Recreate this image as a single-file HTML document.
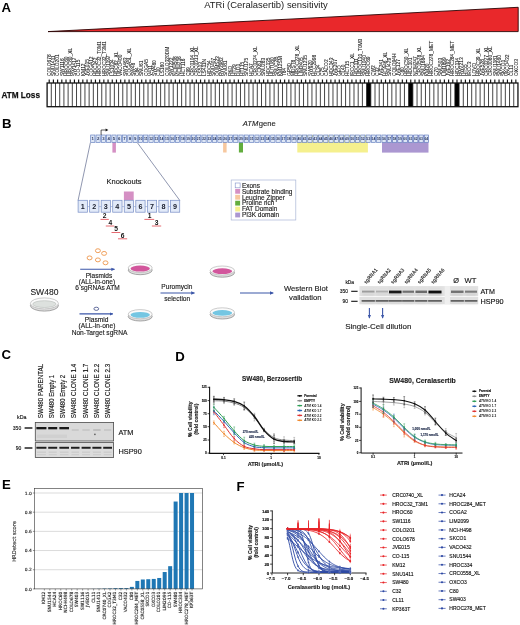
<!DOCTYPE html>
<html lang="en"><head><meta charset="utf-8"><title>ATM loss and ATRi sensitivity</title>
<style>html,body{margin:0;padding:0;background:#fff;}svg{display:block;}</style>
</head><body>
<svg width="520" height="625" viewBox="0 0 520 625" font-family="'Liberation Sans', sans-serif">
<defs>
<filter id="b1" x="-20%" y="-200%" width="140%" height="500%"><feGaussianBlur stdDeviation="0.7 0.55"/></filter>
<filter id="b2" x="-20%" y="-200%" width="140%" height="500%"><feGaussianBlur stdDeviation="1.0 0.9"/></filter>
<marker id="ahb" viewBox="0 0 6 6" refX="5" refY="3" markerWidth="3.5" markerHeight="3.5" orient="auto"><path d="M0,0.4 L6,3 L0,5.6 Z" fill="#3b56a8"/></marker>
<marker id="ahk" viewBox="0 0 6 6" refX="3" refY="3" markerWidth="3.6" markerHeight="3.6" orient="auto"><path d="M0,0.2 L6,3 L0,5.8 Z" fill="#111"/></marker>
</defs>
<rect x="0" y="0" width="520" height="625" fill="#ffffff"/>
<g id="panelA">
<text x="1.60" y="12.40" font-size="13.2" text-anchor="start" font-weight="bold" fill="#000">A</text>
<text x="266.00" y="7.90" font-size="9.45" text-anchor="middle" font-weight="normal" fill="#1a1a1a">ATRi (Ceralasertib) sensitivity</text>
<polygon points="48,31.6 518.2,7.3 518.2,31.6" fill="#e9282b" stroke="#2a0606" stroke-width="0.9" stroke-linejoin="miter"/>
<text x="1.40" y="98.30" font-size="9.5" text-anchor="start" font-weight="bold" fill="#111" stroke="#111" stroke-width="0.25" textLength="38.6" lengthAdjust="spacingAndGlyphs">ATM Loss</text>
<rect x="454.89" y="83.00" width="4.20" height="23.70" fill="#000" stroke="none" stroke-width="0.7"/>
<rect x="366.60" y="83.00" width="4.20" height="23.70" fill="#000" stroke="none" stroke-width="0.7"/>
<rect x="408.64" y="83.00" width="4.20" height="23.70" fill="#000" stroke="none" stroke-width="0.7"/>
<path d="M51.30,83.0 V106.7 M55.51,83.0 V106.7 M59.71,83.0 V106.7 M63.92,83.0 V106.7 M68.12,83.0 V106.7 M72.32,83.0 V106.7 M76.53,83.0 V106.7 M80.73,83.0 V106.7 M84.94,83.0 V106.7 M89.14,83.0 V106.7 M93.34,83.0 V106.7 M97.55,83.0 V106.7 M101.75,83.0 V106.7 M105.96,83.0 V106.7 M110.16,83.0 V106.7 M114.36,83.0 V106.7 M118.57,83.0 V106.7 M122.77,83.0 V106.7 M126.98,83.0 V106.7 M131.18,83.0 V106.7 M135.38,83.0 V106.7 M139.59,83.0 V106.7 M143.79,83.0 V106.7 M148.00,83.0 V106.7 M152.20,83.0 V106.7 M156.40,83.0 V106.7 M160.61,83.0 V106.7 M164.81,83.0 V106.7 M169.02,83.0 V106.7 M173.22,83.0 V106.7 M177.42,83.0 V106.7 M181.63,83.0 V106.7 M185.83,83.0 V106.7 M190.04,83.0 V106.7 M194.24,83.0 V106.7 M198.44,83.0 V106.7 M202.65,83.0 V106.7 M206.85,83.0 V106.7 M211.06,83.0 V106.7 M215.26,83.0 V106.7 M219.46,83.0 V106.7 M223.67,83.0 V106.7 M227.87,83.0 V106.7 M232.08,83.0 V106.7 M236.28,83.0 V106.7 M240.48,83.0 V106.7 M244.69,83.0 V106.7 M248.89,83.0 V106.7 M253.10,83.0 V106.7 M257.30,83.0 V106.7 M261.50,83.0 V106.7 M265.71,83.0 V106.7 M269.91,83.0 V106.7 M274.12,83.0 V106.7 M278.32,83.0 V106.7 M282.52,83.0 V106.7 M286.73,83.0 V106.7 M290.93,83.0 V106.7 M295.14,83.0 V106.7 M299.34,83.0 V106.7 M303.54,83.0 V106.7 M307.75,83.0 V106.7 M311.95,83.0 V106.7 M316.16,83.0 V106.7 M320.36,83.0 V106.7 M324.56,83.0 V106.7 M328.77,83.0 V106.7 M332.97,83.0 V106.7 M337.18,83.0 V106.7 M341.38,83.0 V106.7 M345.58,83.0 V106.7 M349.79,83.0 V106.7 M353.99,83.0 V106.7 M358.20,83.0 V106.7 M362.40,83.0 V106.7 M366.60,83.0 V106.7 M370.81,83.0 V106.7 M375.01,83.0 V106.7 M379.22,83.0 V106.7 M383.42,83.0 V106.7 M387.62,83.0 V106.7 M391.83,83.0 V106.7 M396.03,83.0 V106.7 M400.24,83.0 V106.7 M404.44,83.0 V106.7 M408.64,83.0 V106.7 M412.85,83.0 V106.7 M417.05,83.0 V106.7 M421.26,83.0 V106.7 M425.46,83.0 V106.7 M429.66,83.0 V106.7 M433.87,83.0 V106.7 M438.07,83.0 V106.7 M442.28,83.0 V106.7 M446.48,83.0 V106.7 M450.68,83.0 V106.7 M454.89,83.0 V106.7 M459.09,83.0 V106.7 M463.30,83.0 V106.7 M467.50,83.0 V106.7 M471.70,83.0 V106.7 M475.91,83.0 V106.7 M480.11,83.0 V106.7 M484.32,83.0 V106.7 M488.52,83.0 V106.7 M492.72,83.0 V106.7 M496.93,83.0 V106.7 M501.13,83.0 V106.7 M505.34,83.0 V106.7 M509.54,83.0 V106.7 M513.74,83.0 V106.7 " stroke="#161616" stroke-width="0.8" fill="none"/>
<path d="M49.20,79.6 V83.0 M53.41,79.6 V83.0 M57.61,79.6 V83.0 M61.81,79.6 V83.0 M66.02,79.6 V83.0 M70.22,79.6 V83.0 M74.43,79.6 V83.0 M78.63,79.6 V83.0 M82.83,79.6 V83.0 M87.04,79.6 V83.0 M91.24,79.6 V83.0 M95.45,79.6 V83.0 M99.65,79.6 V83.0 M103.85,79.6 V83.0 M108.06,79.6 V83.0 M112.26,79.6 V83.0 M116.47,79.6 V83.0 M120.67,79.6 V83.0 M124.87,79.6 V83.0 M129.08,79.6 V83.0 M133.28,79.6 V83.0 M137.49,79.6 V83.0 M141.69,79.6 V83.0 M145.89,79.6 V83.0 M150.10,79.6 V83.0 M154.30,79.6 V83.0 M158.51,79.6 V83.0 M162.71,79.6 V83.0 M166.91,79.6 V83.0 M171.12,79.6 V83.0 M175.32,79.6 V83.0 M179.53,79.6 V83.0 M183.73,79.6 V83.0 M187.93,79.6 V83.0 M192.14,79.6 V83.0 M196.34,79.6 V83.0 M200.55,79.6 V83.0 M204.75,79.6 V83.0 M208.95,79.6 V83.0 M213.16,79.6 V83.0 M217.36,79.6 V83.0 M221.57,79.6 V83.0 M225.77,79.6 V83.0 M229.97,79.6 V83.0 M234.18,79.6 V83.0 M238.38,79.6 V83.0 M242.59,79.6 V83.0 M246.79,79.6 V83.0 M250.99,79.6 V83.0 M255.20,79.6 V83.0 M259.40,79.6 V83.0 M263.61,79.6 V83.0 M267.81,79.6 V83.0 M272.01,79.6 V83.0 M276.22,79.6 V83.0 M280.42,79.6 V83.0 M284.63,79.6 V83.0 M288.83,79.6 V83.0 M293.03,79.6 V83.0 M297.24,79.6 V83.0 M301.44,79.6 V83.0 M305.65,79.6 V83.0 M309.85,79.6 V83.0 M314.05,79.6 V83.0 M318.26,79.6 V83.0 M322.46,79.6 V83.0 M326.67,79.6 V83.0 M330.87,79.6 V83.0 M335.07,79.6 V83.0 M339.28,79.6 V83.0 M343.48,79.6 V83.0 M347.69,79.6 V83.0 M351.89,79.6 V83.0 M356.09,79.6 V83.0 M360.30,79.6 V83.0 M364.50,79.6 V83.0 M368.71,79.6 V83.0 M372.91,79.6 V83.0 M377.11,79.6 V83.0 M381.32,79.6 V83.0 M385.52,79.6 V83.0 M389.73,79.6 V83.0 M393.93,79.6 V83.0 M398.13,79.6 V83.0 M402.34,79.6 V83.0 M406.54,79.6 V83.0 M410.75,79.6 V83.0 M414.95,79.6 V83.0 M419.15,79.6 V83.0 M423.36,79.6 V83.0 M427.56,79.6 V83.0 M431.77,79.6 V83.0 M435.97,79.6 V83.0 M440.17,79.6 V83.0 M444.38,79.6 V83.0 M448.58,79.6 V83.0 M452.79,79.6 V83.0 M456.99,79.6 V83.0 M461.19,79.6 V83.0 M465.40,79.6 V83.0 M469.60,79.6 V83.0 M473.81,79.6 V83.0 M478.01,79.6 V83.0 M482.21,79.6 V83.0 M486.42,79.6 V83.0 M490.62,79.6 V83.0 M494.83,79.6 V83.0 M499.03,79.6 V83.0 M503.23,79.6 V83.0 M507.44,79.6 V83.0 M511.64,79.6 V83.0 M515.85,79.6 V83.0 " stroke="#111" stroke-width="1.15" fill="none"/>
<rect x="47.10" y="83.00" width="470.85" height="23.70" fill="none" stroke="#111" stroke-width="1.3"/>
<g font-size="4.85" fill="#1a1a1a" stroke="#1a1a1a" stroke-width="0.07">
<text x="50.90" y="76.1" transform="rotate(-90 50.90 76.1)">COLO678</text>
<text x="55.11" y="76.1" transform="rotate(-90 55.11 76.1)">SNU1411</text>
<text x="59.31" y="76.1" transform="rotate(-90 59.31 76.1)">COLO201</text>
<text x="63.51" y="76.1" transform="rotate(-90 63.51 76.1)">SW1116</text>
<text x="67.72" y="76.1" transform="rotate(-90 67.72 76.1)">HROC60</text>
<text x="71.92" y="76.1" transform="rotate(-90 71.92 76.1)">HROC80_XL</text>
<text x="76.13" y="76.1" transform="rotate(-90 76.13 76.1)">SW1417</text>
<text x="80.33" y="76.1" transform="rotate(-90 80.33 76.1)">CO-115</text>
<text x="84.53" y="76.1" transform="rotate(-90 84.53 76.1)">KM12</text>
<text x="88.74" y="76.1" transform="rotate(-90 88.74 76.1)">JVE015</text>
<text x="92.94" y="76.1" transform="rotate(-90 92.94 76.1)">COGA12</text>
<text x="97.15" y="76.1" transform="rotate(-90 97.15 76.1)">HDC142</text>
<text x="101.35" y="76.1" transform="rotate(-90 101.35 76.1)">HROC32_T0M1</text>
<text x="105.55" y="76.1" transform="rotate(-90 105.55 76.1)">HROC32_T3M1</text>
<text x="109.76" y="76.1" transform="rotate(-90 109.76 76.1)">SNU1197</text>
<text x="113.96" y="76.1" transform="rotate(-90 113.96 76.1)">LS1034</text>
<text x="118.17" y="76.1" transform="rotate(-90 118.17 76.1)">HDC82_XL</text>
<text x="122.37" y="76.1" transform="rotate(-90 122.37 76.1)">VACO400</text>
<text x="126.57" y="76.1" transform="rotate(-90 126.57 76.1)">SW1463</text>
<text x="130.78" y="76.1" transform="rotate(-90 130.78 76.1)">COGA5L_XL</text>
<text x="134.98" y="76.1" transform="rotate(-90 134.98 76.1)">SW48</text>
<text x="139.19" y="76.1" transform="rotate(-90 139.19 76.1)">C84</text>
<text x="143.39" y="76.1" transform="rotate(-90 143.39 76.1)">SNU61</text>
<text x="147.59" y="76.1" transform="rotate(-90 147.59 76.1)">COGA5</text>
<text x="151.80" y="76.1" transform="rotate(-90 151.80 76.1)">V411</text>
<text x="156.00" y="76.1" transform="rotate(-90 156.00 76.1)">SW480</text>
<text x="160.21" y="76.1" transform="rotate(-90 160.21 76.1)">C10</text>
<text x="164.41" y="76.1" transform="rotate(-90 164.41 76.1)">LS180</text>
<text x="168.61" y="76.1" transform="rotate(-90 168.61 76.1)">COLO320DM</text>
<text x="172.82" y="76.1" transform="rotate(-90 172.82 76.1)">SW1222</text>
<text x="177.02" y="76.1" transform="rotate(-90 177.02 76.1)">NCIH508</text>
<text x="181.23" y="76.1" transform="rotate(-90 181.23 76.1)">NCIH716</text>
<text x="185.43" y="76.1" transform="rotate(-90 185.43 76.1)">HCT116</text>
<text x="189.63" y="76.1" transform="rotate(-90 189.63 76.1)">C99</text>
<text x="193.84" y="76.1" transform="rotate(-90 193.84 76.1)">CRC0104_XL</text>
<text x="198.04" y="76.1" transform="rotate(-90 198.04 76.1)">CRC0313_XL</text>
<text x="202.25" y="76.1" transform="rotate(-90 202.25 76.1)">LS513</text>
<text x="206.45" y="76.1" transform="rotate(-90 206.45 76.1)">LS411N</text>
<text x="210.65" y="76.1" transform="rotate(-90 210.65 76.1)">HDC54</text>
<text x="214.86" y="76.1" transform="rotate(-90 214.86 76.1)">SNU407</text>
<text x="219.06" y="76.1" transform="rotate(-90 219.06 76.1)">OUMS23</text>
<text x="223.27" y="76.1" transform="rotate(-90 223.27 76.1)">RW2982</text>
<text x="227.47" y="76.1" transform="rotate(-90 227.47 76.1)">SNU81</text>
<text x="231.67" y="76.1" transform="rotate(-90 231.67 76.1)">RKO</text>
<text x="235.88" y="76.1" transform="rotate(-90 235.88 76.1)">HT29</text>
<text x="240.08" y="76.1" transform="rotate(-90 240.08 76.1)">DLD1</text>
<text x="244.29" y="76.1" transform="rotate(-90 244.29 76.1)">HT115</text>
<text x="248.49" y="76.1" transform="rotate(-90 248.49 76.1)">SNU175</text>
<text x="252.69" y="76.1" transform="rotate(-90 252.69 76.1)">HCA7</text>
<text x="256.90" y="76.1" transform="rotate(-90 256.90 76.1)">CRC0274_XL</text>
<text x="261.10" y="76.1" transform="rotate(-90 261.10 76.1)">CCK81</text>
<text x="265.31" y="76.1" transform="rotate(-90 265.31 76.1)">SNU283</text>
<text x="269.51" y="76.1" transform="rotate(-90 269.51 76.1)">HDC135</text>
<text x="273.71" y="76.1" transform="rotate(-90 273.71 76.1)">HUTU80</text>
<text x="277.92" y="76.1" transform="rotate(-90 277.92 76.1)">SNUC2B</text>
<text x="282.12" y="76.1" transform="rotate(-90 282.12 76.1)">KM12SM</text>
<text x="286.33" y="76.1" transform="rotate(-90 286.33 76.1)">T84</text>
<text x="290.53" y="76.1" transform="rotate(-90 290.53 76.1)">GP5D</text>
<text x="294.73" y="76.1" transform="rotate(-90 294.73 76.1)">MDST8</text>
<text x="298.94" y="76.1" transform="rotate(-90 298.94 76.1)">HROC278_XL</text>
<text x="303.14" y="76.1" transform="rotate(-90 303.14 76.1)">LIM2405</text>
<text x="307.35" y="76.1" transform="rotate(-90 307.35 76.1)">SNU1235</text>
<text x="311.55" y="76.1" transform="rotate(-90 311.55 76.1)">SW620</text>
<text x="315.75" y="76.1" transform="rotate(-90 315.75 76.1)">HCC2998</text>
<text x="319.96" y="76.1" transform="rotate(-90 319.96 76.1)">CL34</text>
<text x="324.16" y="76.1" transform="rotate(-90 324.16 76.1)">C75</text>
<text x="328.37" y="76.1" transform="rotate(-90 328.37 76.1)">CACO2</text>
<text x="332.57" y="76.1" transform="rotate(-90 332.57 76.1)">HDC143</text>
<text x="336.77" y="76.1" transform="rotate(-90 336.77 76.1)">JVE207</text>
<text x="340.98" y="76.1" transform="rotate(-90 340.98 76.1)">GEO</text>
<text x="345.18" y="76.1" transform="rotate(-90 345.18 76.1)">CL40</text>
<text x="349.39" y="76.1" transform="rotate(-90 349.39 76.1)">HCT15</text>
<text x="353.59" y="76.1" transform="rotate(-90 353.59 76.1)">IRCC1_XL</text>
<text x="357.79" y="76.1" transform="rotate(-90 357.79 76.1)">HDC111</text>
<text x="362.00" y="76.1" transform="rotate(-90 362.00 76.1)">HROC131_T0M3</text>
<text x="366.20" y="76.1" transform="rotate(-90 366.20 76.1)">SNU1040</text>
<text x="370.41" y="76.1" transform="rotate(-90 370.41 76.1)">HROC69</text>
<text x="374.61" y="76.1" transform="rotate(-90 374.61 76.1)">CW2</text>
<text x="378.81" y="76.1" transform="rotate(-90 378.81 76.1)">C32</text>
<text x="383.02" y="76.1" transform="rotate(-90 383.02 76.1)">JVE241</text>
<text x="387.22" y="76.1" transform="rotate(-90 387.22 76.1)">HCA46_XL</text>
<text x="391.43" y="76.1" transform="rotate(-90 391.43 76.1)">SNU479</text>
<text x="395.63" y="76.1" transform="rotate(-90 395.63 76.1)">COLO94H</text>
<text x="399.83" y="76.1" transform="rotate(-90 399.83 76.1)">JVE127</text>
<text x="404.04" y="76.1" transform="rotate(-90 404.04 76.1)">C80</text>
<text x="408.24" y="76.1" transform="rotate(-90 408.24 76.1)">HROC50_XL</text>
<text x="412.45" y="76.1" transform="rotate(-90 412.45 76.1)">HDC101</text>
<text x="416.65" y="76.1" transform="rotate(-90 416.65 76.1)">NCIH747</text>
<text x="420.85" y="76.1" transform="rotate(-90 420.85 76.1)">CRC0578_XL</text>
<text x="425.06" y="76.1" transform="rotate(-90 425.06 76.1)">SNU1684</text>
<text x="429.26" y="76.1" transform="rotate(-90 429.26 76.1)">KM20</text>
<text x="433.47" y="76.1" transform="rotate(-90 433.47 76.1)">HROC278_MET</text>
<text x="437.67" y="76.1" transform="rotate(-90 437.67 76.1)">C70</text>
<text x="441.87" y="76.1" transform="rotate(-90 441.87 76.1)">SNU503</text>
<text x="446.08" y="76.1" transform="rotate(-90 446.08 76.1)">LIM1899</text>
<text x="450.28" y="76.1" transform="rotate(-90 450.28 76.1)">JVE192</text>
<text x="454.49" y="76.1" transform="rotate(-90 454.49 76.1)">HROC284_MET</text>
<text x="458.69" y="76.1" transform="rotate(-90 458.69 76.1)">HDC114</text>
<text x="462.89" y="76.1" transform="rotate(-90 462.89 76.1)">RW7213</text>
<text x="467.10" y="76.1" transform="rotate(-90 467.10 76.1)">HT55</text>
<text x="471.30" y="76.1" transform="rotate(-90 471.30 76.1)">IRCC3</text>
<text x="475.51" y="76.1" transform="rotate(-90 475.51 76.1)">LOVO</text>
<text x="479.71" y="76.1" transform="rotate(-90 479.71 76.1)">HROC39_XL</text>
<text x="483.91" y="76.1" transform="rotate(-90 483.91 76.1)">JVE528</text>
<text x="488.12" y="76.1" transform="rotate(-90 488.12 76.1)">CRC0277_XL</text>
<text x="492.32" y="76.1" transform="rotate(-90 492.32 76.1)">CRC0080_XL</text>
<text x="496.53" y="76.1" transform="rotate(-90 496.53 76.1)">SNU1181</text>
<text x="500.73" y="76.1" transform="rotate(-90 500.73 76.1)">SNU1460</text>
<text x="504.93" y="76.1" transform="rotate(-90 504.93 76.1)">SKCO1</text>
<text x="509.14" y="76.1" transform="rotate(-90 509.14 76.1)">VACO432</text>
<text x="513.34" y="76.1" transform="rotate(-90 513.34 76.1)">CL11</text>
<text x="517.55" y="76.1" transform="rotate(-90 517.55 76.1)">OXCO3</text>
</g>
</g>
<g id="panelB">
<text x="2.00" y="127.60" font-size="13.2" text-anchor="start" font-weight="bold" fill="#000">B</text>
<text x="242.8" y="126.2" font-size="7.65" fill="#1a1a1a" stroke="#1a1a1a" stroke-width="0.1"><tspan font-style="italic">ATM</tspan><tspan dx="0.3">gene</tspan></text>
<rect x="297.30" y="135.00" width="70.60" height="17.50" fill="#f5f08e" stroke="none" stroke-width="0.7"/>
<rect x="382.00" y="135.00" width="46.50" height="17.60" fill="#ab97d1" stroke="none" stroke-width="0.7"/>
<rect x="112.40" y="142.00" width="3.50" height="10.60" fill="#d590c4" stroke="none" stroke-width="0.7"/>
<rect x="223.10" y="142.00" width="3.50" height="10.50" fill="#f7c89f" stroke="none" stroke-width="0.7"/>
<rect x="238.90" y="142.00" width="4.10" height="10.50" fill="#62ad3e" stroke="none" stroke-width="0.7"/>
<rect x="90.70" y="137.30" width="337.78" height="2.80" fill="#cfdcf0" stroke="none" stroke-width="0.7"/>
<g font-size="4.3" text-anchor="middle" fill="#28355f" font-weight="bold">
<rect x="90.70" y="135.00" width="4.20" height="7.50" fill="#dde6f5" stroke="#627dbf" stroke-width="0.65"/>
<text x="92.80" y="140.45">1</text>
<rect x="96.00" y="135.00" width="4.20" height="7.50" fill="#dde6f5" stroke="#627dbf" stroke-width="0.65"/>
<text x="98.09" y="140.45">2</text>
<rect x="101.29" y="135.00" width="4.20" height="7.50" fill="#dde6f5" stroke="#627dbf" stroke-width="0.65"/>
<text x="103.39" y="140.45">3</text>
<rect x="106.59" y="135.00" width="4.20" height="7.50" fill="#dde6f5" stroke="#627dbf" stroke-width="0.65"/>
<text x="108.69" y="140.45">4</text>
<rect x="111.88" y="135.00" width="4.20" height="7.50" fill="#dde6f5" stroke="#627dbf" stroke-width="0.65"/>
<text x="113.98" y="140.45">5</text>
<rect x="117.18" y="135.00" width="4.20" height="7.50" fill="#dde6f5" stroke="#627dbf" stroke-width="0.65"/>
<text x="119.28" y="140.45">6</text>
<rect x="122.47" y="135.00" width="4.20" height="7.50" fill="#dde6f5" stroke="#627dbf" stroke-width="0.65"/>
<text x="124.57" y="140.45">7</text>
<rect x="127.77" y="135.00" width="4.20" height="7.50" fill="#dde6f5" stroke="#627dbf" stroke-width="0.65"/>
<text x="129.87" y="140.45">8</text>
<rect x="133.06" y="135.00" width="4.20" height="7.50" fill="#dde6f5" stroke="#627dbf" stroke-width="0.65"/>
<text x="135.16" y="140.45">9</text>
<rect x="138.36" y="135.00" width="4.20" height="7.50" fill="#dde6f5" stroke="#627dbf" stroke-width="0.65"/>
<text x="140.46" y="140.45" textLength="3.7" lengthAdjust="spacingAndGlyphs">10</text>
<rect x="143.65" y="135.00" width="4.20" height="7.50" fill="#dde6f5" stroke="#627dbf" stroke-width="0.65"/>
<text x="145.75" y="140.45" textLength="3.7" lengthAdjust="spacingAndGlyphs">11</text>
<rect x="148.94" y="135.00" width="4.20" height="7.50" fill="#dde6f5" stroke="#627dbf" stroke-width="0.65"/>
<text x="151.04" y="140.45" textLength="3.7" lengthAdjust="spacingAndGlyphs">12</text>
<rect x="154.24" y="135.00" width="4.20" height="7.50" fill="#dde6f5" stroke="#627dbf" stroke-width="0.65"/>
<text x="156.34" y="140.45" textLength="3.7" lengthAdjust="spacingAndGlyphs">13</text>
<rect x="159.53" y="135.00" width="4.20" height="7.50" fill="#dde6f5" stroke="#627dbf" stroke-width="0.65"/>
<text x="161.63" y="140.45" textLength="3.7" lengthAdjust="spacingAndGlyphs">14</text>
<rect x="164.83" y="135.00" width="4.20" height="7.50" fill="#dde6f5" stroke="#627dbf" stroke-width="0.65"/>
<text x="166.93" y="140.45" textLength="3.7" lengthAdjust="spacingAndGlyphs">15</text>
<rect x="170.12" y="135.00" width="4.20" height="7.50" fill="#dde6f5" stroke="#627dbf" stroke-width="0.65"/>
<text x="172.22" y="140.45" textLength="3.7" lengthAdjust="spacingAndGlyphs">16</text>
<rect x="175.42" y="135.00" width="4.20" height="7.50" fill="#dde6f5" stroke="#627dbf" stroke-width="0.65"/>
<text x="177.52" y="140.45" textLength="3.7" lengthAdjust="spacingAndGlyphs">17</text>
<rect x="180.72" y="135.00" width="4.20" height="7.50" fill="#dde6f5" stroke="#627dbf" stroke-width="0.65"/>
<text x="182.81" y="140.45" textLength="3.7" lengthAdjust="spacingAndGlyphs">18</text>
<rect x="186.01" y="135.00" width="4.20" height="7.50" fill="#dde6f5" stroke="#627dbf" stroke-width="0.65"/>
<text x="188.11" y="140.45" textLength="3.7" lengthAdjust="spacingAndGlyphs">19</text>
<rect x="191.31" y="135.00" width="4.20" height="7.50" fill="#dde6f5" stroke="#627dbf" stroke-width="0.65"/>
<text x="193.41" y="140.45" textLength="3.7" lengthAdjust="spacingAndGlyphs">20</text>
<rect x="196.60" y="135.00" width="4.20" height="7.50" fill="#dde6f5" stroke="#627dbf" stroke-width="0.65"/>
<text x="198.70" y="140.45" textLength="3.7" lengthAdjust="spacingAndGlyphs">21</text>
<rect x="201.89" y="135.00" width="4.20" height="7.50" fill="#dde6f5" stroke="#627dbf" stroke-width="0.65"/>
<text x="203.99" y="140.45" textLength="3.7" lengthAdjust="spacingAndGlyphs">22</text>
<rect x="207.19" y="135.00" width="4.20" height="7.50" fill="#dde6f5" stroke="#627dbf" stroke-width="0.65"/>
<text x="209.29" y="140.45" textLength="3.7" lengthAdjust="spacingAndGlyphs">23</text>
<rect x="212.49" y="135.00" width="4.20" height="7.50" fill="#dde6f5" stroke="#627dbf" stroke-width="0.65"/>
<text x="214.59" y="140.45" textLength="3.7" lengthAdjust="spacingAndGlyphs">24</text>
<rect x="217.78" y="135.00" width="4.20" height="7.50" fill="#dde6f5" stroke="#627dbf" stroke-width="0.65"/>
<text x="219.88" y="140.45" textLength="3.7" lengthAdjust="spacingAndGlyphs">25</text>
<rect x="223.07" y="135.00" width="4.20" height="7.50" fill="#dde6f5" stroke="#627dbf" stroke-width="0.65"/>
<text x="225.17" y="140.45" textLength="3.7" lengthAdjust="spacingAndGlyphs">26</text>
<rect x="228.37" y="135.00" width="4.20" height="7.50" fill="#dde6f5" stroke="#627dbf" stroke-width="0.65"/>
<text x="230.47" y="140.45" textLength="3.7" lengthAdjust="spacingAndGlyphs">27</text>
<rect x="233.67" y="135.00" width="4.20" height="7.50" fill="#dde6f5" stroke="#627dbf" stroke-width="0.65"/>
<text x="235.77" y="140.45" textLength="3.7" lengthAdjust="spacingAndGlyphs">28</text>
<rect x="238.96" y="135.00" width="4.20" height="7.50" fill="#dde6f5" stroke="#627dbf" stroke-width="0.65"/>
<text x="241.06" y="140.45" textLength="3.7" lengthAdjust="spacingAndGlyphs">29</text>
<rect x="244.25" y="135.00" width="4.20" height="7.50" fill="#dde6f5" stroke="#627dbf" stroke-width="0.65"/>
<text x="246.35" y="140.45" textLength="3.7" lengthAdjust="spacingAndGlyphs">30</text>
<rect x="249.55" y="135.00" width="4.20" height="7.50" fill="#dde6f5" stroke="#627dbf" stroke-width="0.65"/>
<text x="251.65" y="140.45" textLength="3.7" lengthAdjust="spacingAndGlyphs">31</text>
<rect x="254.85" y="135.00" width="4.20" height="7.50" fill="#dde6f5" stroke="#627dbf" stroke-width="0.65"/>
<text x="256.95" y="140.45" textLength="3.7" lengthAdjust="spacingAndGlyphs">32</text>
<rect x="260.14" y="135.00" width="4.20" height="7.50" fill="#dde6f5" stroke="#627dbf" stroke-width="0.65"/>
<text x="262.24" y="140.45" textLength="3.7" lengthAdjust="spacingAndGlyphs">33</text>
<rect x="265.44" y="135.00" width="4.20" height="7.50" fill="#dde6f5" stroke="#627dbf" stroke-width="0.65"/>
<text x="267.54" y="140.45" textLength="3.7" lengthAdjust="spacingAndGlyphs">34</text>
<rect x="270.73" y="135.00" width="4.20" height="7.50" fill="#dde6f5" stroke="#627dbf" stroke-width="0.65"/>
<text x="272.83" y="140.45" textLength="3.7" lengthAdjust="spacingAndGlyphs">35</text>
<rect x="276.02" y="135.00" width="4.20" height="7.50" fill="#dde6f5" stroke="#627dbf" stroke-width="0.65"/>
<text x="278.12" y="140.45" textLength="3.7" lengthAdjust="spacingAndGlyphs">36</text>
<rect x="281.32" y="135.00" width="4.20" height="7.50" fill="#dde6f5" stroke="#627dbf" stroke-width="0.65"/>
<text x="283.42" y="140.45" textLength="3.7" lengthAdjust="spacingAndGlyphs">37</text>
<rect x="286.62" y="135.00" width="4.20" height="7.50" fill="#dde6f5" stroke="#627dbf" stroke-width="0.65"/>
<text x="288.72" y="140.45" textLength="3.7" lengthAdjust="spacingAndGlyphs">38</text>
<rect x="291.91" y="135.00" width="4.20" height="7.50" fill="#dde6f5" stroke="#627dbf" stroke-width="0.65"/>
<text x="294.01" y="140.45" textLength="3.7" lengthAdjust="spacingAndGlyphs">39</text>
<rect x="297.20" y="135.00" width="4.20" height="7.50" fill="#dde6f5" stroke="#627dbf" stroke-width="0.65"/>
<text x="299.31" y="140.45" textLength="3.7" lengthAdjust="spacingAndGlyphs">40</text>
<rect x="302.50" y="135.00" width="4.20" height="7.50" fill="#dde6f5" stroke="#627dbf" stroke-width="0.65"/>
<text x="304.60" y="140.45" textLength="3.7" lengthAdjust="spacingAndGlyphs">41</text>
<rect x="307.80" y="135.00" width="4.20" height="7.50" fill="#dde6f5" stroke="#627dbf" stroke-width="0.65"/>
<text x="309.90" y="140.45" textLength="3.7" lengthAdjust="spacingAndGlyphs">42</text>
<rect x="313.09" y="135.00" width="4.20" height="7.50" fill="#dde6f5" stroke="#627dbf" stroke-width="0.65"/>
<text x="315.19" y="140.45" textLength="3.7" lengthAdjust="spacingAndGlyphs">43</text>
<rect x="318.38" y="135.00" width="4.20" height="7.50" fill="#dde6f5" stroke="#627dbf" stroke-width="0.65"/>
<text x="320.49" y="140.45" textLength="3.7" lengthAdjust="spacingAndGlyphs">44</text>
<rect x="323.68" y="135.00" width="4.20" height="7.50" fill="#dde6f5" stroke="#627dbf" stroke-width="0.65"/>
<text x="325.78" y="140.45" textLength="3.7" lengthAdjust="spacingAndGlyphs">45</text>
<rect x="328.98" y="135.00" width="4.20" height="7.50" fill="#dde6f5" stroke="#627dbf" stroke-width="0.65"/>
<text x="331.08" y="140.45" textLength="3.7" lengthAdjust="spacingAndGlyphs">46</text>
<rect x="334.27" y="135.00" width="4.20" height="7.50" fill="#dde6f5" stroke="#627dbf" stroke-width="0.65"/>
<text x="336.37" y="140.45" textLength="3.7" lengthAdjust="spacingAndGlyphs">47</text>
<rect x="339.56" y="135.00" width="4.20" height="7.50" fill="#dde6f5" stroke="#627dbf" stroke-width="0.65"/>
<text x="341.67" y="140.45" textLength="3.7" lengthAdjust="spacingAndGlyphs">48</text>
<rect x="344.86" y="135.00" width="4.20" height="7.50" fill="#dde6f5" stroke="#627dbf" stroke-width="0.65"/>
<text x="346.96" y="140.45" textLength="3.7" lengthAdjust="spacingAndGlyphs">49</text>
<rect x="350.15" y="135.00" width="4.20" height="7.50" fill="#dde6f5" stroke="#627dbf" stroke-width="0.65"/>
<text x="352.25" y="140.45" textLength="3.7" lengthAdjust="spacingAndGlyphs">50</text>
<rect x="355.45" y="135.00" width="4.20" height="7.50" fill="#dde6f5" stroke="#627dbf" stroke-width="0.65"/>
<text x="357.55" y="140.45" textLength="3.7" lengthAdjust="spacingAndGlyphs">51</text>
<rect x="360.75" y="135.00" width="4.20" height="7.50" fill="#dde6f5" stroke="#627dbf" stroke-width="0.65"/>
<text x="362.85" y="140.45" textLength="3.7" lengthAdjust="spacingAndGlyphs">52</text>
<rect x="366.04" y="135.00" width="4.20" height="7.50" fill="#dde6f5" stroke="#627dbf" stroke-width="0.65"/>
<text x="368.14" y="140.45" textLength="3.7" lengthAdjust="spacingAndGlyphs">53</text>
<rect x="371.33" y="135.00" width="4.20" height="7.50" fill="#dde6f5" stroke="#627dbf" stroke-width="0.65"/>
<text x="373.44" y="140.45" textLength="3.7" lengthAdjust="spacingAndGlyphs">54</text>
<rect x="376.63" y="135.00" width="4.20" height="7.50" fill="#dde6f5" stroke="#627dbf" stroke-width="0.65"/>
<text x="378.73" y="140.45" textLength="3.7" lengthAdjust="spacingAndGlyphs">55</text>
<rect x="381.93" y="135.00" width="4.20" height="7.50" fill="#dde6f5" stroke="#627dbf" stroke-width="0.65"/>
<text x="384.03" y="140.45" textLength="3.7" lengthAdjust="spacingAndGlyphs">56</text>
<rect x="387.22" y="135.00" width="4.20" height="7.50" fill="#dde6f5" stroke="#627dbf" stroke-width="0.65"/>
<text x="389.32" y="140.45" textLength="3.7" lengthAdjust="spacingAndGlyphs">57</text>
<rect x="392.51" y="135.00" width="4.20" height="7.50" fill="#dde6f5" stroke="#627dbf" stroke-width="0.65"/>
<text x="394.62" y="140.45" textLength="3.7" lengthAdjust="spacingAndGlyphs">58</text>
<rect x="397.81" y="135.00" width="4.20" height="7.50" fill="#dde6f5" stroke="#627dbf" stroke-width="0.65"/>
<text x="399.91" y="140.45" textLength="3.7" lengthAdjust="spacingAndGlyphs">59</text>
<rect x="403.10" y="135.00" width="4.20" height="7.50" fill="#dde6f5" stroke="#627dbf" stroke-width="0.65"/>
<text x="405.20" y="140.45" textLength="3.7" lengthAdjust="spacingAndGlyphs">60</text>
<rect x="408.40" y="135.00" width="4.20" height="7.50" fill="#dde6f5" stroke="#627dbf" stroke-width="0.65"/>
<text x="410.50" y="140.45" textLength="3.7" lengthAdjust="spacingAndGlyphs">61</text>
<rect x="413.69" y="135.00" width="4.20" height="7.50" fill="#dde6f5" stroke="#627dbf" stroke-width="0.65"/>
<text x="415.80" y="140.45" textLength="3.7" lengthAdjust="spacingAndGlyphs">62</text>
<rect x="418.99" y="135.00" width="4.20" height="7.50" fill="#dde6f5" stroke="#627dbf" stroke-width="0.65"/>
<text x="421.09" y="140.45" textLength="3.7" lengthAdjust="spacingAndGlyphs">63</text>
<rect x="424.28" y="135.00" width="4.20" height="7.50" fill="#dde6f5" stroke="#627dbf" stroke-width="0.65"/>
<text x="426.38" y="140.45" textLength="3.7" lengthAdjust="spacingAndGlyphs">64</text>
</g>
<path d="M101.1,135 V130 H106" fill="none" stroke="#111" stroke-width="0.7"/>
<polygon points="105.6,128.5 108.4,130 105.6,131.5" fill="#111"/>
<line x1="90.40" y1="142.60" x2="78.10" y2="200.30" stroke="#44507a" stroke-width="0.6"/>
<line x1="137.30" y1="142.60" x2="179.70" y2="200.30" stroke="#44507a" stroke-width="0.6"/>
<text x="124.00" y="184.00" font-size="7.5" text-anchor="middle" font-weight="normal" fill="#1a1a1a" stroke="#1a1a1a" stroke-width="0.13">Knockouts</text>
<rect x="123.90" y="191.50" width="9.80" height="8.80" fill="#d590c4" stroke="none" stroke-width="0.7"/>
<line x1="80.00" y1="206.60" x2="178.00" y2="206.60" stroke="#8096c8" stroke-width="0.55"/>
<g font-size="7.2" text-anchor="middle" font-weight="bold" fill="#151a28">
<rect x="78.10" y="200.30" width="9.30" height="11.90" fill="#e2eaf8" stroke="#7d93c8" stroke-width="0.75"/>
<text x="82.75" y="209.1">1</text>
<rect x="89.64" y="200.30" width="9.30" height="11.90" fill="#e2eaf8" stroke="#7d93c8" stroke-width="0.75"/>
<text x="94.29" y="209.1">2</text>
<rect x="101.18" y="200.30" width="9.30" height="11.90" fill="#e2eaf8" stroke="#7d93c8" stroke-width="0.75"/>
<text x="105.83" y="209.1">3</text>
<rect x="112.72" y="200.30" width="9.30" height="11.90" fill="#e2eaf8" stroke="#7d93c8" stroke-width="0.75"/>
<text x="117.37" y="209.1">4</text>
<rect x="124.26" y="200.30" width="9.30" height="11.90" fill="#e2eaf8" stroke="#7d93c8" stroke-width="0.75"/>
<text x="128.91" y="209.1">5</text>
<rect x="135.80" y="200.30" width="9.30" height="11.90" fill="#e2eaf8" stroke="#7d93c8" stroke-width="0.75"/>
<text x="140.45" y="209.1">6</text>
<rect x="147.34" y="200.30" width="9.30" height="11.90" fill="#e2eaf8" stroke="#7d93c8" stroke-width="0.75"/>
<text x="151.99" y="209.1">7</text>
<rect x="158.88" y="200.30" width="9.30" height="11.90" fill="#e2eaf8" stroke="#7d93c8" stroke-width="0.75"/>
<text x="163.53" y="209.1">8</text>
<rect x="170.42" y="200.30" width="9.30" height="11.90" fill="#e2eaf8" stroke="#7d93c8" stroke-width="0.75"/>
<text x="175.07" y="209.1">9</text>
</g>
<line x1="100.50" y1="219.40" x2="108.80" y2="219.40" stroke="#e0444c" stroke-width="0.8"/>
<text x="104.60" y="218.10" font-size="6.7" text-anchor="middle" font-weight="bold" fill="#111">2</text>
<line x1="105.80" y1="226.00" x2="114.30" y2="226.00" stroke="#e0444c" stroke-width="0.8"/>
<text x="110.40" y="224.80" font-size="6.7" text-anchor="middle" font-weight="bold" fill="#111">4</text>
<line x1="111.50" y1="232.50" x2="120.30" y2="232.50" stroke="#e0444c" stroke-width="0.8"/>
<text x="116.20" y="231.30" font-size="6.7" text-anchor="middle" font-weight="bold" fill="#111">5</text>
<line x1="118.00" y1="238.80" x2="127.20" y2="238.80" stroke="#e0444c" stroke-width="0.8"/>
<text x="122.60" y="237.70" font-size="6.7" text-anchor="middle" font-weight="bold" fill="#111">6</text>
<line x1="144.40" y1="219.40" x2="154.20" y2="219.40" stroke="#e0444c" stroke-width="0.8"/>
<text x="149.60" y="218.10" font-size="6.7" text-anchor="middle" font-weight="bold" fill="#111">1</text>
<line x1="151.90" y1="226.00" x2="161.20" y2="226.00" stroke="#e0444c" stroke-width="0.8"/>
<text x="156.60" y="224.80" font-size="6.7" text-anchor="middle" font-weight="bold" fill="#111">3</text>
<rect x="231.20" y="180.00" width="64.60" height="40.00" fill="#fff" stroke="#a9b6d6" stroke-width="0.7"/>
<rect x="235.20" y="183.00" width="4.90" height="4.80" fill="#ffffff" stroke="#7f8fc9" stroke-width="0.6"/>
<text x="241.90" y="187.70" font-size="6.5" text-anchor="start" font-weight="normal" fill="#1a1a1a" stroke="#1a1a1a" stroke-width="0.13">Exons</text>
<rect x="235.20" y="188.92" width="4.90" height="4.80" fill="#d590c4" stroke="none" stroke-width="0.6"/>
<text x="241.90" y="193.62" font-size="6.5" text-anchor="start" font-weight="normal" fill="#1a1a1a" stroke="#1a1a1a" stroke-width="0.13">Substrate binding</text>
<rect x="235.20" y="194.84" width="4.90" height="4.80" fill="#f7c89f" stroke="none" stroke-width="0.6"/>
<text x="241.90" y="199.54" font-size="6.5" text-anchor="start" font-weight="normal" fill="#1a1a1a" stroke="#1a1a1a" stroke-width="0.13">Leucine Zipper</text>
<rect x="235.20" y="200.76" width="4.90" height="4.80" fill="#62ad3e" stroke="none" stroke-width="0.6"/>
<text x="241.90" y="205.46" font-size="6.5" text-anchor="start" font-weight="normal" fill="#1a1a1a" stroke="#1a1a1a" stroke-width="0.13">Proline rich</text>
<rect x="235.20" y="206.68" width="4.90" height="4.80" fill="#f5f08e" stroke="none" stroke-width="0.6"/>
<text x="241.90" y="211.38" font-size="6.5" text-anchor="start" font-weight="normal" fill="#1a1a1a" stroke="#1a1a1a" stroke-width="0.13">FAT Domain</text>
<rect x="235.20" y="212.60" width="4.90" height="4.80" fill="#ab97d1" stroke="none" stroke-width="0.6"/>
<text x="241.90" y="217.30" font-size="6.5" text-anchor="start" font-weight="normal" fill="#1a1a1a" stroke="#1a1a1a" stroke-width="0.13">PI3K domain</text>
</g>
<g id="workflow">
<text x="44.40" y="294.90" font-size="8.55" text-anchor="middle" font-weight="normal" fill="#1a1a1a" stroke="#1a1a1a" stroke-width="0.1">SW480</text>
<ellipse cx="44.4" cy="305.60" rx="14.0" ry="5.50" fill="#dedede" stroke="#8c8c8c" stroke-width="0.75"/>
<ellipse cx="44.4" cy="303.40" rx="14.0" ry="5.50" fill="#fbfbfb" stroke="#a4a4a4" stroke-width="0.55"/>
<ellipse cx="44.4" cy="304.10" rx="11.70" ry="3.40" fill="#dde1de" stroke="#a9aeaa" stroke-width="0.5"/>
<ellipse cx="97.9" cy="250.7" rx="2.5" ry="1.95" fill="#fff" stroke="#f0a05c" stroke-width="1.0"/>
<ellipse cx="104.1" cy="253.4" rx="2.5" ry="1.95" fill="#fff" stroke="#f0a05c" stroke-width="1.0"/>
<ellipse cx="89.6" cy="257.9" rx="2.5" ry="1.95" fill="#fff" stroke="#f0a05c" stroke-width="1.0"/>
<ellipse cx="97.9" cy="259.9" rx="2.5" ry="1.95" fill="#fff" stroke="#f0a05c" stroke-width="1.0"/>
<ellipse cx="105.5" cy="262.8" rx="2.5" ry="1.95" fill="#fff" stroke="#f0a05c" stroke-width="1.0"/>
<path d="M80.2,269.3 H114.5" stroke="#3b56a8" stroke-width="1.1" fill="none" marker-end="url(#ahb)"/>
<text x="99.00" y="277.70" font-size="6.55" text-anchor="middle" font-weight="normal" fill="#1a1a1a" stroke="#1a1a1a" stroke-width="0.13">Plasmids</text>
<text x="96.90" y="283.90" font-size="6.55" text-anchor="middle" font-weight="normal" fill="#1a1a1a" stroke="#1a1a1a" stroke-width="0.13">(ALL-in-one)</text>
<text x="97.50" y="290.10" font-size="6.55" text-anchor="middle" font-weight="normal" fill="#1a1a1a" stroke="#1a1a1a" stroke-width="0.13">6 sgRNAs ATM</text>
<ellipse cx="96.3" cy="308.8" rx="2.4" ry="1.6" fill="#fff" stroke="#3d4a85" stroke-width="0.8"/>
<path d="M79.5,313.9 H112.8" stroke="#3b56a8" stroke-width="1.1" fill="none" marker-end="url(#ahb)"/>
<text x="96.60" y="321.70" font-size="6.65" text-anchor="middle" font-weight="normal" fill="#1a1a1a" stroke="#1a1a1a" stroke-width="0.13">Plasmid</text>
<text x="97.00" y="328.30" font-size="6.65" text-anchor="middle" font-weight="normal" fill="#1a1a1a" stroke="#1a1a1a" stroke-width="0.13">(ALL-in-one)</text>
<text x="99.50" y="334.90" font-size="6.65" text-anchor="middle" font-weight="normal" fill="#1a1a1a" stroke="#1a1a1a" stroke-width="0.13">Non-Target sgRNA</text>
<ellipse cx="140.2" cy="270.10" rx="12.0" ry="4.60" fill="#dedede" stroke="#8c8c8c" stroke-width="0.75"/>
<ellipse cx="140.2" cy="267.90" rx="12.0" ry="4.60" fill="#fbfbfb" stroke="#a4a4a4" stroke-width="0.55"/>
<ellipse cx="140.2" cy="268.55" rx="9.70" ry="2.95" fill="#d2569c"/>
<ellipse cx="140.2" cy="316.40" rx="12.0" ry="4.60" fill="#dedede" stroke="#8c8c8c" stroke-width="0.75"/>
<ellipse cx="140.2" cy="314.20" rx="12.0" ry="4.60" fill="#fbfbfb" stroke="#a4a4a4" stroke-width="0.55"/>
<ellipse cx="140.2" cy="314.85" rx="9.70" ry="2.95" fill="#74c6e2"/>
<text x="176.90" y="288.80" font-size="6.6" text-anchor="middle" font-weight="normal" fill="#1a1a1a" stroke="#1a1a1a" stroke-width="0.13">Puromycin</text>
<path d="M160.5,293 H194.4" stroke="#3b56a8" stroke-width="1.1" fill="none" marker-end="url(#ahb)"/>
<text x="177.20" y="300.80" font-size="6.6" text-anchor="middle" font-weight="normal" fill="#1a1a1a" stroke="#1a1a1a" stroke-width="0.13">selection</text>
<ellipse cx="222.3" cy="272.70" rx="12.2" ry="4.50" fill="#dedede" stroke="#8c8c8c" stroke-width="0.75"/>
<ellipse cx="222.3" cy="270.50" rx="12.2" ry="4.50" fill="#fbfbfb" stroke="#a4a4a4" stroke-width="0.55"/>
<ellipse cx="222.3" cy="271.15" rx="9.90" ry="2.85" fill="#d2569c"/>
<ellipse cx="222.3" cy="314.50" rx="12.2" ry="4.50" fill="#dedede" stroke="#8c8c8c" stroke-width="0.75"/>
<ellipse cx="222.3" cy="312.30" rx="12.2" ry="4.50" fill="#fbfbfb" stroke="#a4a4a4" stroke-width="0.55"/>
<ellipse cx="222.3" cy="312.95" rx="9.90" ry="2.85" fill="#74c6e2"/>
<path d="M240,293 H273.2" stroke="#3b56a8" stroke-width="1.1" fill="none" marker-end="url(#ahb)"/>
<text x="305.90" y="291.30" font-size="7.7" text-anchor="middle" font-weight="normal" fill="#1a1a1a" stroke="#1a1a1a" stroke-width="0.13">Western Blot</text>
<text x="305.30" y="300.10" font-size="7.7" text-anchor="middle" font-weight="normal" fill="#1a1a1a" stroke="#1a1a1a" stroke-width="0.13">validation</text>
<text x="345.40" y="284.30" font-size="4.9" text-anchor="start" font-weight="normal" fill="#111" stroke="#111" stroke-width="0.13">kDa</text>
<text x="348.00" y="293.00" font-size="4.9" text-anchor="end" font-weight="normal" fill="#111" stroke="#111" stroke-width="0.13">350</text>
<text x="348.00" y="303.00" font-size="4.9" text-anchor="end" font-weight="normal" fill="#111" stroke="#111" stroke-width="0.13">90</text>
<line x1="351.20" y1="291.30" x2="357.60" y2="291.30" stroke="#111" stroke-width="1.1"/>
<line x1="351.20" y1="301.30" x2="357.60" y2="301.30" stroke="#111" stroke-width="1.1"/>
<rect x="359.40" y="286.10" width="118.80" height="10.10" fill="#e3e3e3" stroke="none" stroke-width="0.7"/>
<rect x="359.40" y="297.00" width="118.80" height="7.30" fill="#e0e0e0" stroke="none" stroke-width="0.7"/>
<rect x="444.70" y="286.10" width="5.30" height="18.20" fill="#efefef" stroke="none" stroke-width="0.7"/>
<g filter="url(#b1)">
<rect x="362" y="290.6" width="12.5" height="1.96" fill="#0c0c0c" opacity="0.3"/>
<rect x="361.6" y="300.2" width="13.3" height="1.4" fill="#1c1c1c" opacity="0.8"/>
<rect x="376" y="290.6" width="12.0" height="1.86" fill="#0c0c0c" opacity="0.22"/>
<rect x="375.6" y="300.2" width="12.8" height="1.4" fill="#1c1c1c" opacity="0.8"/>
<rect x="389" y="290.6" width="12.5" height="2.74" fill="#0c0c0c" opacity="0.95"/>
<rect x="388.6" y="300.2" width="13.3" height="1.4" fill="#1c1c1c" opacity="0.8"/>
<rect x="402.5" y="290.6" width="11.5" height="2.20" fill="#0c0c0c" opacity="0.5"/>
<rect x="402.1" y="300.2" width="12.3" height="1.4" fill="#1c1c1c" opacity="0.8"/>
<rect x="415.5" y="290.6" width="11.5" height="2.30" fill="#0c0c0c" opacity="0.58"/>
<rect x="415.1" y="300.2" width="12.3" height="1.4" fill="#1c1c1c" opacity="0.8"/>
<rect x="428.5" y="290.6" width="13.0" height="2.80" fill="#0c0c0c" opacity="1.0"/>
<rect x="428.1" y="300.2" width="13.8" height="1.4" fill="#1c1c1c" opacity="0.8"/>
<rect x="451" y="290.6" width="12.5" height="2.26" fill="#0c0c0c" opacity="0.55"/>
<rect x="450.6" y="300.2" width="13.3" height="1.4" fill="#1c1c1c" opacity="0.8"/>
<rect x="465" y="290.6" width="12.0" height="2.14" fill="#0c0c0c" opacity="0.45"/>
<rect x="464.6" y="300.2" width="12.8" height="1.4" fill="#1c1c1c" opacity="0.8"/>
</g>
<g filter="url(#b2)">
<rect x="362" y="293.6" width="12.5" height="1.4" fill="#555" opacity="0.19"/>
<rect x="362" y="288.0" width="12.5" height="1.0" fill="#777" opacity="0.08"/>
<rect x="362" y="302.6" width="12.5" height="0.9" fill="#888" opacity="0.25"/>
<rect x="376" y="293.6" width="12.0" height="1.4" fill="#555" opacity="0.17"/>
<rect x="376" y="288.0" width="12.0" height="1.0" fill="#777" opacity="0.07"/>
<rect x="376" y="302.6" width="12.0" height="0.9" fill="#888" opacity="0.25"/>
<rect x="389" y="293.6" width="12.5" height="1.4" fill="#555" opacity="0.33"/>
<rect x="389" y="288.0" width="12.5" height="1.0" fill="#777" opacity="0.15"/>
<rect x="389" y="302.6" width="12.5" height="0.9" fill="#888" opacity="0.25"/>
<rect x="402.5" y="293.6" width="11.5" height="1.4" fill="#555" opacity="0.23"/>
<rect x="402.5" y="288.0" width="11.5" height="1.0" fill="#777" opacity="0.10"/>
<rect x="402.5" y="302.6" width="11.5" height="0.9" fill="#888" opacity="0.25"/>
<rect x="415.5" y="293.6" width="11.5" height="1.4" fill="#555" opacity="0.25"/>
<rect x="415.5" y="288.0" width="11.5" height="1.0" fill="#777" opacity="0.11"/>
<rect x="415.5" y="302.6" width="11.5" height="0.9" fill="#888" opacity="0.25"/>
<rect x="428.5" y="293.6" width="13.0" height="1.4" fill="#555" opacity="0.34"/>
<rect x="428.5" y="288.0" width="13.0" height="1.0" fill="#777" opacity="0.15"/>
<rect x="428.5" y="302.6" width="13.0" height="0.9" fill="#888" opacity="0.25"/>
<rect x="451" y="293.6" width="12.5" height="1.4" fill="#555" opacity="0.24"/>
<rect x="451" y="288.0" width="12.5" height="1.0" fill="#777" opacity="0.11"/>
<rect x="451" y="302.6" width="12.5" height="0.9" fill="#888" opacity="0.25"/>
<rect x="465" y="293.6" width="12.0" height="1.4" fill="#555" opacity="0.22"/>
<rect x="465" y="288.0" width="12.0" height="1.0" fill="#777" opacity="0.10"/>
<rect x="465" y="302.6" width="12.0" height="0.9" fill="#888" opacity="0.25"/>
</g>
<text x="366.20" y="284.20" font-size="5.5" text-anchor="start" font-weight="bold" fill="#222" transform="rotate(-50 366.20 284.20)" textLength="18.2" lengthAdjust="spacingAndGlyphs">sgRNA1</text>
<text x="379.60" y="284.20" font-size="5.5" text-anchor="start" font-weight="bold" fill="#222" transform="rotate(-50 379.60 284.20)" textLength="18.2" lengthAdjust="spacingAndGlyphs">sgRNA2</text>
<text x="393.00" y="284.20" font-size="5.5" text-anchor="start" font-weight="bold" fill="#222" transform="rotate(-50 393.00 284.20)" textLength="18.2" lengthAdjust="spacingAndGlyphs">sgRNA3</text>
<text x="406.40" y="284.20" font-size="5.5" text-anchor="start" font-weight="bold" fill="#222" transform="rotate(-50 406.40 284.20)" textLength="18.2" lengthAdjust="spacingAndGlyphs">sgRNA4</text>
<text x="419.80" y="284.20" font-size="5.5" text-anchor="start" font-weight="bold" fill="#222" transform="rotate(-50 419.80 284.20)" textLength="18.2" lengthAdjust="spacingAndGlyphs">sgRNA5</text>
<text x="433.20" y="284.20" font-size="5.5" text-anchor="start" font-weight="bold" fill="#222" transform="rotate(-50 433.20 284.20)" textLength="18.2" lengthAdjust="spacingAndGlyphs">sgRNA6</text>
<text x="453.20" y="282.70" font-size="7.4" text-anchor="start" font-weight="normal" fill="#111" stroke="#111" stroke-width="0.13">Ø</text>
<text x="464.50" y="282.70" font-size="7.6" text-anchor="start" font-weight="normal" fill="#111" stroke="#111" stroke-width="0.13">WT</text>
<text x="480.40" y="293.50" font-size="7.1" text-anchor="start" font-weight="normal" fill="#111" stroke="#111" stroke-width="0.13">ATM</text>
<text x="480.40" y="303.50" font-size="7.3" text-anchor="start" font-weight="normal" fill="#111" stroke="#111" stroke-width="0.13">HSP90</text>
<path d="M369.4,308 V318" stroke="#3b56a8" stroke-width="1.1" fill="none" marker-end="url(#ahb)"/>
<path d="M382.6,308 V318" stroke="#3b56a8" stroke-width="1.1" fill="none" marker-end="url(#ahb)"/>
<text x="345.20" y="328.80" font-size="8.0" text-anchor="start" font-weight="normal" fill="#1a1a1a" stroke="#1a1a1a" stroke-width="0.13">Single-Cell dilution</text>
</g>
<g id="panelC">
<text x="1.60" y="359.40" font-size="13.2" text-anchor="start" font-weight="bold" fill="#000">C</text>
<text x="42.55" y="418.20" font-size="6.7" text-anchor="start" font-weight="normal" fill="#111" stroke="#111" stroke-width="0.13" transform="rotate(-90 42.55 418.20)" textLength="54.4" lengthAdjust="spacingAndGlyphs">SW480 PARENTAL</text>
<text x="53.83" y="418.20" font-size="6.7" text-anchor="start" font-weight="normal" fill="#111" stroke="#111" stroke-width="0.13" transform="rotate(-90 53.83 418.20)" textLength="43.4" lengthAdjust="spacingAndGlyphs">SW480 Empty 1</text>
<text x="65.11" y="418.20" font-size="6.7" text-anchor="start" font-weight="normal" fill="#111" stroke="#111" stroke-width="0.13" transform="rotate(-90 65.11 418.20)" textLength="43.4" lengthAdjust="spacingAndGlyphs">SW480 Empty 2</text>
<text x="76.39" y="418.20" font-size="6.7" text-anchor="start" font-weight="normal" fill="#111" stroke="#111" stroke-width="0.13" transform="rotate(-90 76.39 418.20)" textLength="54.4" lengthAdjust="spacingAndGlyphs">SW480 CLONE 1.4</text>
<text x="87.67" y="418.20" font-size="6.7" text-anchor="start" font-weight="normal" fill="#111" stroke="#111" stroke-width="0.13" transform="rotate(-90 87.67 418.20)" textLength="54.4" lengthAdjust="spacingAndGlyphs">SW480 CLONE 1.7</text>
<text x="98.95" y="418.20" font-size="6.7" text-anchor="start" font-weight="normal" fill="#111" stroke="#111" stroke-width="0.13" transform="rotate(-90 98.95 418.20)" textLength="54.4" lengthAdjust="spacingAndGlyphs">SW480 CLONE 2.2</text>
<text x="110.23" y="418.20" font-size="6.7" text-anchor="start" font-weight="normal" fill="#111" stroke="#111" stroke-width="0.13" transform="rotate(-90 110.23 418.20)" textLength="54.4" lengthAdjust="spacingAndGlyphs">SW480 CLONE 2.3</text>
<text x="17.00" y="419.10" font-size="5.3" text-anchor="start" font-weight="normal" fill="#111" stroke="#111" stroke-width="0.13">kDa</text>
<text x="21.20" y="429.90" font-size="5.0" text-anchor="end" font-weight="normal" fill="#111" stroke="#111" stroke-width="0.13">350</text>
<text x="21.20" y="449.80" font-size="5.0" text-anchor="end" font-weight="normal" fill="#111" stroke="#111" stroke-width="0.13">90</text>
<line x1="24.60" y1="428.00" x2="32.40" y2="428.00" stroke="#111" stroke-width="1.4"/>
<line x1="24.60" y1="448.00" x2="32.40" y2="448.00" stroke="#111" stroke-width="1.4"/>
<rect x="35.30" y="422.40" width="78.30" height="18.60" fill="#d9d9d9" stroke="#4a4a4a" stroke-width="0.8"/>
<rect x="35.30" y="442.60" width="78.30" height="14.90" fill="#dcdcdc" stroke="#4a4a4a" stroke-width="0.8"/>
<g filter="url(#b1)">
<rect x="36.4" y="427.0" width="10.0" height="2.3" fill="#0a0a0a" opacity="0.95"/>
<rect x="36.4" y="446.8" width="10.0" height="1.9" fill="#0a0a0a" opacity="0.92"/>
<rect x="36.9" y="451.6" width="9.0" height="1.1" fill="#999" opacity="0.3"/>
<rect x="36.9" y="454.2" width="9.0" height="1.0" fill="#999" opacity="0.25"/>
<rect x="48.2" y="427.0" width="9.0" height="2.3" fill="#0a0a0a" opacity="0.95"/>
<rect x="48.2" y="446.8" width="9.0" height="1.9" fill="#0a0a0a" opacity="0.92"/>
<rect x="48.7" y="451.6" width="8.0" height="1.1" fill="#999" opacity="0.3"/>
<rect x="48.7" y="454.2" width="8.0" height="1.0" fill="#999" opacity="0.25"/>
<rect x="59.4" y="427.0" width="9.6" height="2.3" fill="#0a0a0a" opacity="0.95"/>
<rect x="59.4" y="446.8" width="9.6" height="1.9" fill="#0a0a0a" opacity="0.92"/>
<rect x="59.9" y="451.6" width="8.6" height="1.1" fill="#999" opacity="0.3"/>
<rect x="59.9" y="454.2" width="8.6" height="1.0" fill="#999" opacity="0.25"/>
<rect x="71.8" y="429.2" width="6.9" height="1.6" fill="#555" opacity="0.14"/>
<rect x="71.0" y="446.8" width="8.5" height="1.9" fill="#0a0a0a" opacity="0.92"/>
<rect x="71.5" y="451.6" width="7.5" height="1.1" fill="#999" opacity="0.3"/>
<rect x="71.5" y="454.2" width="7.5" height="1.0" fill="#999" opacity="0.25"/>
<rect x="82.4" y="429.2" width="7.4" height="1.6" fill="#555" opacity="0.14"/>
<rect x="81.6" y="446.8" width="9.0" height="1.9" fill="#0a0a0a" opacity="0.92"/>
<rect x="82.1" y="451.6" width="8.0" height="1.1" fill="#999" opacity="0.3"/>
<rect x="82.1" y="454.2" width="8.0" height="1.0" fill="#999" opacity="0.25"/>
<rect x="93.2" y="429.2" width="7.4" height="1.6" fill="#555" opacity="0.24"/>
<rect x="92.4" y="446.8" width="9.0" height="1.9" fill="#0a0a0a" opacity="0.92"/>
<rect x="92.9" y="451.6" width="8.0" height="1.1" fill="#999" opacity="0.3"/>
<rect x="92.9" y="454.2" width="8.0" height="1.0" fill="#999" opacity="0.25"/>
<rect x="104.0" y="429.2" width="7.2" height="1.6" fill="#555" opacity="0.14"/>
<rect x="103.2" y="446.8" width="8.8" height="1.9" fill="#0a0a0a" opacity="0.92"/>
<rect x="103.7" y="451.6" width="7.8" height="1.1" fill="#999" opacity="0.3"/>
<rect x="103.7" y="454.2" width="7.8" height="1.0" fill="#999" opacity="0.25"/>
<circle cx="94.9" cy="434.4" r="0.8" fill="#333" opacity="0.8"/>
<rect x="37" y="434.5" width="30" height="3.5" fill="#c4c4c4" opacity="0.4"/>
</g>
<text x="118.50" y="434.80" font-size="7.35" text-anchor="start" font-weight="normal" fill="#111" stroke="#111" stroke-width="0.13">ATM</text>
<text x="118.50" y="453.70" font-size="7.35" text-anchor="start" font-weight="normal" fill="#111" stroke="#111" stroke-width="0.13">HSP90</text>
</g>
<g id="panelD">
<text x="175.20" y="360.60" font-size="13.2" text-anchor="start" font-weight="bold" fill="#000">D</text>
<path d="M209.60,386.70 V453.35 H319.50" stroke="#111" stroke-width="1.1" fill="none"/>
<line x1="207.60" y1="453.10" x2="209.60" y2="453.10" stroke="#111" stroke-width="0.8"/>
<text x="206.80" y="454.20" font-size="3.1" text-anchor="end" font-weight="bold" fill="#111" stroke="#111" stroke-width="0.13">0</text>
<line x1="207.60" y1="440.00" x2="209.60" y2="440.00" stroke="#111" stroke-width="0.8"/>
<text x="206.80" y="441.10" font-size="3.1" text-anchor="end" font-weight="bold" fill="#111" stroke="#111" stroke-width="0.13">25</text>
<line x1="207.60" y1="426.70" x2="209.60" y2="426.70" stroke="#111" stroke-width="0.8"/>
<text x="206.80" y="427.80" font-size="3.1" text-anchor="end" font-weight="bold" fill="#111" stroke="#111" stroke-width="0.13">50</text>
<line x1="207.60" y1="413.70" x2="209.60" y2="413.70" stroke="#111" stroke-width="0.8"/>
<text x="206.80" y="414.80" font-size="3.1" text-anchor="end" font-weight="bold" fill="#111" stroke="#111" stroke-width="0.13">75</text>
<line x1="207.60" y1="400.60" x2="209.60" y2="400.60" stroke="#111" stroke-width="0.8"/>
<text x="206.80" y="401.70" font-size="3.1" text-anchor="end" font-weight="bold" fill="#111" stroke="#111" stroke-width="0.13">100</text>
<line x1="207.60" y1="387.30" x2="209.60" y2="387.30" stroke="#111" stroke-width="0.8"/>
<text x="206.80" y="388.40" font-size="3.1" text-anchor="end" font-weight="bold" fill="#111" stroke="#111" stroke-width="0.13">125</text>
<line x1="223.50" y1="453.10" x2="223.50" y2="455.10" stroke="#111" stroke-width="0.8"/>
<text x="223.50" y="458.70" font-size="3.1" text-anchor="middle" font-weight="bold" fill="#111" stroke="#111" stroke-width="0.13">0.1</text>
<line x1="271.20" y1="453.10" x2="271.20" y2="455.10" stroke="#111" stroke-width="0.8"/>
<text x="271.20" y="458.70" font-size="3.1" text-anchor="middle" font-weight="bold" fill="#111" stroke="#111" stroke-width="0.13">1</text>
<line x1="318.90" y1="453.10" x2="318.90" y2="455.10" stroke="#111" stroke-width="0.8"/>
<text x="318.90" y="458.70" font-size="3.1" text-anchor="middle" font-weight="bold" fill="#111" stroke="#111" stroke-width="0.13">10</text>
<text x="272.10" y="380.80" font-size="6.45" text-anchor="middle" font-weight="bold" fill="#1a1a1a" stroke="#1a1a1a" stroke-width="0.12">SW480, Berzosertib</text>
<text x="192.40" y="419.20" font-size="5.05" text-anchor="middle" font-weight="bold" fill="#1a1a1a" stroke="#1a1a1a" stroke-width="0.13" transform="rotate(-90 192.40 419.20)">% Cell viability</text>
<text x="198.35" y="419.20" font-size="5.05" text-anchor="middle" font-weight="bold" fill="#1a1a1a" stroke="#1a1a1a" stroke-width="0.13" transform="rotate(-90 198.35 419.20)">(fold control)</text>
<text x="265.40" y="465.50" font-size="5.5" text-anchor="middle" font-weight="bold" fill="#1a1a1a" stroke="#1a1a1a" stroke-width="0.13">ATRi (µmol/L)</text>
<path d="M213.85,420.93 V424.45 M212.95,420.93 h1.8 M212.95,424.45 h1.8" stroke="#f08a2e" stroke-width="0.45" fill="none"/>
<circle cx="213.85" cy="422.69" r="0.8" fill="#f08a2e"/>
<path d="M224.04,431.26 V436.43 M223.14,431.26 h1.8 M223.14,436.43 h1.8" stroke="#f08a2e" stroke-width="0.45" fill="none"/>
<circle cx="224.04" cy="433.85" r="0.8" fill="#f08a2e"/>
<path d="M234.23,441.03 V443.97 M233.33,441.03 h1.8 M233.33,443.97 h1.8" stroke="#f08a2e" stroke-width="0.45" fill="none"/>
<circle cx="234.23" cy="442.50" r="0.8" fill="#f08a2e"/>
<path d="M244.23,445.88 V449.51 M243.33,445.88 h1.8 M243.33,449.51 h1.8" stroke="#f08a2e" stroke-width="0.45" fill="none"/>
<circle cx="244.23" cy="447.69" r="0.8" fill="#f08a2e"/>
<path d="M254.42,448.40 V451.60 M253.52,448.40 h1.8 M253.52,451.60 h1.8" stroke="#f08a2e" stroke-width="0.45" fill="none"/>
<circle cx="254.42" cy="450.00" r="0.8" fill="#f08a2e"/>
<path d="M264.04,449.35 V451.42 M263.14,449.35 h1.8 M263.14,451.42 h1.8" stroke="#f08a2e" stroke-width="0.45" fill="none"/>
<circle cx="264.04" cy="450.38" r="0.8" fill="#f08a2e"/>
<path d="M274.04,449.22 V451.93 M273.14,449.22 h1.8 M273.14,451.93 h1.8" stroke="#f08a2e" stroke-width="0.45" fill="none"/>
<circle cx="274.04" cy="450.58" r="0.8" fill="#f08a2e"/>
<path d="M284.04,449.14 V452.01 M283.14,449.14 h1.8 M283.14,452.01 h1.8" stroke="#f08a2e" stroke-width="0.45" fill="none"/>
<circle cx="284.04" cy="450.58" r="0.8" fill="#f08a2e"/>
<path d="M294.23,448.95 V452.20 M293.33,448.95 h1.8 M293.33,452.20 h1.8" stroke="#f08a2e" stroke-width="0.45" fill="none"/>
<circle cx="294.23" cy="450.58" r="0.8" fill="#f08a2e"/>
<path d="M213.85,422.69 C215.54,424.55 220.64,430.54 224.04,433.85 C227.44,437.15 230.87,440.19 234.23,442.50 C237.60,444.81 240.87,446.44 244.23,447.69 C247.60,448.94 251.12,449.55 254.42,450.00 C257.72,450.45 260.77,450.29 264.04,450.38 C267.31,450.48 270.71,450.54 274.04,450.58 C277.37,450.61 280.67,450.58 284.04,450.58 C287.40,450.58 292.53,450.58 294.23,450.58" fill="none" stroke="#f08a2e" stroke-width="1.0" stroke-linecap="round"/>
<path d="M213.85,410.32 V413.14 M212.95,410.32 h1.8 M212.95,413.14 h1.8" stroke="#e03232" stroke-width="0.45" fill="none"/>
<circle cx="213.85" cy="411.73" r="0.8" fill="#e03232"/>
<path d="M224.04,422.72 V427.66 M223.14,422.72 h1.8 M223.14,427.66 h1.8" stroke="#e03232" stroke-width="0.45" fill="none"/>
<circle cx="224.04" cy="425.19" r="0.8" fill="#e03232"/>
<path d="M234.23,436.51 V440.80 M233.33,436.51 h1.8 M233.33,440.80 h1.8" stroke="#e03232" stroke-width="0.45" fill="none"/>
<circle cx="234.23" cy="438.65" r="0.8" fill="#e03232"/>
<path d="M244.23,444.79 V447.90 M243.33,444.79 h1.8 M243.33,447.90 h1.8" stroke="#e03232" stroke-width="0.45" fill="none"/>
<circle cx="244.23" cy="446.35" r="0.8" fill="#e03232"/>
<path d="M254.42,447.54 V450.15 M253.52,447.54 h1.8 M253.52,450.15 h1.8" stroke="#e03232" stroke-width="0.45" fill="none"/>
<circle cx="254.42" cy="448.85" r="0.8" fill="#e03232"/>
<path d="M264.04,448.29 V450.94 M263.14,448.29 h1.8 M263.14,450.94 h1.8" stroke="#e03232" stroke-width="0.45" fill="none"/>
<circle cx="264.04" cy="449.62" r="0.8" fill="#e03232"/>
<path d="M274.04,448.43 V450.80 M273.14,448.43 h1.8 M273.14,450.80 h1.8" stroke="#e03232" stroke-width="0.45" fill="none"/>
<circle cx="274.04" cy="449.62" r="0.8" fill="#e03232"/>
<path d="M284.04,447.67 V451.56 M283.14,447.67 h1.8 M283.14,451.56 h1.8" stroke="#e03232" stroke-width="0.45" fill="none"/>
<circle cx="284.04" cy="449.62" r="0.8" fill="#e03232"/>
<path d="M294.23,448.65 V450.58 M293.33,448.65 h1.8 M293.33,450.58 h1.8" stroke="#e03232" stroke-width="0.45" fill="none"/>
<circle cx="294.23" cy="449.62" r="0.8" fill="#e03232"/>
<path d="M213.85,411.73 C215.54,413.97 220.64,420.71 224.04,425.19 C227.44,429.68 230.87,435.13 234.23,438.65 C237.60,442.18 240.87,444.65 244.23,446.35 C247.60,448.04 251.12,448.30 254.42,448.85 C257.72,449.39 260.77,449.49 264.04,449.62 C267.31,449.74 270.71,449.62 274.04,449.62 C277.37,449.62 280.67,449.62 284.04,449.62 C287.40,449.62 292.53,449.62 294.23,449.62" fill="none" stroke="#e03232" stroke-width="1.0" stroke-linecap="round"/>
<path d="M213.85,406.76 V414.78 M212.95,406.76 h1.8 M212.95,414.78 h1.8" stroke="#2c66b8" stroke-width="0.45" fill="none"/>
<circle cx="213.85" cy="410.77" r="0.8" fill="#2c66b8"/>
<path d="M224.04,420.08 V422.61 M223.14,420.08 h1.8 M223.14,422.61 h1.8" stroke="#2c66b8" stroke-width="0.45" fill="none"/>
<circle cx="224.04" cy="421.35" r="0.8" fill="#2c66b8"/>
<path d="M234.23,431.39 V434.38 M233.33,431.39 h1.8 M233.33,434.38 h1.8" stroke="#2c66b8" stroke-width="0.45" fill="none"/>
<circle cx="234.23" cy="432.88" r="0.8" fill="#2c66b8"/>
<path d="M244.23,441.24 V443.76 M243.33,441.24 h1.8 M243.33,443.76 h1.8" stroke="#2c66b8" stroke-width="0.45" fill="none"/>
<circle cx="244.23" cy="442.50" r="0.8" fill="#2c66b8"/>
<path d="M254.42,445.66 V447.80 M253.52,445.66 h1.8 M253.52,447.80 h1.8" stroke="#2c66b8" stroke-width="0.45" fill="none"/>
<circle cx="254.42" cy="446.73" r="0.8" fill="#2c66b8"/>
<path d="M264.04,445.87 V449.52 M263.14,445.87 h1.8 M263.14,449.52 h1.8" stroke="#2c66b8" stroke-width="0.45" fill="none"/>
<circle cx="264.04" cy="447.69" r="0.8" fill="#2c66b8"/>
<path d="M274.04,446.63 V449.14 M273.14,446.63 h1.8 M273.14,449.14 h1.8" stroke="#2c66b8" stroke-width="0.45" fill="none"/>
<circle cx="274.04" cy="447.88" r="0.8" fill="#2c66b8"/>
<path d="M284.04,445.95 V449.82 M283.14,445.95 h1.8 M283.14,449.82 h1.8" stroke="#2c66b8" stroke-width="0.45" fill="none"/>
<circle cx="284.04" cy="447.88" r="0.8" fill="#2c66b8"/>
<path d="M294.23,446.91 V448.86 M293.33,446.91 h1.8 M293.33,448.86 h1.8" stroke="#2c66b8" stroke-width="0.45" fill="none"/>
<circle cx="294.23" cy="447.88" r="0.8" fill="#2c66b8"/>
<path d="M213.85,410.77 C215.54,412.53 220.64,417.66 224.04,421.35 C227.44,425.03 230.87,429.36 234.23,432.88 C237.60,436.41 240.87,440.19 244.23,442.50 C247.60,444.81 251.12,445.87 254.42,446.73 C257.72,447.60 260.77,447.50 264.04,447.69 C267.31,447.88 270.71,447.85 274.04,447.88 C277.37,447.92 280.67,447.88 284.04,447.88 C287.40,447.88 292.53,447.88 294.23,447.88" fill="none" stroke="#2c66b8" stroke-width="1.0" stroke-linecap="round"/>
<path d="M213.85,403.83 V410.79 M212.95,403.83 h1.8 M212.95,410.79 h1.8" stroke="#2f9e56" stroke-width="0.45" fill="none"/>
<circle cx="213.85" cy="407.31" r="0.8" fill="#2f9e56"/>
<path d="M224.04,416.38 V420.54 M223.14,416.38 h1.8 M223.14,420.54 h1.8" stroke="#2f9e56" stroke-width="0.45" fill="none"/>
<circle cx="224.04" cy="418.46" r="0.8" fill="#2f9e56"/>
<path d="M234.23,426.91 V435.02 M233.33,426.91 h1.8 M233.33,435.02 h1.8" stroke="#2f9e56" stroke-width="0.45" fill="none"/>
<circle cx="234.23" cy="430.96" r="0.8" fill="#2f9e56"/>
<path d="M244.23,437.19 V443.96 M243.33,437.19 h1.8 M243.33,443.96 h1.8" stroke="#2f9e56" stroke-width="0.45" fill="none"/>
<circle cx="244.23" cy="440.58" r="0.8" fill="#2f9e56"/>
<path d="M254.42,443.17 V446.83 M253.52,443.17 h1.8 M253.52,446.83 h1.8" stroke="#2f9e56" stroke-width="0.45" fill="none"/>
<circle cx="254.42" cy="445.00" r="0.8" fill="#2f9e56"/>
<path d="M264.04,444.63 V448.07 M263.14,444.63 h1.8 M263.14,448.07 h1.8" stroke="#2f9e56" stroke-width="0.45" fill="none"/>
<circle cx="264.04" cy="446.35" r="0.8" fill="#2f9e56"/>
<path d="M274.04,445.26 V447.81 M273.14,445.26 h1.8 M273.14,447.81 h1.8" stroke="#2f9e56" stroke-width="0.45" fill="none"/>
<circle cx="274.04" cy="446.54" r="0.8" fill="#2f9e56"/>
<path d="M284.04,444.71 V448.36 M283.14,444.71 h1.8 M283.14,448.36 h1.8" stroke="#2f9e56" stroke-width="0.45" fill="none"/>
<circle cx="284.04" cy="446.54" r="0.8" fill="#2f9e56"/>
<path d="M294.23,444.86 V448.22 M293.33,444.86 h1.8 M293.33,448.22 h1.8" stroke="#2f9e56" stroke-width="0.45" fill="none"/>
<circle cx="294.23" cy="446.54" r="0.8" fill="#2f9e56"/>
<path d="M213.85,407.31 C215.54,409.17 220.64,414.52 224.04,418.46 C227.44,422.40 230.87,427.28 234.23,430.96 C237.60,434.65 240.87,438.24 244.23,440.58 C247.60,442.92 251.12,444.04 254.42,445.00 C257.72,445.96 260.77,446.09 264.04,446.35 C267.31,446.60 270.71,446.51 274.04,446.54 C277.37,446.57 280.67,446.54 284.04,446.54 C287.40,446.54 292.53,446.54 294.23,446.54" fill="none" stroke="#2f9e56" stroke-width="1.0" stroke-linecap="round"/>
<path d="M213.85,397.10 V404.44 M212.95,397.10 h1.8 M212.95,404.44 h1.8" stroke="#8a8a8a" stroke-width="0.45" fill="none"/>
<circle cx="213.85" cy="400.77" r="0.8" fill="#8a8a8a"/>
<path d="M224.04,398.76 V403.55 M223.14,398.76 h1.8 M223.14,403.55 h1.8" stroke="#8a8a8a" stroke-width="0.45" fill="none"/>
<circle cx="224.04" cy="401.15" r="0.8" fill="#8a8a8a"/>
<path d="M234.23,400.73 V405.43 M233.33,400.73 h1.8 M233.33,405.43 h1.8" stroke="#8a8a8a" stroke-width="0.45" fill="none"/>
<circle cx="234.23" cy="403.08" r="0.8" fill="#8a8a8a"/>
<path d="M244.23,405.10 V409.90 M243.33,405.10 h1.8 M243.33,409.90 h1.8" stroke="#8a8a8a" stroke-width="0.45" fill="none"/>
<circle cx="244.23" cy="407.50" r="0.8" fill="#8a8a8a"/>
<path d="M254.42,413.25 V420.98 M253.52,413.25 h1.8 M253.52,420.98 h1.8" stroke="#8a8a8a" stroke-width="0.45" fill="none"/>
<circle cx="254.42" cy="417.12" r="0.8" fill="#8a8a8a"/>
<path d="M264.04,428.11 V431.13 M263.14,428.11 h1.8 M263.14,431.13 h1.8" stroke="#8a8a8a" stroke-width="0.45" fill="none"/>
<circle cx="264.04" cy="429.62" r="0.8" fill="#8a8a8a"/>
<path d="M274.04,433.58 V441.80 M273.14,433.58 h1.8 M273.14,441.80 h1.8" stroke="#8a8a8a" stroke-width="0.45" fill="none"/>
<circle cx="274.04" cy="437.69" r="0.8" fill="#8a8a8a"/>
<path d="M284.04,436.80 V443.20 M283.14,436.80 h1.8 M283.14,443.20 h1.8" stroke="#8a8a8a" stroke-width="0.45" fill="none"/>
<circle cx="284.04" cy="440.00" r="0.8" fill="#8a8a8a"/>
<path d="M294.23,437.42 V443.73 M293.33,437.42 h1.8 M293.33,443.73 h1.8" stroke="#8a8a8a" stroke-width="0.45" fill="none"/>
<circle cx="294.23" cy="440.58" r="0.8" fill="#8a8a8a"/>
<path d="M213.85,400.77 C215.54,400.83 220.64,400.77 224.04,401.15 C227.44,401.54 230.87,402.02 234.23,403.08 C237.60,404.13 240.87,405.16 244.23,407.50 C247.60,409.84 251.12,413.43 254.42,417.12 C257.72,420.80 260.77,426.19 264.04,429.62 C267.31,433.04 270.71,435.96 274.04,437.69 C277.37,439.42 280.67,439.52 284.04,440.00 C287.40,440.48 292.53,440.48 294.23,440.58" fill="none" stroke="#8a8a8a" stroke-width="1.0" stroke-linecap="round"/>
<path d="M213.85,396.30 V402.16 M212.95,396.30 h1.8 M212.95,402.16 h1.8" stroke="#111111" stroke-width="0.45" fill="none"/>
<circle cx="213.85" cy="399.23" r="0.8" fill="#111111"/>
<path d="M224.04,397.43 V402.18 M223.14,397.43 h1.8 M223.14,402.18 h1.8" stroke="#111111" stroke-width="0.45" fill="none"/>
<circle cx="224.04" cy="399.81" r="0.8" fill="#111111"/>
<path d="M234.23,398.82 V404.26 M233.33,398.82 h1.8 M233.33,404.26 h1.8" stroke="#111111" stroke-width="0.45" fill="none"/>
<circle cx="234.23" cy="401.54" r="0.8" fill="#111111"/>
<path d="M244.23,402.04 V409.88 M243.33,402.04 h1.8 M243.33,409.88 h1.8" stroke="#111111" stroke-width="0.45" fill="none"/>
<circle cx="244.23" cy="405.96" r="0.8" fill="#111111"/>
<path d="M254.42,414.89 V418.19 M253.52,414.89 h1.8 M253.52,418.19 h1.8" stroke="#111111" stroke-width="0.45" fill="none"/>
<circle cx="254.42" cy="416.54" r="0.8" fill="#111111"/>
<path d="M264.04,429.08 V431.69 M263.14,429.08 h1.8 M263.14,431.69 h1.8" stroke="#111111" stroke-width="0.45" fill="none"/>
<circle cx="264.04" cy="430.38" r="0.8" fill="#111111"/>
<path d="M274.04,434.97 V443.49 M273.14,434.97 h1.8 M273.14,443.49 h1.8" stroke="#111111" stroke-width="0.45" fill="none"/>
<circle cx="274.04" cy="439.23" r="0.8" fill="#111111"/>
<path d="M284.04,439.96 V443.12 M283.14,439.96 h1.8 M283.14,443.12 h1.8" stroke="#111111" stroke-width="0.45" fill="none"/>
<circle cx="284.04" cy="441.54" r="0.8" fill="#111111"/>
<path d="M294.23,440.22 V443.62 M293.33,440.22 h1.8 M293.33,443.62 h1.8" stroke="#111111" stroke-width="0.45" fill="none"/>
<circle cx="294.23" cy="441.92" r="0.8" fill="#111111"/>
<path d="M213.85,399.23 C215.54,399.33 220.64,399.42 224.04,399.81 C227.44,400.19 230.87,400.51 234.23,401.54 C237.60,402.56 240.87,403.46 244.23,405.96 C247.60,408.46 251.12,412.47 254.42,416.54 C257.72,420.61 260.77,426.60 264.04,430.38 C267.31,434.17 270.71,437.37 274.04,439.23 C277.37,441.09 280.67,441.09 284.04,441.54 C287.40,441.99 292.53,441.86 294.23,441.92" fill="none" stroke="#111111" stroke-width="1.4" stroke-linecap="round"/>
<line x1="297.40" y1="395.80" x2="302.10" y2="395.80" stroke="#111111" stroke-width="1.3"/>
<circle cx="299.75" cy="395.80" r="0.9" fill="#111111"/>
<text x="304.30" y="396.90" font-size="3.1" text-anchor="start" font-weight="bold" fill="#111" stroke="#111" stroke-width="0.13">Parental</text>
<line x1="297.40" y1="400.70" x2="302.10" y2="400.70" stroke="#8a8a8a" stroke-width="1.3"/>
<circle cx="299.75" cy="400.70" r="0.9" fill="#8a8a8a"/>
<text x="304.30" y="401.80" font-size="3.1" text-anchor="start" font-weight="bold" fill="#111" stroke="#111" stroke-width="0.13">EMPTY</text>
<line x1="297.40" y1="405.60" x2="302.10" y2="405.60" stroke="#2f9e56" stroke-width="1.3"/>
<circle cx="299.75" cy="405.60" r="0.9" fill="#2f9e56"/>
<text x="304.30" y="406.70" font-size="3.1" font-weight="bold" fill="#111"><tspan font-style="italic">ATM</tspan> KO 1.4</text>
<line x1="297.40" y1="410.50" x2="302.10" y2="410.50" stroke="#2c66b8" stroke-width="1.3"/>
<circle cx="299.75" cy="410.50" r="0.9" fill="#2c66b8"/>
<text x="304.30" y="411.60" font-size="3.1" font-weight="bold" fill="#111"><tspan font-style="italic">ATM</tspan> KO 1.7</text>
<line x1="297.40" y1="415.40" x2="302.10" y2="415.40" stroke="#e03232" stroke-width="1.3"/>
<circle cx="299.75" cy="415.40" r="0.9" fill="#e03232"/>
<text x="304.30" y="416.50" font-size="3.1" font-weight="bold" fill="#111"><tspan font-style="italic">ATM</tspan> KO 2.2</text>
<line x1="297.40" y1="420.30" x2="302.10" y2="420.30" stroke="#f08a2e" stroke-width="1.3"/>
<circle cx="299.75" cy="420.30" r="0.9" fill="#f08a2e"/>
<text x="304.30" y="421.40" font-size="3.1" font-weight="bold" fill="#111"><tspan font-style="italic">ATM</tspan> KO 2.3</text>
<text x="242.70" y="433.00" font-size="3.0" text-anchor="start" font-weight="bold" fill="#1d2a4a" stroke="#1d2a4a" stroke-width="0.13">270 nmol/L</text>
<text x="249.00" y="438.40" font-size="3.0" text-anchor="start" font-weight="bold" fill="#1d2a4a" stroke="#1d2a4a" stroke-width="0.13">420 nmol/L</text>
<path d="M361.10,387.40 V453.05 H462.50" stroke="#111" stroke-width="1.0" fill="none"/>
<line x1="359.10" y1="452.80" x2="361.10" y2="452.80" stroke="#111" stroke-width="0.8"/>
<text x="358.30" y="453.90" font-size="2.9" text-anchor="end" font-weight="bold" fill="#111" stroke="#111" stroke-width="0.13">0</text>
<line x1="359.10" y1="440.40" x2="361.10" y2="440.40" stroke="#111" stroke-width="0.8"/>
<text x="358.30" y="441.50" font-size="2.9" text-anchor="end" font-weight="bold" fill="#111" stroke="#111" stroke-width="0.13">25</text>
<line x1="359.10" y1="427.30" x2="361.10" y2="427.30" stroke="#111" stroke-width="0.8"/>
<text x="358.30" y="428.40" font-size="2.9" text-anchor="end" font-weight="bold" fill="#111" stroke="#111" stroke-width="0.13">50</text>
<line x1="359.10" y1="414.20" x2="361.10" y2="414.20" stroke="#111" stroke-width="0.8"/>
<text x="358.30" y="415.30" font-size="2.9" text-anchor="end" font-weight="bold" fill="#111" stroke="#111" stroke-width="0.13">75</text>
<line x1="359.10" y1="401.40" x2="361.10" y2="401.40" stroke="#111" stroke-width="0.8"/>
<text x="358.30" y="402.50" font-size="2.9" text-anchor="end" font-weight="bold" fill="#111" stroke="#111" stroke-width="0.13">100</text>
<line x1="359.10" y1="388.00" x2="361.10" y2="388.00" stroke="#111" stroke-width="0.8"/>
<text x="358.30" y="389.10" font-size="2.9" text-anchor="end" font-weight="bold" fill="#111" stroke="#111" stroke-width="0.13">125</text>
<line x1="373.10" y1="452.80" x2="373.10" y2="454.80" stroke="#111" stroke-width="0.8"/>
<text x="373.10" y="458.40" font-size="2.9" text-anchor="middle" font-weight="bold" fill="#111" stroke="#111" stroke-width="0.13">0.1</text>
<line x1="414.60" y1="452.80" x2="414.60" y2="454.80" stroke="#111" stroke-width="0.8"/>
<text x="414.60" y="458.40" font-size="2.9" text-anchor="middle" font-weight="bold" fill="#111" stroke="#111" stroke-width="0.13">1</text>
<line x1="456.20" y1="452.80" x2="456.20" y2="454.80" stroke="#111" stroke-width="0.8"/>
<text x="456.20" y="458.40" font-size="2.9" text-anchor="middle" font-weight="bold" fill="#111" stroke="#111" stroke-width="0.13">10</text>
<text x="422.50" y="383.00" font-size="6.95" text-anchor="middle" font-weight="bold" fill="#1a1a1a" stroke="#1a1a1a" stroke-width="0.12">SW480, Ceralasertib</text>
<text x="344.10" y="422.20" font-size="5.4" text-anchor="middle" font-weight="bold" fill="#1a1a1a" stroke="#1a1a1a" stroke-width="0.13" transform="rotate(-90 344.10 422.20)">% Cell viability</text>
<text x="350.46" y="422.20" font-size="5.4" text-anchor="middle" font-weight="bold" fill="#1a1a1a" stroke="#1a1a1a" stroke-width="0.13" transform="rotate(-90 350.46 422.20)">(fold control)</text>
<text x="414.70" y="465.00" font-size="5.5" text-anchor="middle" font-weight="bold" fill="#1a1a1a" stroke="#1a1a1a" stroke-width="0.13">ATRi (µmol/L)</text>
<path d="M373.08,405.33 V410.06 M372.18,405.33 h1.8 M372.18,410.06 h1.8" stroke="#f08a2e" stroke-width="0.45" fill="none"/>
<circle cx="373.08" cy="407.69" r="0.8" fill="#f08a2e"/>
<path d="M383.46,410.80 V417.51 M382.56,410.80 h1.8 M382.56,417.51 h1.8" stroke="#f08a2e" stroke-width="0.45" fill="none"/>
<circle cx="383.46" cy="414.16" r="0.8" fill="#f08a2e"/>
<path d="M393.85,418.73 V426.66 M392.95,418.73 h1.8 M392.95,426.66 h1.8" stroke="#f08a2e" stroke-width="0.45" fill="none"/>
<circle cx="393.85" cy="422.70" r="0.8" fill="#f08a2e"/>
<path d="M404.23,429.19 V436.97 M403.33,429.19 h1.8 M403.33,436.97 h1.8" stroke="#f08a2e" stroke-width="0.45" fill="none"/>
<circle cx="404.23" cy="433.08" r="0.8" fill="#f08a2e"/>
<path d="M414.62,440.30 V442.02 M413.72,440.30 h1.8 M413.72,442.02 h1.8" stroke="#f08a2e" stroke-width="0.45" fill="none"/>
<circle cx="414.62" cy="441.16" r="0.8" fill="#f08a2e"/>
<path d="M425.01,443.94 V446.68 M424.11,443.94 h1.8 M424.11,446.68 h1.8" stroke="#f08a2e" stroke-width="0.45" fill="none"/>
<circle cx="425.01" cy="445.31" r="0.8" fill="#f08a2e"/>
<path d="M435.39,445.25 V447.68 M434.49,445.25 h1.8 M434.49,447.68 h1.8" stroke="#f08a2e" stroke-width="0.45" fill="none"/>
<circle cx="435.39" cy="446.47" r="0.8" fill="#f08a2e"/>
<path d="M445.78,445.46 V448.39 M444.88,445.46 h1.8 M444.88,448.39 h1.8" stroke="#f08a2e" stroke-width="0.45" fill="none"/>
<circle cx="445.78" cy="446.93" r="0.8" fill="#f08a2e"/>
<path d="M456.16,445.44 V448.42 M455.26,445.44 h1.8 M455.26,448.42 h1.8" stroke="#f08a2e" stroke-width="0.45" fill="none"/>
<circle cx="456.16" cy="446.93" r="0.8" fill="#f08a2e"/>
<path d="M373.08,407.69 C374.81,408.77 380.00,411.66 383.46,414.16 C386.93,416.66 390.39,419.54 393.85,422.70 C397.31,425.85 400.77,430.00 404.23,433.08 C407.70,436.16 411.16,439.12 414.62,441.16 C418.08,443.20 421.54,444.43 425.01,445.31 C428.47,446.20 431.93,446.20 435.39,446.47 C438.85,446.74 442.31,446.85 445.78,446.93 C449.24,447.01 454.43,446.93 456.16,446.93" fill="none" stroke="#f08a2e" stroke-width="0.8" stroke-linecap="round"/>
<path d="M373.08,404.35 V407.35 M372.18,404.35 h1.8 M372.18,407.35 h1.8" stroke="#e03232" stroke-width="0.45" fill="none"/>
<circle cx="373.08" cy="405.85" r="0.8" fill="#e03232"/>
<path d="M383.46,408.31 V416.31 M382.56,408.31 h1.8 M382.56,416.31 h1.8" stroke="#e03232" stroke-width="0.45" fill="none"/>
<circle cx="383.46" cy="412.31" r="0.8" fill="#e03232"/>
<path d="M393.85,418.86 V424.22 M392.95,418.86 h1.8 M392.95,424.22 h1.8" stroke="#e03232" stroke-width="0.45" fill="none"/>
<circle cx="393.85" cy="421.54" r="0.8" fill="#e03232"/>
<path d="M404.23,429.09 V434.76 M403.33,429.09 h1.8 M403.33,434.76 h1.8" stroke="#e03232" stroke-width="0.45" fill="none"/>
<circle cx="404.23" cy="431.93" r="0.8" fill="#e03232"/>
<path d="M414.62,438.78 V442.15 M413.72,438.78 h1.8 M413.72,442.15 h1.8" stroke="#e03232" stroke-width="0.45" fill="none"/>
<circle cx="414.62" cy="440.47" r="0.8" fill="#e03232"/>
<path d="M425.01,443.94 V446.68 M424.11,443.94 h1.8 M424.11,446.68 h1.8" stroke="#e03232" stroke-width="0.45" fill="none"/>
<circle cx="425.01" cy="445.31" r="0.8" fill="#e03232"/>
<path d="M435.39,445.99 V447.87 M434.49,445.99 h1.8 M434.49,447.87 h1.8" stroke="#e03232" stroke-width="0.45" fill="none"/>
<circle cx="435.39" cy="446.93" r="0.8" fill="#e03232"/>
<path d="M445.78,446.37 V448.41 M444.88,446.37 h1.8 M444.88,448.41 h1.8" stroke="#e03232" stroke-width="0.45" fill="none"/>
<circle cx="445.78" cy="447.39" r="0.8" fill="#e03232"/>
<path d="M456.16,445.58 V449.20 M455.26,445.58 h1.8 M455.26,449.20 h1.8" stroke="#e03232" stroke-width="0.45" fill="none"/>
<circle cx="456.16" cy="447.39" r="0.8" fill="#e03232"/>
<path d="M373.08,405.85 C374.81,406.93 380.00,409.69 383.46,412.31 C386.93,414.93 390.39,418.27 393.85,421.54 C397.31,424.81 400.77,428.77 404.23,431.93 C407.70,435.08 411.16,438.24 414.62,440.47 C418.08,442.70 421.54,444.24 425.01,445.31 C428.47,446.39 431.93,446.58 435.39,446.93 C438.85,447.27 442.31,447.31 445.78,447.39 C449.24,447.47 454.43,447.39 456.16,447.39" fill="none" stroke="#e03232" stroke-width="0.8" stroke-linecap="round"/>
<path d="M373.08,401.03 V407.44 M372.18,401.03 h1.8 M372.18,407.44 h1.8" stroke="#2c66b8" stroke-width="0.45" fill="none"/>
<circle cx="373.08" cy="404.23" r="0.8" fill="#2c66b8"/>
<path d="M383.46,407.03 V412.98 M382.56,407.03 h1.8 M382.56,412.98 h1.8" stroke="#2c66b8" stroke-width="0.45" fill="none"/>
<circle cx="383.46" cy="410.00" r="0.8" fill="#2c66b8"/>
<path d="M393.85,414.12 V422.04 M392.95,414.12 h1.8 M392.95,422.04 h1.8" stroke="#2c66b8" stroke-width="0.45" fill="none"/>
<circle cx="393.85" cy="418.08" r="0.8" fill="#2c66b8"/>
<path d="M404.23,426.86 V430.07 M403.33,426.86 h1.8 M403.33,430.07 h1.8" stroke="#2c66b8" stroke-width="0.45" fill="none"/>
<circle cx="404.23" cy="428.47" r="0.8" fill="#2c66b8"/>
<path d="M414.62,434.58 V439.89 M413.72,434.58 h1.8 M413.72,439.89 h1.8" stroke="#2c66b8" stroke-width="0.45" fill="none"/>
<circle cx="414.62" cy="437.24" r="0.8" fill="#2c66b8"/>
<path d="M425.01,441.08 V443.55 M424.11,441.08 h1.8 M424.11,443.55 h1.8" stroke="#2c66b8" stroke-width="0.45" fill="none"/>
<circle cx="425.01" cy="442.31" r="0.8" fill="#2c66b8"/>
<path d="M435.39,443.59 V445.65 M434.49,443.59 h1.8 M434.49,445.65 h1.8" stroke="#2c66b8" stroke-width="0.45" fill="none"/>
<circle cx="435.39" cy="444.62" r="0.8" fill="#2c66b8"/>
<path d="M445.78,444.07 V446.10 M444.88,444.07 h1.8 M444.88,446.10 h1.8" stroke="#2c66b8" stroke-width="0.45" fill="none"/>
<circle cx="445.78" cy="445.08" r="0.8" fill="#2c66b8"/>
<path d="M456.16,443.80 V446.83 M455.26,443.80 h1.8 M455.26,446.83 h1.8" stroke="#2c66b8" stroke-width="0.45" fill="none"/>
<circle cx="456.16" cy="445.31" r="0.8" fill="#2c66b8"/>
<path d="M373.08,404.23 C374.81,405.19 380.00,407.69 383.46,410.00 C386.93,412.31 390.39,415.00 393.85,418.08 C397.31,421.16 400.77,425.27 404.23,428.47 C407.70,431.66 411.16,434.93 414.62,437.24 C418.08,439.54 421.54,441.08 425.01,442.31 C428.47,443.54 431.93,444.16 435.39,444.62 C438.85,445.08 442.31,444.97 445.78,445.08 C449.24,445.20 454.43,445.27 456.16,445.31" fill="none" stroke="#2c66b8" stroke-width="0.8" stroke-linecap="round"/>
<path d="M373.08,399.37 V406.79 M372.18,399.37 h1.8 M372.18,406.79 h1.8" stroke="#2f9e56" stroke-width="0.45" fill="none"/>
<circle cx="373.08" cy="403.08" r="0.8" fill="#2f9e56"/>
<path d="M383.46,404.45 V413.25 M382.56,404.45 h1.8 M382.56,413.25 h1.8" stroke="#2f9e56" stroke-width="0.45" fill="none"/>
<circle cx="383.46" cy="408.85" r="0.8" fill="#2f9e56"/>
<path d="M393.85,415.53 V418.32 M392.95,415.53 h1.8 M392.95,418.32 h1.8" stroke="#2f9e56" stroke-width="0.45" fill="none"/>
<circle cx="393.85" cy="416.93" r="0.8" fill="#2f9e56"/>
<path d="M404.23,423.81 V430.81 M403.33,423.81 h1.8 M403.33,430.81 h1.8" stroke="#2f9e56" stroke-width="0.45" fill="none"/>
<circle cx="404.23" cy="427.31" r="0.8" fill="#2f9e56"/>
<path d="M414.62,433.95 V439.13 M413.72,433.95 h1.8 M413.72,439.13 h1.8" stroke="#2f9e56" stroke-width="0.45" fill="none"/>
<circle cx="414.62" cy="436.54" r="0.8" fill="#2f9e56"/>
<path d="M425.01,440.07 V443.63 M424.11,440.07 h1.8 M424.11,443.63 h1.8" stroke="#2f9e56" stroke-width="0.45" fill="none"/>
<circle cx="425.01" cy="441.85" r="0.8" fill="#2f9e56"/>
<path d="M435.39,442.33 V445.53 M434.49,442.33 h1.8 M434.49,445.53 h1.8" stroke="#2f9e56" stroke-width="0.45" fill="none"/>
<circle cx="435.39" cy="443.93" r="0.8" fill="#2f9e56"/>
<path d="M445.78,443.82 V445.42 M444.88,443.82 h1.8 M444.88,445.42 h1.8" stroke="#2f9e56" stroke-width="0.45" fill="none"/>
<circle cx="445.78" cy="444.62" r="0.8" fill="#2f9e56"/>
<path d="M456.16,443.22 V446.48 M455.26,443.22 h1.8 M455.26,446.48 h1.8" stroke="#2f9e56" stroke-width="0.45" fill="none"/>
<circle cx="456.16" cy="444.85" r="0.8" fill="#2f9e56"/>
<path d="M373.08,403.08 C374.81,404.04 380.00,406.54 383.46,408.85 C386.93,411.16 390.39,413.85 393.85,416.93 C397.31,420.00 400.77,424.04 404.23,427.31 C407.70,430.58 411.16,434.12 414.62,436.54 C418.08,438.97 421.54,440.62 425.01,441.85 C428.47,443.08 431.93,443.47 435.39,443.93 C438.85,444.39 442.31,444.47 445.78,444.62 C449.24,444.77 454.43,444.81 456.16,444.85" fill="none" stroke="#2f9e56" stroke-width="0.8" stroke-linecap="round"/>
<path d="M373.08,398.08 V404.84 M372.18,398.08 h1.8 M372.18,404.84 h1.8" stroke="#8a8a8a" stroke-width="0.45" fill="none"/>
<circle cx="373.08" cy="401.46" r="0.8" fill="#8a8a8a"/>
<path d="M383.46,398.88 V404.97 M382.56,398.88 h1.8 M382.56,404.97 h1.8" stroke="#8a8a8a" stroke-width="0.45" fill="none"/>
<circle cx="383.46" cy="401.92" r="0.8" fill="#8a8a8a"/>
<path d="M393.85,400.18 V405.06 M392.95,400.18 h1.8 M392.95,405.06 h1.8" stroke="#8a8a8a" stroke-width="0.45" fill="none"/>
<circle cx="393.85" cy="402.62" r="0.8" fill="#8a8a8a"/>
<path d="M404.23,400.32 V407.68 M403.33,400.32 h1.8 M403.33,407.68 h1.8" stroke="#8a8a8a" stroke-width="0.45" fill="none"/>
<circle cx="404.23" cy="404.00" r="0.8" fill="#8a8a8a"/>
<path d="M414.62,404.62 V408.46 M413.72,404.62 h1.8 M413.72,408.46 h1.8" stroke="#8a8a8a" stroke-width="0.45" fill="none"/>
<circle cx="414.62" cy="406.54" r="0.8" fill="#8a8a8a"/>
<path d="M425.01,409.69 V414.93 M424.11,409.69 h1.8 M424.11,414.93 h1.8" stroke="#8a8a8a" stroke-width="0.45" fill="none"/>
<circle cx="425.01" cy="412.31" r="0.8" fill="#8a8a8a"/>
<path d="M435.39,420.84 V424.56 M434.49,420.84 h1.8 M434.49,424.56 h1.8" stroke="#8a8a8a" stroke-width="0.45" fill="none"/>
<circle cx="435.39" cy="422.70" r="0.8" fill="#8a8a8a"/>
<path d="M445.78,428.65 V435.20 M444.88,428.65 h1.8 M444.88,435.20 h1.8" stroke="#8a8a8a" stroke-width="0.45" fill="none"/>
<circle cx="445.78" cy="431.93" r="0.8" fill="#8a8a8a"/>
<path d="M456.16,433.47 V441.92 M455.26,433.47 h1.8 M455.26,441.92 h1.8" stroke="#8a8a8a" stroke-width="0.45" fill="none"/>
<circle cx="456.16" cy="437.70" r="0.8" fill="#8a8a8a"/>
<path d="M373.08,401.46 C374.81,401.54 380.00,401.73 383.46,401.92 C386.93,402.12 390.39,402.27 393.85,402.62 C397.31,402.96 400.77,403.35 404.23,404.00 C407.70,404.66 411.16,405.16 414.62,406.54 C418.08,407.93 421.54,409.62 425.01,412.31 C428.47,415.00 431.93,419.43 435.39,422.70 C438.85,425.97 442.31,429.43 445.78,431.93 C449.24,434.43 454.43,436.74 456.16,437.70" fill="none" stroke="#8a8a8a" stroke-width="0.8" stroke-linecap="round"/>
<path d="M373.08,394.94 V402.91 M372.18,394.94 h1.8 M372.18,402.91 h1.8" stroke="#111111" stroke-width="0.45" fill="none"/>
<circle cx="373.08" cy="398.92" r="0.8" fill="#111111"/>
<path d="M383.46,397.26 V401.05 M382.56,397.26 h1.8 M382.56,401.05 h1.8" stroke="#111111" stroke-width="0.45" fill="none"/>
<circle cx="383.46" cy="399.16" r="0.8" fill="#111111"/>
<path d="M393.85,397.56 V401.67 M392.95,397.56 h1.8 M392.95,401.67 h1.8" stroke="#111111" stroke-width="0.45" fill="none"/>
<circle cx="393.85" cy="399.62" r="0.8" fill="#111111"/>
<path d="M404.23,396.63 V404.91 M403.33,396.63 h1.8 M403.33,404.91 h1.8" stroke="#111111" stroke-width="0.45" fill="none"/>
<circle cx="404.23" cy="400.77" r="0.8" fill="#111111"/>
<path d="M414.62,401.79 V405.75 M413.72,401.79 h1.8 M413.72,405.75 h1.8" stroke="#111111" stroke-width="0.45" fill="none"/>
<circle cx="414.62" cy="403.77" r="0.8" fill="#111111"/>
<path d="M425.01,406.67 V413.34 M424.11,406.67 h1.8 M424.11,413.34 h1.8" stroke="#111111" stroke-width="0.45" fill="none"/>
<circle cx="425.01" cy="410.00" r="0.8" fill="#111111"/>
<path d="M435.39,418.12 V424.96 M434.49,418.12 h1.8 M434.49,424.96 h1.8" stroke="#111111" stroke-width="0.45" fill="none"/>
<circle cx="435.39" cy="421.54" r="0.8" fill="#111111"/>
<path d="M445.78,430.84 V435.32 M444.88,430.84 h1.8 M444.88,435.32 h1.8" stroke="#111111" stroke-width="0.45" fill="none"/>
<circle cx="445.78" cy="433.08" r="0.8" fill="#111111"/>
<path d="M456.16,438.71 V442.22 M455.26,438.71 h1.8 M455.26,442.22 h1.8" stroke="#111111" stroke-width="0.45" fill="none"/>
<circle cx="456.16" cy="440.47" r="0.8" fill="#111111"/>
<path d="M373.08,398.92 C374.81,398.96 380.00,399.04 383.46,399.16 C386.93,399.27 390.39,399.35 393.85,399.62 C397.31,399.89 400.77,400.08 404.23,400.77 C407.70,401.46 411.16,402.23 414.62,403.77 C418.08,405.31 421.54,407.04 425.01,410.00 C428.47,412.96 431.93,417.70 435.39,421.54 C438.85,425.39 442.31,429.93 445.78,433.08 C449.24,436.24 454.43,439.24 456.16,440.47" fill="none" stroke="#111111" stroke-width="1.15" stroke-linecap="round"/>
<line x1="472.40" y1="391.30" x2="476.30" y2="391.30" stroke="#111111" stroke-width="1.3"/>
<circle cx="474.35" cy="391.30" r="0.9" fill="#111111"/>
<text x="479.00" y="392.40" font-size="3.1" text-anchor="start" font-weight="bold" fill="#111" stroke="#111" stroke-width="0.13">Parental</text>
<line x1="472.40" y1="396.30" x2="476.30" y2="396.30" stroke="#8a8a8a" stroke-width="1.3"/>
<circle cx="474.35" cy="396.30" r="0.9" fill="#8a8a8a"/>
<text x="479.00" y="397.40" font-size="3.1" text-anchor="start" font-weight="bold" fill="#111" stroke="#111" stroke-width="0.13">EMPTY</text>
<line x1="472.40" y1="401.30" x2="476.30" y2="401.30" stroke="#2f9e56" stroke-width="1.3"/>
<circle cx="474.35" cy="401.30" r="0.9" fill="#2f9e56"/>
<text x="479.00" y="402.40" font-size="3.1" font-weight="bold" fill="#111"><tspan font-style="italic">ATM</tspan> KO 1.4</text>
<line x1="472.40" y1="406.30" x2="476.30" y2="406.30" stroke="#2c66b8" stroke-width="1.3"/>
<circle cx="474.35" cy="406.30" r="0.9" fill="#2c66b8"/>
<text x="479.00" y="407.40" font-size="3.1" font-weight="bold" fill="#111"><tspan font-style="italic">ATM</tspan> KO 1.7</text>
<line x1="472.40" y1="411.30" x2="476.30" y2="411.30" stroke="#e03232" stroke-width="1.3"/>
<circle cx="474.35" cy="411.30" r="0.9" fill="#e03232"/>
<text x="479.00" y="412.40" font-size="3.1" font-weight="bold" fill="#111"><tspan font-style="italic">ATM</tspan> KO 2.2</text>
<line x1="472.40" y1="416.30" x2="476.30" y2="416.30" stroke="#f08a2e" stroke-width="1.3"/>
<circle cx="474.35" cy="416.30" r="0.9" fill="#f08a2e"/>
<text x="479.00" y="417.40" font-size="3.1" font-weight="bold" fill="#111"><tspan font-style="italic">ATM</tspan> KO 2.3</text>
<text x="412.30" y="430.20" font-size="3.0" text-anchor="start" font-weight="bold" fill="#1d2a4a" stroke="#1d2a4a" stroke-width="0.13">1,000 nmol/L</text>
<text x="420.40" y="436.40" font-size="3.0" text-anchor="start" font-weight="bold" fill="#1d2a4a" stroke="#1d2a4a" stroke-width="0.13">1,170 nmol/L</text>
</g>
<g id="panelE">
<text x="2.00" y="489.40" font-size="13.2" text-anchor="start" font-weight="bold" fill="#000">E</text>
<line x1="34.50" y1="569.72" x2="202.40" y2="569.72" stroke="#c2c2c2" stroke-width="0.6"/>
<line x1="34.50" y1="550.54" x2="202.40" y2="550.54" stroke="#c2c2c2" stroke-width="0.6"/>
<line x1="34.50" y1="531.36" x2="202.40" y2="531.36" stroke="#c2c2c2" stroke-width="0.6"/>
<line x1="34.50" y1="512.18" x2="202.40" y2="512.18" stroke="#c2c2c2" stroke-width="0.6"/>
<line x1="34.50" y1="493.00" x2="202.40" y2="493.00" stroke="#c2c2c2" stroke-width="0.6"/>
<line x1="32.90" y1="588.90" x2="34.50" y2="588.90" stroke="#222" stroke-width="0.5"/>
<text x="31.70" y="590.50" font-size="4.4" text-anchor="end" font-weight="normal" fill="#222" stroke="#222" stroke-width="0.13" font-family="'DejaVu Sans', 'Liberation Sans', sans-serif">0.0</text>
<line x1="32.90" y1="569.72" x2="34.50" y2="569.72" stroke="#222" stroke-width="0.5"/>
<text x="31.70" y="571.32" font-size="4.4" text-anchor="end" font-weight="normal" fill="#222" stroke="#222" stroke-width="0.13" font-family="'DejaVu Sans', 'Liberation Sans', sans-serif">0.2</text>
<line x1="32.90" y1="550.54" x2="34.50" y2="550.54" stroke="#222" stroke-width="0.5"/>
<text x="31.70" y="552.14" font-size="4.4" text-anchor="end" font-weight="normal" fill="#222" stroke="#222" stroke-width="0.13" font-family="'DejaVu Sans', 'Liberation Sans', sans-serif">0.4</text>
<line x1="32.90" y1="531.36" x2="34.50" y2="531.36" stroke="#222" stroke-width="0.5"/>
<text x="31.70" y="532.96" font-size="4.4" text-anchor="end" font-weight="normal" fill="#222" stroke="#222" stroke-width="0.13" font-family="'DejaVu Sans', 'Liberation Sans', sans-serif">0.6</text>
<line x1="32.90" y1="512.18" x2="34.50" y2="512.18" stroke="#222" stroke-width="0.5"/>
<text x="31.70" y="513.78" font-size="4.4" text-anchor="end" font-weight="normal" fill="#222" stroke="#222" stroke-width="0.13" font-family="'DejaVu Sans', 'Liberation Sans', sans-serif">0.8</text>
<line x1="32.90" y1="493.00" x2="34.50" y2="493.00" stroke="#222" stroke-width="0.5"/>
<text x="31.70" y="494.60" font-size="4.4" text-anchor="end" font-weight="normal" fill="#222" stroke="#222" stroke-width="0.13" font-family="'DejaVu Sans', 'Liberation Sans', sans-serif">1.0</text>
<text x="16.10" y="541.40" font-size="5.25" text-anchor="middle" font-weight="normal" fill="#222" stroke="#222" stroke-width="0.13" font-family="'DejaVu Sans', 'Liberation Sans', sans-serif" transform="rotate(-90 16.10 541.40)">HRDetect score</text>
<line x1="44.35" y1="588.90" x2="44.35" y2="590.50" stroke="#222" stroke-width="0.45"/>
<text x="45.35" y="591.70" font-size="4.4" text-anchor="end" font-weight="normal" fill="#222" stroke="#222" stroke-width="0.13" font-family="'DejaVu Sans', 'Liberation Sans', sans-serif" transform="rotate(-90 45.35 591.70)">KM12</text>
<line x1="49.82" y1="588.90" x2="49.82" y2="590.50" stroke="#222" stroke-width="0.45"/>
<text x="50.82" y="591.70" font-size="4.4" text-anchor="end" font-weight="normal" fill="#222" stroke="#222" stroke-width="0.13" font-family="'DejaVu Sans', 'Liberation Sans', sans-serif" transform="rotate(-90 50.82 591.70)">SNU1544</text>
<line x1="55.29" y1="588.90" x2="55.29" y2="590.50" stroke="#222" stroke-width="0.45"/>
<text x="56.29" y="591.70" font-size="4.4" text-anchor="end" font-weight="normal" fill="#222" stroke="#222" stroke-width="0.13" font-family="'DejaVu Sans', 'Liberation Sans', sans-serif" transform="rotate(-90 56.29 591.70)">HCA24</text>
<line x1="60.76" y1="588.90" x2="60.76" y2="590.50" stroke="#222" stroke-width="0.45"/>
<text x="61.76" y="591.70" font-size="4.4" text-anchor="end" font-weight="normal" fill="#222" stroke="#222" stroke-width="0.13" font-family="'DejaVu Sans', 'Liberation Sans', sans-serif" transform="rotate(-90 61.76 591.70)">HROC60</text>
<line x1="66.23" y1="588.90" x2="66.23" y2="590.50" stroke="#222" stroke-width="0.45"/>
<text x="67.23" y="591.70" font-size="4.4" text-anchor="end" font-weight="normal" fill="#222" stroke="#222" stroke-width="0.13" font-family="'DejaVu Sans', 'Liberation Sans', sans-serif" transform="rotate(-90 67.23 591.70)">NCI-H498</text>
<line x1="71.70" y1="588.90" x2="71.70" y2="590.50" stroke="#222" stroke-width="0.45"/>
<text x="72.70" y="591.70" font-size="4.4" text-anchor="end" font-weight="normal" fill="#222" stroke="#222" stroke-width="0.13" font-family="'DejaVu Sans', 'Liberation Sans', sans-serif" transform="rotate(-90 72.70 591.70)">COLO678</text>
<line x1="77.17" y1="588.90" x2="77.17" y2="590.50" stroke="#222" stroke-width="0.45"/>
<text x="78.17" y="591.70" font-size="4.4" text-anchor="end" font-weight="normal" fill="#222" stroke="#222" stroke-width="0.13" font-family="'DejaVu Sans', 'Liberation Sans', sans-serif" transform="rotate(-90 78.17 591.70)">SW403</text>
<line x1="82.64" y1="588.90" x2="82.64" y2="590.50" stroke="#222" stroke-width="0.45"/>
<text x="83.64" y="591.70" font-size="4.4" text-anchor="end" font-weight="normal" fill="#222" stroke="#222" stroke-width="0.13" font-family="'DejaVu Sans', 'Liberation Sans', sans-serif" transform="rotate(-90 83.64 591.70)">SW1116</text>
<line x1="88.11" y1="588.90" x2="88.11" y2="590.50" stroke="#222" stroke-width="0.45"/>
<text x="89.11" y="591.70" font-size="4.4" text-anchor="end" font-weight="normal" fill="#222" stroke="#222" stroke-width="0.13" font-family="'DejaVu Sans', 'Liberation Sans', sans-serif" transform="rotate(-90 89.11 591.70)">JVE015</text>
<rect x="91.58" y="588.80" width="4.00" height="0.10" fill="#1f77b4" stroke="none" stroke-width="0.7"/>
<line x1="93.58" y1="588.90" x2="93.58" y2="590.50" stroke="#222" stroke-width="0.45"/>
<text x="94.58" y="591.70" font-size="4.4" text-anchor="end" font-weight="normal" fill="#222" stroke="#222" stroke-width="0.13" font-family="'DejaVu Sans', 'Liberation Sans', sans-serif" transform="rotate(-90 94.58 591.70)">CL11</text>
<rect x="97.05" y="588.71" width="4.00" height="0.19" fill="#1f77b4" stroke="none" stroke-width="0.7"/>
<line x1="99.05" y1="588.90" x2="99.05" y2="590.50" stroke="#222" stroke-width="0.45"/>
<text x="100.05" y="591.70" font-size="4.4" text-anchor="end" font-weight="normal" fill="#222" stroke="#222" stroke-width="0.13" font-family="'DejaVu Sans', 'Liberation Sans', sans-serif" transform="rotate(-90 100.05 591.70)">SNU1411</text>
<rect x="102.52" y="588.52" width="4.00" height="0.38" fill="#1f77b4" stroke="none" stroke-width="0.7"/>
<line x1="104.52" y1="588.90" x2="104.52" y2="590.50" stroke="#222" stroke-width="0.45"/>
<text x="105.52" y="591.70" font-size="4.4" text-anchor="end" font-weight="normal" fill="#222" stroke="#222" stroke-width="0.13" font-family="'DejaVu Sans', 'Liberation Sans', sans-serif" transform="rotate(-90 105.52 591.70)">CRC0740_XL</text>
<rect x="107.99" y="588.42" width="4.00" height="0.48" fill="#1f77b4" stroke="none" stroke-width="0.7"/>
<line x1="109.99" y1="588.90" x2="109.99" y2="590.50" stroke="#222" stroke-width="0.45"/>
<text x="110.99" y="591.70" font-size="4.4" text-anchor="end" font-weight="normal" fill="#222" stroke="#222" stroke-width="0.13" font-family="'DejaVu Sans', 'Liberation Sans', sans-serif" transform="rotate(-90 110.99 591.70)">COGA2</text>
<rect x="113.46" y="588.13" width="4.00" height="0.77" fill="#1f77b4" stroke="none" stroke-width="0.7"/>
<line x1="115.46" y1="588.90" x2="115.46" y2="590.50" stroke="#222" stroke-width="0.45"/>
<text x="116.46" y="591.70" font-size="4.4" text-anchor="end" font-weight="normal" fill="#222" stroke="#222" stroke-width="0.13" font-family="'DejaVu Sans', 'Liberation Sans', sans-serif" transform="rotate(-90 116.46 591.70)">HROC32_T3M1</text>
<rect x="118.93" y="588.04" width="4.00" height="0.86" fill="#1f77b4" stroke="none" stroke-width="0.7"/>
<line x1="120.93" y1="588.90" x2="120.93" y2="590.50" stroke="#222" stroke-width="0.45"/>
<text x="121.93" y="591.70" font-size="4.4" text-anchor="end" font-weight="normal" fill="#222" stroke="#222" stroke-width="0.13" font-family="'DejaVu Sans', 'Liberation Sans', sans-serif" transform="rotate(-90 121.93 591.70)">C32</text>
<rect x="124.40" y="588.04" width="4.00" height="0.86" fill="#1f77b4" stroke="none" stroke-width="0.7"/>
<line x1="126.40" y1="588.90" x2="126.40" y2="590.50" stroke="#222" stroke-width="0.45"/>
<text x="127.40" y="591.70" font-size="4.4" text-anchor="end" font-weight="normal" fill="#222" stroke="#222" stroke-width="0.13" font-family="'DejaVu Sans', 'Liberation Sans', sans-serif" transform="rotate(-90 127.40 591.70)">VACO432</text>
<rect x="129.87" y="586.89" width="4.00" height="2.01" fill="#1f77b4" stroke="none" stroke-width="0.7"/>
<line x1="131.87" y1="588.90" x2="131.87" y2="590.50" stroke="#222" stroke-width="0.45"/>
<text x="132.87" y="591.70" font-size="4.4" text-anchor="end" font-weight="normal" fill="#222" stroke="#222" stroke-width="0.13" font-family="'DejaVu Sans', 'Liberation Sans', sans-serif" transform="rotate(-90 132.87 591.70)">C80</text>
<rect x="135.34" y="580.94" width="4.00" height="7.96" fill="#1f77b4" stroke="none" stroke-width="0.7"/>
<line x1="137.34" y1="588.90" x2="137.34" y2="590.50" stroke="#222" stroke-width="0.45"/>
<text x="138.34" y="591.70" font-size="4.4" text-anchor="end" font-weight="normal" fill="#222" stroke="#222" stroke-width="0.13" font-family="'DejaVu Sans', 'Liberation Sans', sans-serif" transform="rotate(-90 138.34 591.70)">HROC284_MET</text>
<rect x="140.81" y="579.50" width="4.00" height="9.40" fill="#1f77b4" stroke="none" stroke-width="0.7"/>
<line x1="142.81" y1="588.90" x2="142.81" y2="590.50" stroke="#222" stroke-width="0.45"/>
<text x="143.81" y="591.70" font-size="4.4" text-anchor="end" font-weight="normal" fill="#222" stroke="#222" stroke-width="0.13" font-family="'DejaVu Sans', 'Liberation Sans', sans-serif" transform="rotate(-90 143.81 591.70)">CRC0558_XL</text>
<rect x="146.28" y="579.21" width="4.00" height="9.69" fill="#1f77b4" stroke="none" stroke-width="0.7"/>
<line x1="148.28" y1="588.90" x2="148.28" y2="590.50" stroke="#222" stroke-width="0.45"/>
<text x="149.28" y="591.70" font-size="4.4" text-anchor="end" font-weight="normal" fill="#222" stroke="#222" stroke-width="0.13" font-family="'DejaVu Sans', 'Liberation Sans', sans-serif" transform="rotate(-90 149.28 591.70)">SKCO1</text>
<rect x="151.75" y="578.93" width="4.00" height="9.97" fill="#1f77b4" stroke="none" stroke-width="0.7"/>
<line x1="153.75" y1="588.90" x2="153.75" y2="590.50" stroke="#222" stroke-width="0.45"/>
<text x="154.75" y="591.70" font-size="4.4" text-anchor="end" font-weight="normal" fill="#222" stroke="#222" stroke-width="0.13" font-family="'DejaVu Sans', 'Liberation Sans', sans-serif" transform="rotate(-90 154.75 591.70)">OXCO3</text>
<rect x="157.22" y="577.97" width="4.00" height="10.93" fill="#1f77b4" stroke="none" stroke-width="0.7"/>
<line x1="159.22" y1="588.90" x2="159.22" y2="590.50" stroke="#222" stroke-width="0.45"/>
<text x="160.22" y="591.70" font-size="4.4" text-anchor="end" font-weight="normal" fill="#222" stroke="#222" stroke-width="0.13" font-family="'DejaVu Sans', 'Liberation Sans', sans-serif" transform="rotate(-90 160.22 591.70)">COLO201</text>
<rect x="162.69" y="572.02" width="4.00" height="16.88" fill="#1f77b4" stroke="none" stroke-width="0.7"/>
<line x1="164.69" y1="588.90" x2="164.69" y2="590.50" stroke="#222" stroke-width="0.45"/>
<text x="165.69" y="591.70" font-size="4.4" text-anchor="end" font-weight="normal" fill="#222" stroke="#222" stroke-width="0.13" font-family="'DejaVu Sans', 'Liberation Sans', sans-serif" transform="rotate(-90 165.69 591.70)">LIM2099</text>
<rect x="168.16" y="566.17" width="4.00" height="22.73" fill="#1f77b4" stroke="none" stroke-width="0.7"/>
<line x1="170.16" y1="588.90" x2="170.16" y2="590.50" stroke="#222" stroke-width="0.45"/>
<text x="171.16" y="591.70" font-size="4.4" text-anchor="end" font-weight="normal" fill="#222" stroke="#222" stroke-width="0.13" font-family="'DejaVu Sans', 'Liberation Sans', sans-serif" transform="rotate(-90 171.16 591.70)">CO-115</text>
<rect x="173.63" y="501.54" width="4.00" height="87.36" fill="#1f77b4" stroke="none" stroke-width="0.7"/>
<line x1="175.63" y1="588.90" x2="175.63" y2="590.50" stroke="#222" stroke-width="0.45"/>
<text x="176.63" y="591.70" font-size="4.4" text-anchor="end" font-weight="normal" fill="#222" stroke="#222" stroke-width="0.13" font-family="'DejaVu Sans', 'Liberation Sans', sans-serif" transform="rotate(-90 176.63 591.70)">SW480</text>
<rect x="179.10" y="493.00" width="4.00" height="95.90" fill="#1f77b4" stroke="none" stroke-width="0.7"/>
<line x1="181.10" y1="588.90" x2="181.10" y2="590.50" stroke="#222" stroke-width="0.45"/>
<text x="182.10" y="591.70" font-size="4.4" text-anchor="end" font-weight="normal" fill="#222" stroke="#222" stroke-width="0.13" font-family="'DejaVu Sans', 'Liberation Sans', sans-serif" transform="rotate(-90 182.10 591.70)">HROC334</text>
<rect x="184.57" y="493.00" width="4.00" height="95.90" fill="#1f77b4" stroke="none" stroke-width="0.7"/>
<line x1="186.57" y1="588.90" x2="186.57" y2="590.50" stroke="#222" stroke-width="0.45"/>
<text x="187.57" y="591.70" font-size="4.4" text-anchor="end" font-weight="normal" fill="#222" stroke="#222" stroke-width="0.13" font-family="'DejaVu Sans', 'Liberation Sans', sans-serif" transform="rotate(-90 187.57 591.70)">HROC278_MET</text>
<rect x="190.04" y="493.00" width="4.00" height="95.90" fill="#1f77b4" stroke="none" stroke-width="0.7"/>
<line x1="192.04" y1="588.90" x2="192.04" y2="590.50" stroke="#222" stroke-width="0.45"/>
<text x="193.04" y="591.70" font-size="4.4" text-anchor="end" font-weight="normal" fill="#222" stroke="#222" stroke-width="0.13" font-family="'DejaVu Sans', 'Liberation Sans', sans-serif" transform="rotate(-90 193.04 591.70)">KP363T</text>
<rect x="34.50" y="488.40" width="167.90" height="100.50" fill="none" stroke="#333" stroke-width="0.6"/>
</g>
<g id="panelF">
<text x="236.60" y="490.80" font-size="13.2" text-anchor="start" font-weight="bold" fill="#000">F</text>
<path d="M272.3,510.41 V573.0 H366.48" stroke="#111" stroke-width="0.9" fill="none"/>
<line x1="270.10" y1="573.00" x2="272.30" y2="573.00" stroke="#111" stroke-width="0.8"/>
<text x="269.30" y="574.60" font-size="4.4" text-anchor="end" font-weight="bold" fill="#111" stroke="#111" stroke-width="0.13">0</text>
<line x1="270.10" y1="564.13" x2="272.30" y2="564.13" stroke="#111" stroke-width="0.8"/>
<text x="269.30" y="565.73" font-size="4.4" text-anchor="end" font-weight="bold" fill="#111" stroke="#111" stroke-width="0.13">20</text>
<line x1="270.10" y1="555.26" x2="272.30" y2="555.26" stroke="#111" stroke-width="0.8"/>
<text x="269.30" y="556.86" font-size="4.4" text-anchor="end" font-weight="bold" fill="#111" stroke="#111" stroke-width="0.13">40</text>
<line x1="270.10" y1="546.39" x2="272.30" y2="546.39" stroke="#111" stroke-width="0.8"/>
<text x="269.30" y="547.99" font-size="4.4" text-anchor="end" font-weight="bold" fill="#111" stroke="#111" stroke-width="0.13">60</text>
<line x1="270.10" y1="537.52" x2="272.30" y2="537.52" stroke="#111" stroke-width="0.8"/>
<text x="269.30" y="539.12" font-size="4.4" text-anchor="end" font-weight="bold" fill="#111" stroke="#111" stroke-width="0.13">80</text>
<line x1="270.10" y1="528.65" x2="272.30" y2="528.65" stroke="#111" stroke-width="0.8"/>
<text x="269.30" y="530.25" font-size="4.4" text-anchor="end" font-weight="bold" fill="#111" stroke="#111" stroke-width="0.13">100</text>
<line x1="270.10" y1="519.78" x2="272.30" y2="519.78" stroke="#111" stroke-width="0.8"/>
<text x="269.30" y="521.38" font-size="4.4" text-anchor="end" font-weight="bold" fill="#111" stroke="#111" stroke-width="0.13">120</text>
<line x1="270.10" y1="510.91" x2="272.30" y2="510.91" stroke="#111" stroke-width="0.8"/>
<text x="269.30" y="512.51" font-size="4.4" text-anchor="end" font-weight="bold" fill="#111" stroke="#111" stroke-width="0.13">140</text>
<line x1="271.93" y1="573.00" x2="271.93" y2="575.20" stroke="#111" stroke-width="0.8"/>
<text x="270.53" y="579.90" font-size="4.4" text-anchor="middle" font-weight="bold" fill="#111" stroke="#111" stroke-width="0.13">−7.5</text>
<line x1="287.60" y1="573.00" x2="287.60" y2="575.20" stroke="#111" stroke-width="0.8"/>
<text x="286.20" y="579.90" font-size="4.4" text-anchor="middle" font-weight="bold" fill="#111" stroke="#111" stroke-width="0.13">−7.0</text>
<line x1="303.28" y1="573.00" x2="303.28" y2="575.20" stroke="#111" stroke-width="0.8"/>
<text x="301.88" y="579.90" font-size="4.4" text-anchor="middle" font-weight="bold" fill="#111" stroke="#111" stroke-width="0.13">−6.5</text>
<line x1="318.95" y1="573.00" x2="318.95" y2="575.20" stroke="#111" stroke-width="0.8"/>
<text x="317.55" y="579.90" font-size="4.4" text-anchor="middle" font-weight="bold" fill="#111" stroke="#111" stroke-width="0.13">−6.0</text>
<line x1="334.62" y1="573.00" x2="334.62" y2="575.20" stroke="#111" stroke-width="0.8"/>
<text x="333.23" y="579.90" font-size="4.4" text-anchor="middle" font-weight="bold" fill="#111" stroke="#111" stroke-width="0.13">−5.5</text>
<line x1="350.30" y1="573.00" x2="350.30" y2="575.20" stroke="#111" stroke-width="0.8"/>
<text x="348.90" y="579.90" font-size="4.4" text-anchor="middle" font-weight="bold" fill="#111" stroke="#111" stroke-width="0.13">−5.0</text>
<line x1="365.98" y1="573.00" x2="365.98" y2="575.20" stroke="#111" stroke-width="0.8"/>
<text x="364.58" y="579.90" font-size="4.4" text-anchor="middle" font-weight="bold" fill="#111" stroke="#111" stroke-width="0.13">−4.5</text>
<text x="251.60" y="542.40" font-size="5.0" text-anchor="middle" font-weight="bold" fill="#1a1a1a" stroke="#1a1a1a" stroke-width="0.13" transform="rotate(-90 251.60 542.40)">% Cell viability</text>
<text x="257.70" y="542.40" font-size="5.0" text-anchor="middle" font-weight="bold" fill="#1a1a1a" stroke="#1a1a1a" stroke-width="0.13" transform="rotate(-90 257.70 542.40)">(fold control)</text>
<text x="319.00" y="588.50" font-size="5.6" text-anchor="middle" font-weight="bold" fill="#1a1a1a" stroke="#1a1a1a" stroke-width="0.13">Ceralasertib log (mol/L)</text>
<path d="M287.60,537.38 L288.65,541.03 L289.69,545.46 L290.74,550.38 L291.78,555.30 L292.83,559.74 L293.87,563.39 L294.92,566.17 L295.96,568.16 L297.00,569.53 L298.05,570.45 L299.10,571.05 L300.14,571.43 L301.19,571.68 L302.23,571.84 L303.28,571.94 L304.32,572.00 L305.37,572.04 L306.41,572.07 L307.45,572.09 L308.50,572.10 L309.55,572.10 L310.59,572.11 L311.64,572.11 L312.68,572.11 L313.73,572.11 L314.77,572.11 L315.82,572.11 L316.86,572.11 L317.91,572.11 L318.95,572.11 L320.00,572.11 L321.04,572.11 L322.09,572.11 L323.13,572.11 L324.18,572.11 L325.22,572.11 L326.27,572.11 L327.31,572.11 L328.36,572.11 L329.40,572.11 L330.45,572.11 L331.49,572.11 L332.54,572.11 L333.58,572.11 L334.62,572.11 L335.67,572.11 L336.72,572.11 L337.76,572.11 L338.81,572.11 L339.85,572.11 L340.90,572.11 L341.94,572.11 L342.99,572.11 L344.03,572.11 L345.08,572.11 L346.12,572.11 L347.17,572.11 L348.21,572.11 L349.26,572.11 L350.30,572.11" fill="none" stroke="#2e49a4" stroke-width="0.9" stroke-linejoin="round"/>
<line x1="287.60" y1="536.49" x2="287.60" y2="538.26" stroke="#2e49a4" stroke-width="0.45"/>
<circle cx="287.60" cy="537.38" r="0.85" fill="#2e49a4" stroke="#fff" stroke-width="0.15"/>
<line x1="298.05" y1="569.77" x2="298.05" y2="571.13" stroke="#2e49a4" stroke-width="0.45"/>
<circle cx="298.05" cy="570.45" r="0.85" fill="#2e49a4" stroke="#fff" stroke-width="0.15"/>
<line x1="308.50" y1="570.81" x2="308.50" y2="573.38" stroke="#2e49a4" stroke-width="0.45"/>
<circle cx="308.50" cy="572.10" r="0.85" fill="#2e49a4" stroke="#fff" stroke-width="0.15"/>
<line x1="318.95" y1="571.53" x2="318.95" y2="572.70" stroke="#2e49a4" stroke-width="0.45"/>
<circle cx="318.95" cy="572.11" r="0.85" fill="#2e49a4" stroke="#fff" stroke-width="0.15"/>
<line x1="329.40" y1="570.97" x2="329.40" y2="573.26" stroke="#2e49a4" stroke-width="0.45"/>
<circle cx="329.40" cy="572.11" r="0.85" fill="#2e49a4" stroke="#fff" stroke-width="0.15"/>
<line x1="339.85" y1="571.17" x2="339.85" y2="573.05" stroke="#2e49a4" stroke-width="0.45"/>
<circle cx="339.85" cy="572.11" r="0.85" fill="#2e49a4" stroke="#fff" stroke-width="0.15"/>
<line x1="350.30" y1="571.54" x2="350.30" y2="572.68" stroke="#2e49a4" stroke-width="0.45"/>
<circle cx="350.30" cy="572.11" r="0.85" fill="#2e49a4" stroke="#fff" stroke-width="0.15"/>
<path d="M287.60,533.56 L288.65,535.50 L289.69,538.02 L290.74,541.15 L291.78,544.84 L292.83,548.92 L293.87,553.12 L294.92,557.14 L295.96,560.73 L297.00,563.74 L298.05,566.14 L299.10,567.97 L300.14,569.33 L301.19,570.30 L302.23,571.00 L303.28,571.48 L304.32,571.82 L305.37,572.05 L306.41,572.21 L307.45,572.32 L308.50,572.40 L309.55,572.45 L310.59,572.48 L311.64,572.51 L312.68,572.52 L313.73,572.53 L314.77,572.54 L315.82,572.55 L316.86,572.55 L317.91,572.55 L318.95,572.55 L320.00,572.55 L321.04,572.55 L322.09,572.56 L323.13,572.56 L324.18,572.56 L325.22,572.56 L326.27,572.56 L327.31,572.56 L328.36,572.56 L329.40,572.56 L330.45,572.56 L331.49,572.56 L332.54,572.56 L333.58,572.56 L334.62,572.56 L335.67,572.56 L336.72,572.56 L337.76,572.56 L338.81,572.56 L339.85,572.56 L340.90,572.56 L341.94,572.56 L342.99,572.56 L344.03,572.56 L345.08,572.56 L346.12,572.56 L347.17,572.56 L348.21,572.56 L349.26,572.56 L350.30,572.56" fill="none" stroke="#2e49a4" stroke-width="0.9" stroke-linejoin="round"/>
<line x1="287.60" y1="532.45" x2="287.60" y2="534.67" stroke="#2e49a4" stroke-width="0.45"/>
<circle cx="287.60" cy="533.56" r="0.85" fill="#2e49a4" stroke="#fff" stroke-width="0.15"/>
<line x1="298.05" y1="565.60" x2="298.05" y2="566.69" stroke="#2e49a4" stroke-width="0.45"/>
<circle cx="298.05" cy="566.14" r="0.85" fill="#2e49a4" stroke="#fff" stroke-width="0.15"/>
<line x1="308.50" y1="571.37" x2="308.50" y2="573.42" stroke="#2e49a4" stroke-width="0.45"/>
<circle cx="308.50" cy="572.40" r="0.85" fill="#2e49a4" stroke="#fff" stroke-width="0.15"/>
<line x1="318.95" y1="571.97" x2="318.95" y2="573.14" stroke="#2e49a4" stroke-width="0.45"/>
<circle cx="318.95" cy="572.55" r="0.85" fill="#2e49a4" stroke="#fff" stroke-width="0.15"/>
<line x1="329.40" y1="571.95" x2="329.40" y2="573.17" stroke="#2e49a4" stroke-width="0.45"/>
<circle cx="329.40" cy="572.56" r="0.85" fill="#2e49a4" stroke="#fff" stroke-width="0.15"/>
<line x1="339.85" y1="571.55" x2="339.85" y2="573.57" stroke="#2e49a4" stroke-width="0.45"/>
<circle cx="339.85" cy="572.56" r="0.85" fill="#2e49a4" stroke="#fff" stroke-width="0.15"/>
<line x1="350.30" y1="571.06" x2="350.30" y2="574.05" stroke="#2e49a4" stroke-width="0.45"/>
<circle cx="350.30" cy="572.56" r="0.85" fill="#2e49a4" stroke="#fff" stroke-width="0.15"/>
<path d="M287.60,533.71 L288.65,535.04 L289.69,536.64 L290.74,538.54 L291.78,540.73 L292.83,543.20 L293.87,545.88 L294.92,548.72 L295.96,551.60 L297.00,554.44 L298.05,557.12 L299.10,559.59 L300.14,561.78 L301.19,563.68 L302.23,565.28 L303.28,566.61 L304.32,567.69 L305.37,568.56 L306.41,569.25 L307.45,569.80 L308.50,570.22 L309.55,570.55 L310.59,570.81 L311.64,571.01 L312.68,571.16 L313.73,571.28 L314.77,571.37 L315.82,571.44 L316.86,571.50 L317.91,571.54 L318.95,571.57 L320.00,571.59 L321.04,571.61 L322.09,571.62 L323.13,571.63 L324.18,571.64 L325.22,571.65 L326.27,571.65 L327.31,571.66 L328.36,571.66 L329.40,571.66 L330.45,571.66 L331.49,571.67 L332.54,571.67 L333.58,571.67 L334.62,571.67 L335.67,571.67 L336.72,571.67 L337.76,571.67 L338.81,571.67 L339.85,571.67 L340.90,571.67 L341.94,571.67 L342.99,571.67 L344.03,571.67 L345.08,571.67 L346.12,571.67 L347.17,571.67 L348.21,571.67 L349.26,571.67 L350.30,571.67" fill="none" stroke="#2e49a4" stroke-width="0.9" stroke-linejoin="round"/>
<line x1="287.60" y1="533.06" x2="287.60" y2="534.36" stroke="#2e49a4" stroke-width="0.45"/>
<circle cx="287.60" cy="533.71" r="0.85" fill="#2e49a4" stroke="#fff" stroke-width="0.15"/>
<line x1="298.05" y1="556.35" x2="298.05" y2="557.89" stroke="#2e49a4" stroke-width="0.45"/>
<circle cx="298.05" cy="557.12" r="0.85" fill="#2e49a4" stroke="#fff" stroke-width="0.15"/>
<line x1="308.50" y1="568.97" x2="308.50" y2="571.48" stroke="#2e49a4" stroke-width="0.45"/>
<circle cx="308.50" cy="570.22" r="0.85" fill="#2e49a4" stroke="#fff" stroke-width="0.15"/>
<line x1="318.95" y1="569.93" x2="318.95" y2="573.20" stroke="#2e49a4" stroke-width="0.45"/>
<circle cx="318.95" cy="571.57" r="0.85" fill="#2e49a4" stroke="#fff" stroke-width="0.15"/>
<line x1="329.40" y1="570.47" x2="329.40" y2="572.86" stroke="#2e49a4" stroke-width="0.45"/>
<circle cx="329.40" cy="571.66" r="0.85" fill="#2e49a4" stroke="#fff" stroke-width="0.15"/>
<line x1="339.85" y1="570.69" x2="339.85" y2="572.65" stroke="#2e49a4" stroke-width="0.45"/>
<circle cx="339.85" cy="571.67" r="0.85" fill="#2e49a4" stroke="#fff" stroke-width="0.15"/>
<line x1="350.30" y1="570.00" x2="350.30" y2="573.34" stroke="#2e49a4" stroke-width="0.45"/>
<circle cx="350.30" cy="571.67" r="0.85" fill="#2e49a4" stroke="#fff" stroke-width="0.15"/>
<path d="M287.60,535.21 L288.65,536.35 L289.69,537.65 L290.74,539.09 L291.78,540.69 L292.83,542.43 L293.87,544.29 L294.92,546.26 L295.96,548.30 L297.00,550.38 L298.05,552.46 L299.10,554.50 L300.14,556.47 L301.19,558.33 L302.23,560.07 L303.28,561.67 L304.32,563.12 L305.37,564.41 L306.41,565.55 L307.45,566.55 L308.50,567.42 L309.55,568.16 L310.59,568.80 L311.64,569.34 L312.68,569.80 L313.73,570.19 L314.77,570.51 L315.82,570.78 L316.86,571.01 L317.91,571.20 L318.95,571.35 L320.00,571.48 L321.04,571.59 L322.09,571.68 L323.13,571.76 L324.18,571.82 L325.22,571.87 L326.27,571.91 L327.31,571.95 L328.36,571.98 L329.40,572.00 L330.45,572.02 L331.49,572.04 L332.54,572.05 L333.58,572.06 L334.62,572.07 L335.67,572.08 L336.72,572.08 L337.76,572.09 L338.81,572.09 L339.85,572.10 L340.90,572.10 L341.94,572.10 L342.99,572.10 L344.03,572.11 L345.08,572.11 L346.12,572.11 L347.17,572.11 L348.21,572.11 L349.26,572.11 L350.30,572.11" fill="none" stroke="#2e49a4" stroke-width="0.9" stroke-linejoin="round"/>
<line x1="287.60" y1="534.66" x2="287.60" y2="535.77" stroke="#2e49a4" stroke-width="0.45"/>
<circle cx="287.60" cy="535.21" r="0.85" fill="#2e49a4" stroke="#fff" stroke-width="0.15"/>
<line x1="298.05" y1="550.93" x2="298.05" y2="553.99" stroke="#2e49a4" stroke-width="0.45"/>
<circle cx="298.05" cy="552.46" r="0.85" fill="#2e49a4" stroke="#fff" stroke-width="0.15"/>
<line x1="308.50" y1="566.57" x2="308.50" y2="568.26" stroke="#2e49a4" stroke-width="0.45"/>
<circle cx="308.50" cy="567.42" r="0.85" fill="#2e49a4" stroke="#fff" stroke-width="0.15"/>
<line x1="318.95" y1="570.68" x2="318.95" y2="572.03" stroke="#2e49a4" stroke-width="0.45"/>
<circle cx="318.95" cy="571.35" r="0.85" fill="#2e49a4" stroke="#fff" stroke-width="0.15"/>
<line x1="329.40" y1="571.36" x2="329.40" y2="572.64" stroke="#2e49a4" stroke-width="0.45"/>
<circle cx="329.40" cy="572.00" r="0.85" fill="#2e49a4" stroke="#fff" stroke-width="0.15"/>
<line x1="339.85" y1="571.23" x2="339.85" y2="572.97" stroke="#2e49a4" stroke-width="0.45"/>
<circle cx="339.85" cy="572.10" r="0.85" fill="#2e49a4" stroke="#fff" stroke-width="0.15"/>
<line x1="350.30" y1="570.63" x2="350.30" y2="573.59" stroke="#2e49a4" stroke-width="0.45"/>
<circle cx="350.30" cy="572.11" r="0.85" fill="#2e49a4" stroke="#fff" stroke-width="0.15"/>
<path d="M287.60,531.26 L288.65,531.88 L289.69,532.64 L290.74,533.56 L291.78,534.66 L292.83,535.95 L293.87,537.46 L294.92,539.20 L295.96,541.15 L297.00,543.31 L298.05,545.64 L299.10,548.09 L300.14,550.60 L301.19,553.12 L302.23,555.57 L303.28,557.90 L304.32,560.05 L305.37,562.01 L306.41,563.74 L307.45,565.25 L308.50,566.55 L309.55,567.65 L310.59,568.56 L311.64,569.33 L312.68,569.95 L313.73,570.46 L314.77,570.88 L315.82,571.21 L316.86,571.48 L317.91,571.70 L318.95,571.87 L320.00,572.01 L321.04,572.12 L322.09,572.21 L323.13,572.28 L324.18,572.34 L325.22,572.38 L326.27,572.42 L327.31,572.45 L328.36,572.47 L329.40,572.49 L330.45,572.50 L331.49,572.51 L332.54,572.52 L333.58,572.53 L334.62,572.53 L335.67,572.54 L336.72,572.54 L337.76,572.55 L338.81,572.55 L339.85,572.55 L340.90,572.55 L341.94,572.55 L342.99,572.55 L344.03,572.55 L345.08,572.55 L346.12,572.55 L347.17,572.56 L348.21,572.56 L349.26,572.56 L350.30,572.56" fill="none" stroke="#2e49a4" stroke-width="0.9" stroke-linejoin="round"/>
<line x1="287.60" y1="530.54" x2="287.60" y2="531.97" stroke="#2e49a4" stroke-width="0.45"/>
<circle cx="287.60" cy="531.26" r="0.85" fill="#2e49a4" stroke="#fff" stroke-width="0.15"/>
<line x1="298.05" y1="544.44" x2="298.05" y2="546.83" stroke="#2e49a4" stroke-width="0.45"/>
<circle cx="298.05" cy="545.64" r="0.85" fill="#2e49a4" stroke="#fff" stroke-width="0.15"/>
<line x1="308.50" y1="565.28" x2="308.50" y2="567.82" stroke="#2e49a4" stroke-width="0.45"/>
<circle cx="308.50" cy="566.55" r="0.85" fill="#2e49a4" stroke="#fff" stroke-width="0.15"/>
<line x1="318.95" y1="570.92" x2="318.95" y2="572.82" stroke="#2e49a4" stroke-width="0.45"/>
<circle cx="318.95" cy="571.87" r="0.85" fill="#2e49a4" stroke="#fff" stroke-width="0.15"/>
<line x1="329.40" y1="571.33" x2="329.40" y2="573.64" stroke="#2e49a4" stroke-width="0.45"/>
<circle cx="329.40" cy="572.49" r="0.85" fill="#2e49a4" stroke="#fff" stroke-width="0.15"/>
<line x1="339.85" y1="571.97" x2="339.85" y2="573.12" stroke="#2e49a4" stroke-width="0.45"/>
<circle cx="339.85" cy="572.55" r="0.85" fill="#2e49a4" stroke="#fff" stroke-width="0.15"/>
<line x1="350.30" y1="571.98" x2="350.30" y2="573.13" stroke="#2e49a4" stroke-width="0.45"/>
<circle cx="350.30" cy="572.56" r="0.85" fill="#2e49a4" stroke="#fff" stroke-width="0.15"/>
<path d="M287.60,534.30 L288.65,535.01 L289.69,535.79 L290.74,536.65 L291.78,537.59 L292.83,538.60 L293.87,539.68 L294.92,540.85 L295.96,542.08 L297.00,543.37 L298.05,544.72 L299.10,546.11 L300.14,547.54 L301.19,548.99 L302.23,550.44 L303.28,551.89 L304.32,553.32 L305.37,554.71 L306.41,556.06 L307.45,557.36 L308.50,558.59 L309.55,559.75 L310.59,560.84 L311.64,561.85 L312.68,562.78 L313.73,563.64 L314.77,564.42 L315.82,565.13 L316.86,565.77 L317.91,566.35 L318.95,566.87 L320.00,567.33 L321.04,567.75 L322.09,568.11 L323.13,568.44 L324.18,568.73 L325.22,568.98 L326.27,569.20 L327.31,569.40 L328.36,569.57 L329.40,569.73 L330.45,569.86 L331.49,569.98 L332.54,570.08 L333.58,570.17 L334.62,570.25 L335.67,570.32 L336.72,570.37 L337.76,570.43 L338.81,570.47 L339.85,570.51 L340.90,570.55 L341.94,570.58 L342.99,570.60 L344.03,570.63 L345.08,570.65 L346.12,570.66 L347.17,570.68 L348.21,570.69 L349.26,570.70 L350.30,570.71" fill="none" stroke="#2e49a4" stroke-width="0.9" stroke-linejoin="round"/>
<line x1="287.60" y1="533.55" x2="287.60" y2="535.05" stroke="#2e49a4" stroke-width="0.45"/>
<circle cx="287.60" cy="534.30" r="0.85" fill="#2e49a4" stroke="#fff" stroke-width="0.15"/>
<line x1="298.05" y1="543.40" x2="298.05" y2="546.04" stroke="#2e49a4" stroke-width="0.45"/>
<circle cx="298.05" cy="544.72" r="0.85" fill="#2e49a4" stroke="#fff" stroke-width="0.15"/>
<line x1="308.50" y1="557.57" x2="308.50" y2="559.60" stroke="#2e49a4" stroke-width="0.45"/>
<circle cx="308.50" cy="558.59" r="0.85" fill="#2e49a4" stroke="#fff" stroke-width="0.15"/>
<line x1="318.95" y1="565.99" x2="318.95" y2="567.75" stroke="#2e49a4" stroke-width="0.45"/>
<circle cx="318.95" cy="566.87" r="0.85" fill="#2e49a4" stroke="#fff" stroke-width="0.15"/>
<line x1="329.40" y1="568.52" x2="329.40" y2="570.93" stroke="#2e49a4" stroke-width="0.45"/>
<circle cx="329.40" cy="569.73" r="0.85" fill="#2e49a4" stroke="#fff" stroke-width="0.15"/>
<line x1="339.85" y1="569.47" x2="339.85" y2="571.56" stroke="#2e49a4" stroke-width="0.45"/>
<circle cx="339.85" cy="570.51" r="0.85" fill="#2e49a4" stroke="#fff" stroke-width="0.15"/>
<line x1="350.30" y1="569.85" x2="350.30" y2="571.57" stroke="#2e49a4" stroke-width="0.45"/>
<circle cx="350.30" cy="570.71" r="0.85" fill="#2e49a4" stroke="#fff" stroke-width="0.15"/>
<path d="M287.60,528.66 L288.65,528.67 L289.69,528.69 L290.74,528.71 L291.78,528.74 L292.83,528.79 L293.87,528.88 L294.92,529.01 L295.96,529.22 L297.00,529.55 L298.05,530.06 L299.10,530.84 L300.14,532.02 L301.19,533.76 L302.23,536.24 L303.28,539.57 L304.32,543.76 L305.37,548.59 L306.41,553.62 L307.45,558.34 L308.50,562.37 L309.55,565.53 L310.59,567.84 L311.64,569.46 L312.68,570.55 L313.73,571.27 L314.77,571.74 L315.82,572.03 L316.86,572.23 L317.91,572.35 L318.95,572.42 L320.00,572.47 L321.04,572.50 L322.09,572.52 L323.13,572.54 L324.18,572.54 L325.22,572.55 L326.27,572.55 L327.31,572.55 L328.36,572.55 L329.40,572.56 L330.45,572.56 L331.49,572.56 L332.54,572.56 L333.58,572.56 L334.62,572.56 L335.67,572.56 L336.72,572.56 L337.76,572.56 L338.81,572.56 L339.85,572.56 L340.90,572.56 L341.94,572.56 L342.99,572.56 L344.03,572.56 L345.08,572.56 L346.12,572.56 L347.17,572.56 L348.21,572.56 L349.26,572.56 L350.30,572.56" fill="none" stroke="#2e49a4" stroke-width="0.9" stroke-linejoin="round"/>
<line x1="287.60" y1="527.21" x2="287.60" y2="530.12" stroke="#2e49a4" stroke-width="0.45"/>
<circle cx="287.60" cy="528.66" r="0.85" fill="#2e49a4" stroke="#fff" stroke-width="0.15"/>
<line x1="298.05" y1="528.72" x2="298.05" y2="531.40" stroke="#2e49a4" stroke-width="0.45"/>
<circle cx="298.05" cy="530.06" r="0.85" fill="#2e49a4" stroke="#fff" stroke-width="0.15"/>
<line x1="308.50" y1="561.58" x2="308.50" y2="563.17" stroke="#2e49a4" stroke-width="0.45"/>
<circle cx="308.50" cy="562.37" r="0.85" fill="#2e49a4" stroke="#fff" stroke-width="0.15"/>
<line x1="318.95" y1="571.23" x2="318.95" y2="573.61" stroke="#2e49a4" stroke-width="0.45"/>
<circle cx="318.95" cy="572.42" r="0.85" fill="#2e49a4" stroke="#fff" stroke-width="0.15"/>
<line x1="329.40" y1="571.42" x2="329.40" y2="573.69" stroke="#2e49a4" stroke-width="0.45"/>
<circle cx="329.40" cy="572.56" r="0.85" fill="#2e49a4" stroke="#fff" stroke-width="0.15"/>
<line x1="339.85" y1="571.01" x2="339.85" y2="574.11" stroke="#2e49a4" stroke-width="0.45"/>
<circle cx="339.85" cy="572.56" r="0.85" fill="#2e49a4" stroke="#fff" stroke-width="0.15"/>
<line x1="350.30" y1="571.18" x2="350.30" y2="573.93" stroke="#2e49a4" stroke-width="0.45"/>
<circle cx="350.30" cy="572.56" r="0.85" fill="#2e49a4" stroke="#fff" stroke-width="0.15"/>
<path d="M287.60,531.82 L288.65,532.30 L289.69,532.84 L290.74,533.46 L291.78,534.16 L292.83,534.94 L293.87,535.81 L294.92,536.77 L295.96,537.83 L297.00,538.99 L298.05,540.24 L299.10,541.58 L300.14,543.01 L301.19,544.52 L302.23,546.08 L303.28,547.69 L304.32,549.33 L305.37,550.98 L306.41,552.63 L307.45,554.24 L308.50,555.80 L309.55,557.31 L310.59,558.74 L311.64,560.08 L312.68,561.33 L313.73,562.49 L314.77,563.55 L315.82,564.51 L316.86,565.38 L317.91,566.16 L318.95,566.86 L320.00,567.48 L321.04,568.02 L322.09,568.50 L323.13,568.93 L324.18,569.29 L325.22,569.62 L326.27,569.90 L327.31,570.14 L328.36,570.35 L329.40,570.53 L330.45,570.69 L331.49,570.83 L332.54,570.95 L333.58,571.05 L334.62,571.13 L335.67,571.21 L336.72,571.27 L337.76,571.33 L338.81,571.38 L339.85,571.42 L340.90,571.45 L341.94,571.49 L342.99,571.51 L344.03,571.53 L345.08,571.55 L346.12,571.57 L347.17,571.58 L348.21,571.60 L349.26,571.61 L350.30,571.62" fill="none" stroke="#2e49a4" stroke-width="0.9" stroke-linejoin="round"/>
<line x1="287.60" y1="530.97" x2="287.60" y2="532.66" stroke="#2e49a4" stroke-width="0.45"/>
<circle cx="287.60" cy="531.82" r="0.85" fill="#2e49a4" stroke="#fff" stroke-width="0.15"/>
<line x1="298.05" y1="538.56" x2="298.05" y2="541.91" stroke="#2e49a4" stroke-width="0.45"/>
<circle cx="298.05" cy="540.24" r="0.85" fill="#2e49a4" stroke="#fff" stroke-width="0.15"/>
<line x1="308.50" y1="555.16" x2="308.50" y2="556.44" stroke="#2e49a4" stroke-width="0.45"/>
<circle cx="308.50" cy="555.80" r="0.85" fill="#2e49a4" stroke="#fff" stroke-width="0.15"/>
<line x1="318.95" y1="565.86" x2="318.95" y2="567.86" stroke="#2e49a4" stroke-width="0.45"/>
<circle cx="318.95" cy="566.86" r="0.85" fill="#2e49a4" stroke="#fff" stroke-width="0.15"/>
<line x1="329.40" y1="569.12" x2="329.40" y2="571.94" stroke="#2e49a4" stroke-width="0.45"/>
<circle cx="329.40" cy="570.53" r="0.85" fill="#2e49a4" stroke="#fff" stroke-width="0.15"/>
<line x1="339.85" y1="570.74" x2="339.85" y2="572.10" stroke="#2e49a4" stroke-width="0.45"/>
<circle cx="339.85" cy="571.42" r="0.85" fill="#2e49a4" stroke="#fff" stroke-width="0.15"/>
<line x1="350.30" y1="570.53" x2="350.30" y2="572.70" stroke="#2e49a4" stroke-width="0.45"/>
<circle cx="350.30" cy="571.62" r="0.85" fill="#2e49a4" stroke="#fff" stroke-width="0.15"/>
<path d="M287.60,533.31 L288.65,533.81 L289.69,534.35 L290.74,534.94 L291.78,535.58 L292.83,536.28 L293.87,537.02 L294.92,537.82 L295.96,538.67 L297.00,539.57 L298.05,540.52 L299.10,541.52 L300.14,542.57 L301.19,543.66 L302.23,544.78 L303.28,545.93 L304.32,547.11 L305.37,548.30 L306.41,549.49 L307.45,550.69 L308.50,551.88 L309.55,553.06 L310.59,554.21 L311.64,555.33 L312.68,556.42 L313.73,557.47 L314.77,558.47 L315.82,559.42 L316.86,560.32 L317.91,561.17 L318.95,561.97 L320.00,562.71 L321.04,563.40 L322.09,564.04 L323.13,564.64 L324.18,565.18 L325.22,565.68 L326.27,566.13 L327.31,566.55 L328.36,566.93 L329.40,567.27 L330.45,567.58 L331.49,567.86 L332.54,568.12 L333.58,568.35 L334.62,568.56 L335.67,568.74 L336.72,568.91 L337.76,569.06 L338.81,569.20 L339.85,569.32 L340.90,569.43 L341.94,569.52 L342.99,569.61 L344.03,569.69 L345.08,569.76 L346.12,569.82 L347.17,569.88 L348.21,569.93 L349.26,569.97 L350.30,570.01" fill="none" stroke="#2e49a4" stroke-width="0.9" stroke-linejoin="round"/>
<line x1="287.60" y1="532.76" x2="287.60" y2="533.86" stroke="#2e49a4" stroke-width="0.45"/>
<circle cx="287.60" cy="533.31" r="0.85" fill="#2e49a4" stroke="#fff" stroke-width="0.15"/>
<line x1="298.05" y1="539.22" x2="298.05" y2="541.82" stroke="#2e49a4" stroke-width="0.45"/>
<circle cx="298.05" cy="540.52" r="0.85" fill="#2e49a4" stroke="#fff" stroke-width="0.15"/>
<line x1="308.50" y1="550.47" x2="308.50" y2="553.30" stroke="#2e49a4" stroke-width="0.45"/>
<circle cx="308.50" cy="551.88" r="0.85" fill="#2e49a4" stroke="#fff" stroke-width="0.15"/>
<line x1="318.95" y1="560.78" x2="318.95" y2="563.16" stroke="#2e49a4" stroke-width="0.45"/>
<circle cx="318.95" cy="561.97" r="0.85" fill="#2e49a4" stroke="#fff" stroke-width="0.15"/>
<line x1="329.40" y1="565.72" x2="329.40" y2="568.82" stroke="#2e49a4" stroke-width="0.45"/>
<circle cx="329.40" cy="567.27" r="0.85" fill="#2e49a4" stroke="#fff" stroke-width="0.15"/>
<line x1="339.85" y1="568.44" x2="339.85" y2="570.19" stroke="#2e49a4" stroke-width="0.45"/>
<circle cx="339.85" cy="569.32" r="0.85" fill="#2e49a4" stroke="#fff" stroke-width="0.15"/>
<line x1="350.30" y1="568.68" x2="350.30" y2="571.34" stroke="#2e49a4" stroke-width="0.45"/>
<circle cx="350.30" cy="570.01" r="0.85" fill="#2e49a4" stroke="#fff" stroke-width="0.15"/>
<path d="M287.60,529.30 L288.65,529.45 L289.69,529.64 L290.74,529.87 L291.78,530.15 L292.83,530.49 L293.87,530.91 L294.92,531.42 L295.96,532.04 L297.00,532.77 L298.05,533.64 L299.10,534.68 L300.14,535.88 L301.19,537.27 L302.23,538.85 L303.28,540.62 L304.32,542.57 L305.37,544.68 L306.41,546.91 L307.45,549.22 L308.50,551.55 L309.55,553.85 L310.59,556.08 L311.64,558.19 L312.68,560.14 L313.73,561.91 L314.77,563.49 L315.82,564.88 L316.86,566.09 L317.91,567.12 L318.95,567.99 L320.00,568.73 L321.04,569.34 L322.09,569.85 L323.13,570.27 L324.18,570.61 L325.22,570.89 L326.27,571.12 L327.31,571.31 L328.36,571.46 L329.40,571.59 L330.45,571.69 L331.49,571.77 L332.54,571.84 L333.58,571.89 L334.62,571.93 L335.67,571.97 L336.72,572.00 L337.76,572.02 L338.81,572.04 L339.85,572.05 L340.90,572.06 L341.94,572.07 L342.99,572.08 L344.03,572.09 L345.08,572.09 L346.12,572.10 L347.17,572.10 L348.21,572.10 L349.26,572.10 L350.30,572.11" fill="none" stroke="#2e49a4" stroke-width="0.9" stroke-linejoin="round"/>
<line x1="287.60" y1="528.08" x2="287.60" y2="530.51" stroke="#2e49a4" stroke-width="0.45"/>
<circle cx="287.60" cy="529.30" r="0.85" fill="#2e49a4" stroke="#fff" stroke-width="0.15"/>
<line x1="298.05" y1="532.45" x2="298.05" y2="534.84" stroke="#2e49a4" stroke-width="0.45"/>
<circle cx="298.05" cy="533.64" r="0.85" fill="#2e49a4" stroke="#fff" stroke-width="0.15"/>
<line x1="308.50" y1="550.50" x2="308.50" y2="552.60" stroke="#2e49a4" stroke-width="0.45"/>
<circle cx="308.50" cy="551.55" r="0.85" fill="#2e49a4" stroke="#fff" stroke-width="0.15"/>
<line x1="318.95" y1="566.49" x2="318.95" y2="569.50" stroke="#2e49a4" stroke-width="0.45"/>
<circle cx="318.95" cy="567.99" r="0.85" fill="#2e49a4" stroke="#fff" stroke-width="0.15"/>
<line x1="329.40" y1="569.96" x2="329.40" y2="573.22" stroke="#2e49a4" stroke-width="0.45"/>
<circle cx="329.40" cy="571.59" r="0.85" fill="#2e49a4" stroke="#fff" stroke-width="0.15"/>
<line x1="339.85" y1="570.98" x2="339.85" y2="573.12" stroke="#2e49a4" stroke-width="0.45"/>
<circle cx="339.85" cy="572.05" r="0.85" fill="#2e49a4" stroke="#fff" stroke-width="0.15"/>
<line x1="350.30" y1="570.81" x2="350.30" y2="573.40" stroke="#2e49a4" stroke-width="0.45"/>
<circle cx="350.30" cy="572.11" r="0.85" fill="#2e49a4" stroke="#fff" stroke-width="0.15"/>
<path d="M287.60,530.28 L288.65,530.54 L289.69,530.84 L290.74,531.18 L291.78,531.57 L292.83,532.01 L293.87,532.52 L294.92,533.10 L295.96,533.75 L297.00,534.47 L298.05,535.29 L299.10,536.20 L300.14,537.20 L301.19,538.29 L302.23,539.49 L303.28,540.77 L304.32,542.15 L305.37,543.60 L306.41,545.12 L307.45,546.70 L308.50,548.31 L309.55,549.94 L310.59,551.57 L311.64,553.18 L312.68,554.75 L313.73,556.28 L314.77,557.73 L315.82,559.10 L316.86,560.39 L317.91,561.58 L318.95,562.68 L320.00,563.68 L321.04,564.59 L322.09,565.40 L323.13,566.13 L324.18,566.78 L325.22,567.36 L326.27,567.86 L327.31,568.31 L328.36,568.70 L329.40,569.04 L330.45,569.34 L331.49,569.60 L332.54,569.82 L333.58,570.01 L334.62,570.18 L335.67,570.33 L336.72,570.45 L337.76,570.56 L338.81,570.66 L339.85,570.74 L340.90,570.80 L341.94,570.86 L342.99,570.92 L344.03,570.96 L345.08,571.00 L346.12,571.03 L347.17,571.06 L348.21,571.08 L349.26,571.10 L350.30,571.12" fill="none" stroke="#2e49a4" stroke-width="0.9" stroke-linejoin="round"/>
<line x1="287.60" y1="529.71" x2="287.60" y2="530.85" stroke="#2e49a4" stroke-width="0.45"/>
<circle cx="287.60" cy="530.28" r="0.85" fill="#2e49a4" stroke="#fff" stroke-width="0.15"/>
<line x1="298.05" y1="533.95" x2="298.05" y2="536.63" stroke="#2e49a4" stroke-width="0.45"/>
<circle cx="298.05" cy="535.29" r="0.85" fill="#2e49a4" stroke="#fff" stroke-width="0.15"/>
<line x1="308.50" y1="547.03" x2="308.50" y2="549.58" stroke="#2e49a4" stroke-width="0.45"/>
<circle cx="308.50" cy="548.31" r="0.85" fill="#2e49a4" stroke="#fff" stroke-width="0.15"/>
<line x1="318.95" y1="560.99" x2="318.95" y2="564.37" stroke="#2e49a4" stroke-width="0.45"/>
<circle cx="318.95" cy="562.68" r="0.85" fill="#2e49a4" stroke="#fff" stroke-width="0.15"/>
<line x1="329.40" y1="567.55" x2="329.40" y2="570.53" stroke="#2e49a4" stroke-width="0.45"/>
<circle cx="329.40" cy="569.04" r="0.85" fill="#2e49a4" stroke="#fff" stroke-width="0.15"/>
<line x1="339.85" y1="569.89" x2="339.85" y2="571.58" stroke="#2e49a4" stroke-width="0.45"/>
<circle cx="339.85" cy="570.74" r="0.85" fill="#2e49a4" stroke="#fff" stroke-width="0.15"/>
<line x1="350.30" y1="570.16" x2="350.30" y2="572.08" stroke="#2e49a4" stroke-width="0.45"/>
<circle cx="350.30" cy="571.12" r="0.85" fill="#2e49a4" stroke="#fff" stroke-width="0.15"/>
<path d="M287.60,531.99 L288.65,532.33 L289.69,532.71 L290.74,533.12 L291.78,533.57 L292.83,534.05 L293.87,534.57 L294.92,535.14 L295.96,535.75 L297.00,536.40 L298.05,537.10 L299.10,537.84 L300.14,538.63 L301.19,539.46 L302.23,540.33 L303.28,541.25 L304.32,542.20 L305.37,543.19 L306.41,544.21 L307.45,545.26 L308.50,546.33 L309.55,547.41 L310.59,548.50 L311.64,549.60 L312.68,550.69 L313.73,551.77 L314.77,552.84 L315.82,553.89 L316.86,554.91 L317.91,555.90 L318.95,556.85 L320.00,557.77 L321.04,558.64 L322.09,559.48 L323.13,560.26 L324.18,561.01 L325.22,561.70 L326.27,562.36 L327.31,562.96 L328.36,563.53 L329.40,564.05 L330.45,564.54 L331.49,564.98 L332.54,565.39 L333.58,565.77 L334.62,566.11 L335.67,566.43 L336.72,566.72 L337.76,566.98 L338.81,567.22 L339.85,567.43 L340.90,567.63 L341.94,567.81 L342.99,567.97 L344.03,568.11 L345.08,568.25 L346.12,568.37 L347.17,568.47 L348.21,568.57 L349.26,568.66 L350.30,568.74" fill="none" stroke="#2e49a4" stroke-width="0.9" stroke-linejoin="round"/>
<line x1="287.60" y1="530.69" x2="287.60" y2="533.29" stroke="#2e49a4" stroke-width="0.45"/>
<circle cx="287.60" cy="531.99" r="0.85" fill="#2e49a4" stroke="#fff" stroke-width="0.15"/>
<line x1="298.05" y1="536.57" x2="298.05" y2="537.62" stroke="#2e49a4" stroke-width="0.45"/>
<circle cx="298.05" cy="537.10" r="0.85" fill="#2e49a4" stroke="#fff" stroke-width="0.15"/>
<line x1="308.50" y1="545.27" x2="308.50" y2="547.38" stroke="#2e49a4" stroke-width="0.45"/>
<circle cx="308.50" cy="546.33" r="0.85" fill="#2e49a4" stroke="#fff" stroke-width="0.15"/>
<line x1="318.95" y1="556.15" x2="318.95" y2="557.56" stroke="#2e49a4" stroke-width="0.45"/>
<circle cx="318.95" cy="556.85" r="0.85" fill="#2e49a4" stroke="#fff" stroke-width="0.15"/>
<line x1="329.40" y1="563.41" x2="329.40" y2="564.69" stroke="#2e49a4" stroke-width="0.45"/>
<circle cx="329.40" cy="564.05" r="0.85" fill="#2e49a4" stroke="#fff" stroke-width="0.15"/>
<line x1="339.85" y1="566.86" x2="339.85" y2="568.00" stroke="#2e49a4" stroke-width="0.45"/>
<circle cx="339.85" cy="567.43" r="0.85" fill="#2e49a4" stroke="#fff" stroke-width="0.15"/>
<line x1="350.30" y1="567.32" x2="350.30" y2="570.16" stroke="#2e49a4" stroke-width="0.45"/>
<circle cx="350.30" cy="568.74" r="0.85" fill="#2e49a4" stroke="#fff" stroke-width="0.15"/>
<path d="M287.60,528.72 L288.65,528.74 L289.69,528.77 L290.74,528.81 L291.78,528.85 L292.83,528.91 L293.87,529.00 L294.92,529.10 L295.96,529.24 L297.00,529.42 L298.05,529.65 L299.10,529.95 L300.14,530.33 L301.19,530.82 L302.23,531.45 L303.28,532.24 L304.32,533.23 L305.37,534.46 L306.41,535.95 L307.45,537.74 L308.50,539.83 L309.55,542.21 L310.59,544.84 L311.64,547.67 L312.68,550.60 L313.73,553.53 L314.77,556.36 L315.82,559.00 L316.86,561.38 L317.91,563.47 L318.95,565.25 L320.00,566.75 L321.04,567.97 L322.09,568.96 L323.13,569.76 L324.18,570.38 L325.22,570.88 L326.27,571.26 L327.31,571.56 L328.36,571.79 L329.40,571.97 L330.45,572.10 L331.49,572.21 L332.54,572.29 L333.58,572.35 L334.62,572.40 L335.67,572.44 L336.72,572.47 L337.76,572.49 L338.81,572.50 L339.85,572.52 L340.90,572.53 L341.94,572.53 L342.99,572.54 L344.03,572.54 L345.08,572.55 L346.12,572.55 L347.17,572.55 L348.21,572.55 L349.26,572.55 L350.30,572.55" fill="none" stroke="#2e49a4" stroke-width="0.9" stroke-linejoin="round"/>
<line x1="287.60" y1="528.06" x2="287.60" y2="529.37" stroke="#2e49a4" stroke-width="0.45"/>
<circle cx="287.60" cy="528.72" r="0.85" fill="#2e49a4" stroke="#fff" stroke-width="0.15"/>
<line x1="298.05" y1="528.85" x2="298.05" y2="530.45" stroke="#2e49a4" stroke-width="0.45"/>
<circle cx="298.05" cy="529.65" r="0.85" fill="#2e49a4" stroke="#fff" stroke-width="0.15"/>
<line x1="308.50" y1="538.86" x2="308.50" y2="540.80" stroke="#2e49a4" stroke-width="0.45"/>
<circle cx="308.50" cy="539.83" r="0.85" fill="#2e49a4" stroke="#fff" stroke-width="0.15"/>
<line x1="318.95" y1="563.71" x2="318.95" y2="566.80" stroke="#2e49a4" stroke-width="0.45"/>
<circle cx="318.95" cy="565.25" r="0.85" fill="#2e49a4" stroke="#fff" stroke-width="0.15"/>
<line x1="329.40" y1="571.37" x2="329.40" y2="572.56" stroke="#2e49a4" stroke-width="0.45"/>
<circle cx="329.40" cy="571.97" r="0.85" fill="#2e49a4" stroke="#fff" stroke-width="0.15"/>
<line x1="339.85" y1="571.48" x2="339.85" y2="573.55" stroke="#2e49a4" stroke-width="0.45"/>
<circle cx="339.85" cy="572.52" r="0.85" fill="#2e49a4" stroke="#fff" stroke-width="0.15"/>
<line x1="350.30" y1="571.39" x2="350.30" y2="573.71" stroke="#2e49a4" stroke-width="0.45"/>
<circle cx="350.30" cy="572.55" r="0.85" fill="#2e49a4" stroke="#fff" stroke-width="0.15"/>
<path d="M287.60,528.65 L288.65,528.65 L289.69,528.66 L290.74,528.66 L291.78,528.66 L292.83,528.67 L293.87,528.67 L294.92,528.69 L295.96,528.70 L297.00,528.73 L298.05,528.76 L299.10,528.82 L300.14,528.90 L301.19,529.01 L302.23,529.18 L303.28,529.42 L304.32,529.77 L305.37,530.27 L306.41,530.99 L307.45,532.00 L308.50,533.39 L309.55,535.28 L310.59,537.74 L311.64,540.81 L312.68,544.45 L313.73,548.50 L314.77,552.70 L315.82,556.75 L316.86,560.39 L317.91,563.47 L318.95,565.93 L320.00,567.81 L321.04,569.21 L322.09,570.22 L323.13,570.94 L324.18,571.44 L325.22,571.79 L326.27,572.03 L327.31,572.20 L328.36,572.31 L329.40,572.39 L330.45,572.44 L331.49,572.48 L332.54,572.50 L333.58,572.52 L334.62,572.53 L335.67,572.54 L336.72,572.55 L337.76,572.55 L338.81,572.55 L339.85,572.55 L340.90,572.55 L341.94,572.55 L342.99,572.56 L344.03,572.56 L345.08,572.56 L346.12,572.56 L347.17,572.56 L348.21,572.56 L349.26,572.56 L350.30,572.56" fill="none" stroke="#2e49a4" stroke-width="0.9" stroke-linejoin="round"/>
<line x1="287.60" y1="527.09" x2="287.60" y2="530.21" stroke="#2e49a4" stroke-width="0.45"/>
<circle cx="287.60" cy="528.65" r="0.85" fill="#2e49a4" stroke="#fff" stroke-width="0.15"/>
<line x1="298.05" y1="527.28" x2="298.05" y2="530.25" stroke="#2e49a4" stroke-width="0.45"/>
<circle cx="298.05" cy="528.76" r="0.85" fill="#2e49a4" stroke="#fff" stroke-width="0.15"/>
<line x1="308.50" y1="531.86" x2="308.50" y2="534.93" stroke="#2e49a4" stroke-width="0.45"/>
<circle cx="308.50" cy="533.39" r="0.85" fill="#2e49a4" stroke="#fff" stroke-width="0.15"/>
<line x1="318.95" y1="565.09" x2="318.95" y2="566.76" stroke="#2e49a4" stroke-width="0.45"/>
<circle cx="318.95" cy="565.93" r="0.85" fill="#2e49a4" stroke="#fff" stroke-width="0.15"/>
<line x1="329.40" y1="571.39" x2="329.40" y2="573.39" stroke="#2e49a4" stroke-width="0.45"/>
<circle cx="329.40" cy="572.39" r="0.85" fill="#2e49a4" stroke="#fff" stroke-width="0.15"/>
<line x1="339.85" y1="571.62" x2="339.85" y2="573.48" stroke="#2e49a4" stroke-width="0.45"/>
<circle cx="339.85" cy="572.55" r="0.85" fill="#2e49a4" stroke="#fff" stroke-width="0.15"/>
<line x1="350.30" y1="571.00" x2="350.30" y2="574.12" stroke="#2e49a4" stroke-width="0.45"/>
<circle cx="350.30" cy="572.56" r="0.85" fill="#2e49a4" stroke="#fff" stroke-width="0.15"/>
<path d="M287.60,529.10 L288.65,529.18 L289.69,529.27 L290.74,529.38 L291.78,529.52 L292.83,529.67 L293.87,529.86 L294.92,530.07 L295.96,530.32 L297.00,530.61 L298.05,530.96 L299.10,531.35 L300.14,531.82 L301.19,532.35 L302.23,532.96 L303.28,533.66 L304.32,534.46 L305.37,535.36 L306.41,536.37 L307.45,537.50 L308.50,538.75 L309.55,540.11 L310.59,541.58 L311.64,543.16 L312.68,544.83 L313.73,546.56 L314.77,548.35 L315.82,550.16 L316.86,551.97 L317.91,553.76 L318.95,555.49 L320.00,557.16 L321.04,558.74 L322.09,560.21 L323.13,561.57 L324.18,562.82 L325.22,563.95 L326.27,564.96 L327.31,565.86 L328.36,566.66 L329.40,567.36 L330.45,567.97 L331.49,568.50 L332.54,568.96 L333.58,569.36 L334.62,569.70 L335.67,570.00 L336.72,570.25 L337.76,570.46 L338.81,570.65 L339.85,570.80 L340.90,570.93 L341.94,571.05 L342.99,571.14 L344.03,571.22 L345.08,571.29 L346.12,571.35 L347.17,571.40 L348.21,571.44 L349.26,571.48 L350.30,571.51" fill="none" stroke="#2e49a4" stroke-width="0.9" stroke-linejoin="round"/>
<line x1="287.60" y1="527.45" x2="287.60" y2="530.75" stroke="#2e49a4" stroke-width="0.45"/>
<circle cx="287.60" cy="529.10" r="0.85" fill="#2e49a4" stroke="#fff" stroke-width="0.15"/>
<line x1="298.05" y1="530.28" x2="298.05" y2="531.64" stroke="#2e49a4" stroke-width="0.45"/>
<circle cx="298.05" cy="530.96" r="0.85" fill="#2e49a4" stroke="#fff" stroke-width="0.15"/>
<line x1="308.50" y1="538.03" x2="308.50" y2="539.46" stroke="#2e49a4" stroke-width="0.45"/>
<circle cx="308.50" cy="538.75" r="0.85" fill="#2e49a4" stroke="#fff" stroke-width="0.15"/>
<line x1="318.95" y1="554.72" x2="318.95" y2="556.27" stroke="#2e49a4" stroke-width="0.45"/>
<circle cx="318.95" cy="555.49" r="0.85" fill="#2e49a4" stroke="#fff" stroke-width="0.15"/>
<line x1="329.40" y1="566.58" x2="329.40" y2="568.14" stroke="#2e49a4" stroke-width="0.45"/>
<circle cx="329.40" cy="567.36" r="0.85" fill="#2e49a4" stroke="#fff" stroke-width="0.15"/>
<line x1="339.85" y1="569.72" x2="339.85" y2="571.88" stroke="#2e49a4" stroke-width="0.45"/>
<circle cx="339.85" cy="570.80" r="0.85" fill="#2e49a4" stroke="#fff" stroke-width="0.15"/>
<line x1="350.30" y1="570.30" x2="350.30" y2="572.71" stroke="#2e49a4" stroke-width="0.45"/>
<circle cx="350.30" cy="571.51" r="0.85" fill="#2e49a4" stroke="#fff" stroke-width="0.15"/>
<path d="M287.60,530.16 L288.65,530.34 L289.69,530.53 L290.74,530.75 L291.78,530.99 L292.83,531.26 L293.87,531.56 L294.92,531.89 L295.96,532.25 L297.00,532.64 L298.05,533.08 L299.10,533.56 L300.14,534.08 L301.19,534.64 L302.23,535.26 L303.28,535.92 L304.32,536.64 L305.37,537.41 L306.41,538.23 L307.45,539.11 L308.50,540.04 L309.55,541.02 L310.59,542.04 L311.64,543.11 L312.68,544.21 L313.73,545.35 L314.77,546.52 L315.82,547.70 L316.86,548.89 L317.91,550.09 L318.95,551.29 L320.00,552.47 L321.04,553.64 L322.09,554.78 L323.13,555.88 L324.18,556.95 L325.22,557.97 L326.27,558.95 L327.31,559.88 L328.36,560.75 L329.40,561.58 L330.45,562.35 L331.49,563.07 L332.54,563.73 L333.58,564.35 L334.62,564.91 L335.67,565.43 L336.72,565.91 L337.76,566.35 L338.81,566.74 L339.85,567.10 L340.90,567.43 L341.94,567.73 L342.99,568.00 L344.03,568.24 L345.08,568.46 L346.12,568.65 L347.17,568.83 L348.21,568.99 L349.26,569.13 L350.30,569.26" fill="none" stroke="#2e49a4" stroke-width="0.9" stroke-linejoin="round"/>
<line x1="287.60" y1="529.34" x2="287.60" y2="530.98" stroke="#2e49a4" stroke-width="0.45"/>
<circle cx="287.60" cy="530.16" r="0.85" fill="#2e49a4" stroke="#fff" stroke-width="0.15"/>
<line x1="298.05" y1="532.57" x2="298.05" y2="533.58" stroke="#2e49a4" stroke-width="0.45"/>
<circle cx="298.05" cy="533.08" r="0.85" fill="#2e49a4" stroke="#fff" stroke-width="0.15"/>
<line x1="308.50" y1="539.04" x2="308.50" y2="541.04" stroke="#2e49a4" stroke-width="0.45"/>
<circle cx="308.50" cy="540.04" r="0.85" fill="#2e49a4" stroke="#fff" stroke-width="0.15"/>
<line x1="318.95" y1="550.35" x2="318.95" y2="552.23" stroke="#2e49a4" stroke-width="0.45"/>
<circle cx="318.95" cy="551.29" r="0.85" fill="#2e49a4" stroke="#fff" stroke-width="0.15"/>
<line x1="329.40" y1="560.40" x2="329.40" y2="562.76" stroke="#2e49a4" stroke-width="0.45"/>
<circle cx="329.40" cy="561.58" r="0.85" fill="#2e49a4" stroke="#fff" stroke-width="0.15"/>
<line x1="339.85" y1="565.46" x2="339.85" y2="568.75" stroke="#2e49a4" stroke-width="0.45"/>
<circle cx="339.85" cy="567.10" r="0.85" fill="#2e49a4" stroke="#fff" stroke-width="0.15"/>
<line x1="350.30" y1="567.93" x2="350.30" y2="570.59" stroke="#2e49a4" stroke-width="0.45"/>
<circle cx="350.30" cy="569.26" r="0.85" fill="#2e49a4" stroke="#fff" stroke-width="0.15"/>
<path d="M287.60,538.69 L288.65,539.40 L289.69,540.14 L290.74,540.91 L291.78,541.71 L292.83,542.54 L293.87,543.39 L294.92,544.26 L295.96,545.15 L297.00,546.06 L298.05,546.98 L299.10,547.90 L300.14,548.83 L301.19,549.76 L302.23,550.68 L303.28,551.60 L304.32,552.50 L305.37,553.40 L306.41,554.27 L307.45,555.12 L308.50,555.94 L309.55,556.74 L310.59,557.52 L311.64,558.26 L312.68,558.97 L313.73,559.65 L314.77,560.29 L315.82,560.91 L316.86,561.49 L317.91,562.03 L318.95,562.55 L320.00,563.03 L321.04,563.49 L322.09,563.91 L323.13,564.31 L324.18,564.68 L325.22,565.02 L326.27,565.34 L327.31,565.64 L328.36,565.91 L329.40,566.16 L330.45,566.40 L331.49,566.61 L332.54,566.81 L333.58,567.00 L334.62,567.17 L335.67,567.32 L336.72,567.46 L337.76,567.59 L338.81,567.71 L339.85,567.83 L340.90,567.93 L341.94,568.02 L342.99,568.10 L344.03,568.18 L345.08,568.25 L346.12,568.32 L347.17,568.38 L348.21,568.43 L349.26,568.48 L350.30,568.53" fill="none" stroke="#2e49a4" stroke-width="0.9" stroke-linejoin="round"/>
<line x1="287.60" y1="537.57" x2="287.60" y2="539.81" stroke="#2e49a4" stroke-width="0.45"/>
<circle cx="287.60" cy="538.69" r="0.85" fill="#2e49a4" stroke="#fff" stroke-width="0.15"/>
<line x1="298.05" y1="545.73" x2="298.05" y2="548.22" stroke="#2e49a4" stroke-width="0.45"/>
<circle cx="298.05" cy="546.98" r="0.85" fill="#2e49a4" stroke="#fff" stroke-width="0.15"/>
<line x1="308.50" y1="554.63" x2="308.50" y2="557.26" stroke="#2e49a4" stroke-width="0.45"/>
<circle cx="308.50" cy="555.94" r="0.85" fill="#2e49a4" stroke="#fff" stroke-width="0.15"/>
<line x1="318.95" y1="561.98" x2="318.95" y2="563.11" stroke="#2e49a4" stroke-width="0.45"/>
<circle cx="318.95" cy="562.55" r="0.85" fill="#2e49a4" stroke="#fff" stroke-width="0.15"/>
<line x1="329.40" y1="564.58" x2="329.40" y2="567.74" stroke="#2e49a4" stroke-width="0.45"/>
<circle cx="329.40" cy="566.16" r="0.85" fill="#2e49a4" stroke="#fff" stroke-width="0.15"/>
<line x1="339.85" y1="566.39" x2="339.85" y2="569.26" stroke="#2e49a4" stroke-width="0.45"/>
<circle cx="339.85" cy="567.83" r="0.85" fill="#2e49a4" stroke="#fff" stroke-width="0.15"/>
<line x1="350.30" y1="566.98" x2="350.30" y2="570.08" stroke="#2e49a4" stroke-width="0.45"/>
<circle cx="350.30" cy="568.53" r="0.85" fill="#2e49a4" stroke="#fff" stroke-width="0.15"/>
<path d="M287.60,528.80 L288.65,528.82 L289.69,528.84 L290.74,528.87 L291.78,528.89 L292.83,528.93 L293.87,528.96 L294.92,529.00 L295.96,529.05 L297.00,529.10 L298.05,529.16 L299.10,529.22 L300.14,529.29 L301.19,529.38 L302.23,529.47 L303.28,529.57 L304.32,529.69 L305.37,529.82 L306.41,529.97 L307.45,530.14 L308.50,530.32 L309.55,530.53 L310.59,530.76 L311.64,531.02 L312.68,531.31 L313.73,531.63 L314.77,531.98 L315.82,532.38 L316.86,532.81 L317.91,533.28 L318.95,533.81 L320.00,534.38 L321.04,535.00 L322.09,535.68 L323.13,536.41 L324.18,537.19 L325.22,538.03 L326.27,538.92 L327.31,539.86 L328.36,540.85 L329.40,541.89 L330.45,542.96 L331.49,544.07 L332.54,545.20 L333.58,546.34 L334.62,547.50 L335.67,548.65 L336.72,549.80 L337.76,550.93 L338.81,552.04 L339.85,553.11 L340.90,554.14 L341.94,555.14 L342.99,556.08 L344.03,556.97 L345.08,557.81 L346.12,558.59 L347.17,559.32 L348.21,560.00 L349.26,560.62 L350.30,561.19" fill="none" stroke="#e8262a" stroke-width="0.9" stroke-linejoin="round"/>
<line x1="287.60" y1="528.20" x2="287.60" y2="529.40" stroke="#e8262a" stroke-width="0.45"/>
<circle cx="287.60" cy="528.80" r="0.85" fill="#e8262a"/>
<line x1="298.05" y1="522.58" x2="298.05" y2="530.16" stroke="#e8262a" stroke-width="0.5"/>
<circle cx="298.05" cy="529.16" r="0.85" fill="#e8262a"/>
<line x1="308.50" y1="525.81" x2="308.50" y2="531.32" stroke="#e8262a" stroke-width="0.5"/>
<circle cx="308.50" cy="530.32" r="0.85" fill="#e8262a"/>
<line x1="318.95" y1="527.59" x2="318.95" y2="534.81" stroke="#e8262a" stroke-width="0.5"/>
<circle cx="318.95" cy="533.81" r="0.85" fill="#e8262a"/>
<line x1="329.40" y1="536.64" x2="329.40" y2="542.89" stroke="#e8262a" stroke-width="0.5"/>
<circle cx="329.40" cy="541.89" r="0.85" fill="#e8262a"/>
<line x1="339.85" y1="551.62" x2="339.85" y2="554.60" stroke="#e8262a" stroke-width="0.45"/>
<circle cx="339.85" cy="553.11" r="0.85" fill="#e8262a"/>
<line x1="350.30" y1="559.17" x2="350.30" y2="563.21" stroke="#e8262a" stroke-width="0.45"/>
<circle cx="350.30" cy="561.19" r="0.85" fill="#e8262a"/>
<path d="M287.60,528.69 L288.65,528.70 L289.69,528.71 L290.74,528.71 L291.78,528.72 L292.83,528.74 L293.87,528.75 L294.92,528.76 L295.96,528.78 L297.00,528.80 L298.05,528.82 L299.10,528.84 L300.14,528.87 L301.19,528.91 L302.23,528.94 L303.28,528.99 L304.32,529.04 L305.37,529.09 L306.41,529.16 L307.45,529.23 L308.50,529.32 L309.55,529.41 L310.59,529.52 L311.64,529.65 L312.68,529.79 L313.73,529.96 L314.77,530.14 L315.82,530.36 L316.86,530.60 L317.91,530.87 L318.95,531.18 L320.00,531.53 L321.04,531.92 L322.09,532.36 L323.13,532.85 L324.18,533.39 L325.22,534.00 L326.27,534.68 L327.31,535.42 L328.36,536.23 L329.40,537.11 L330.45,538.07 L331.49,539.10 L332.54,540.20 L333.58,541.37 L334.62,542.60 L335.67,543.87 L336.72,545.19 L337.76,546.55 L338.81,547.92 L339.85,549.30 L340.90,550.67 L341.94,552.02 L342.99,553.34 L344.03,554.62 L345.08,555.84 L346.12,557.01 L347.17,558.11 L348.21,559.14 L349.26,560.10 L350.30,560.98" fill="none" stroke="#e8262a" stroke-width="0.9" stroke-linejoin="round"/>
<line x1="287.60" y1="528.09" x2="287.60" y2="529.29" stroke="#e8262a" stroke-width="0.45"/>
<circle cx="287.60" cy="528.69" r="0.85" fill="#e8262a"/>
<line x1="298.05" y1="525.66" x2="298.05" y2="529.82" stroke="#e8262a" stroke-width="0.5"/>
<circle cx="298.05" cy="528.82" r="0.85" fill="#e8262a"/>
<line x1="308.50" y1="525.56" x2="308.50" y2="530.32" stroke="#e8262a" stroke-width="0.5"/>
<circle cx="308.50" cy="529.32" r="0.85" fill="#e8262a"/>
<line x1="318.95" y1="525.96" x2="318.95" y2="532.18" stroke="#e8262a" stroke-width="0.5"/>
<circle cx="318.95" cy="531.18" r="0.85" fill="#e8262a"/>
<line x1="329.40" y1="527.42" x2="329.40" y2="538.11" stroke="#e8262a" stroke-width="0.5"/>
<circle cx="329.40" cy="537.11" r="0.85" fill="#e8262a"/>
<line x1="339.85" y1="547.85" x2="339.85" y2="550.74" stroke="#e8262a" stroke-width="0.45"/>
<circle cx="339.85" cy="549.30" r="0.85" fill="#e8262a"/>
<line x1="350.30" y1="559.23" x2="350.30" y2="562.74" stroke="#e8262a" stroke-width="0.45"/>
<circle cx="350.30" cy="560.98" r="0.85" fill="#e8262a"/>
<path d="M287.60,528.74 L288.65,528.76 L289.69,528.77 L290.74,528.78 L291.78,528.80 L292.83,528.82 L293.87,528.84 L294.92,528.86 L295.96,528.89 L297.00,528.91 L298.05,528.95 L299.10,528.98 L300.14,529.02 L301.19,529.07 L302.23,529.12 L303.28,529.18 L304.32,529.24 L305.37,529.31 L306.41,529.39 L307.45,529.48 L308.50,529.57 L309.55,529.68 L310.59,529.81 L311.64,529.94 L312.68,530.10 L313.73,530.27 L314.77,530.45 L315.82,530.66 L316.86,530.89 L317.91,531.15 L318.95,531.43 L320.00,531.75 L321.04,532.09 L322.09,532.47 L323.13,532.89 L324.18,533.35 L325.22,533.84 L326.27,534.39 L327.31,534.98 L328.36,535.61 L329.40,536.30 L330.45,537.04 L331.49,537.83 L332.54,538.67 L333.58,539.55 L334.62,540.49 L335.67,541.47 L336.72,542.49 L337.76,543.55 L338.81,544.64 L339.85,545.76 L340.90,546.89 L341.94,548.03 L342.99,549.18 L344.03,550.33 L345.08,551.46 L346.12,552.57 L347.17,553.66 L348.21,554.72 L349.26,555.74 L350.30,556.73" fill="none" stroke="#e8262a" stroke-width="0.9" stroke-linejoin="round"/>
<line x1="287.60" y1="528.14" x2="287.60" y2="529.34" stroke="#e8262a" stroke-width="0.45"/>
<circle cx="287.60" cy="528.74" r="0.85" fill="#e8262a"/>
<line x1="298.05" y1="523.81" x2="298.05" y2="529.95" stroke="#e8262a" stroke-width="0.5"/>
<circle cx="298.05" cy="528.95" r="0.85" fill="#e8262a"/>
<line x1="308.50" y1="523.66" x2="308.50" y2="530.57" stroke="#e8262a" stroke-width="0.5"/>
<circle cx="308.50" cy="529.57" r="0.85" fill="#e8262a"/>
<line x1="318.95" y1="522.13" x2="318.95" y2="532.43" stroke="#e8262a" stroke-width="0.5"/>
<circle cx="318.95" cy="531.43" r="0.85" fill="#e8262a"/>
<line x1="329.40" y1="530.42" x2="329.40" y2="537.30" stroke="#e8262a" stroke-width="0.5"/>
<circle cx="329.40" cy="536.30" r="0.85" fill="#e8262a"/>
<line x1="339.85" y1="544.45" x2="339.85" y2="547.06" stroke="#e8262a" stroke-width="0.45"/>
<circle cx="339.85" cy="545.76" r="0.85" fill="#e8262a"/>
<line x1="350.30" y1="554.70" x2="350.30" y2="558.75" stroke="#e8262a" stroke-width="0.45"/>
<circle cx="350.30" cy="556.73" r="0.85" fill="#e8262a"/>
<path d="M287.60,528.66 L288.65,528.66 L289.69,528.66 L290.74,528.66 L291.78,528.67 L292.83,528.67 L293.87,528.67 L294.92,528.67 L295.96,528.68 L297.00,528.68 L298.05,528.69 L299.10,528.70 L300.14,528.70 L301.19,528.71 L302.23,528.72 L303.28,528.73 L304.32,528.75 L305.37,528.76 L306.41,528.78 L307.45,528.80 L308.50,528.83 L309.55,528.86 L310.59,528.89 L311.64,528.94 L312.68,528.98 L313.73,529.04 L314.77,529.10 L315.82,529.17 L316.86,529.26 L317.91,529.36 L318.95,529.47 L320.00,529.61 L321.04,529.76 L322.09,529.94 L323.13,530.15 L324.18,530.39 L325.22,530.66 L326.27,530.98 L327.31,531.34 L328.36,531.75 L329.40,532.22 L330.45,532.76 L331.49,533.36 L332.54,534.04 L333.58,534.81 L334.62,535.66 L335.67,536.60 L336.72,537.64 L337.76,538.77 L338.81,540.00 L339.85,541.32 L340.90,542.72 L341.94,544.19 L342.99,545.72 L344.03,547.30 L345.08,548.91 L346.12,550.52 L347.17,552.13 L348.21,553.71 L349.26,555.24 L350.30,556.72" fill="none" stroke="#e8262a" stroke-width="0.9" stroke-linejoin="round"/>
<line x1="287.60" y1="528.06" x2="287.60" y2="529.26" stroke="#e8262a" stroke-width="0.45"/>
<circle cx="287.60" cy="528.66" r="0.85" fill="#e8262a"/>
<line x1="298.05" y1="522.41" x2="298.05" y2="529.69" stroke="#e8262a" stroke-width="0.5"/>
<circle cx="298.05" cy="528.69" r="0.85" fill="#e8262a"/>
<line x1="308.50" y1="525.28" x2="308.50" y2="529.83" stroke="#e8262a" stroke-width="0.5"/>
<circle cx="308.50" cy="528.83" r="0.85" fill="#e8262a"/>
<line x1="318.95" y1="519.98" x2="318.95" y2="530.47" stroke="#e8262a" stroke-width="0.5"/>
<circle cx="318.95" cy="529.47" r="0.85" fill="#e8262a"/>
<line x1="329.40" y1="525.07" x2="329.40" y2="533.22" stroke="#e8262a" stroke-width="0.5"/>
<circle cx="329.40" cy="532.22" r="0.85" fill="#e8262a"/>
<line x1="339.85" y1="540.24" x2="339.85" y2="542.40" stroke="#e8262a" stroke-width="0.45"/>
<circle cx="339.85" cy="541.32" r="0.85" fill="#e8262a"/>
<line x1="350.30" y1="554.13" x2="350.30" y2="559.30" stroke="#e8262a" stroke-width="0.45"/>
<circle cx="350.30" cy="556.72" r="0.85" fill="#e8262a"/>
<path d="M287.60,528.69 L288.65,528.69 L289.69,528.70 L290.74,528.71 L291.78,528.71 L292.83,528.72 L293.87,528.73 L294.92,528.74 L295.96,528.75 L297.00,528.77 L298.05,528.78 L299.10,528.80 L300.14,528.82 L301.19,528.84 L302.23,528.86 L303.28,528.89 L304.32,528.92 L305.37,528.96 L306.41,529.00 L307.45,529.04 L308.50,529.09 L309.55,529.15 L310.59,529.22 L311.64,529.29 L312.68,529.37 L313.73,529.46 L314.77,529.57 L315.82,529.68 L316.86,529.81 L317.91,529.96 L318.95,530.13 L320.00,530.31 L321.04,530.52 L322.09,530.75 L323.13,531.01 L324.18,531.30 L325.22,531.62 L326.27,531.98 L327.31,532.37 L328.36,532.81 L329.40,533.30 L330.45,533.83 L331.49,534.41 L332.54,535.05 L333.58,535.75 L334.62,536.50 L335.67,537.32 L336.72,538.19 L337.76,539.13 L338.81,540.13 L339.85,541.18 L340.90,542.29 L341.94,543.44 L342.99,544.64 L344.03,545.88 L345.08,547.14 L346.12,548.42 L347.17,549.72 L348.21,551.01 L349.26,552.29 L350.30,553.55" fill="none" stroke="#e8262a" stroke-width="0.9" stroke-linejoin="round"/>
<line x1="287.60" y1="528.09" x2="287.60" y2="529.29" stroke="#e8262a" stroke-width="0.45"/>
<circle cx="287.60" cy="528.69" r="0.85" fill="#e8262a"/>
<line x1="298.05" y1="520.26" x2="298.05" y2="529.78" stroke="#e8262a" stroke-width="0.5"/>
<circle cx="298.05" cy="528.78" r="0.85" fill="#e8262a"/>
<line x1="308.50" y1="523.22" x2="308.50" y2="530.09" stroke="#e8262a" stroke-width="0.5"/>
<circle cx="308.50" cy="529.09" r="0.85" fill="#e8262a"/>
<line x1="318.95" y1="524.19" x2="318.95" y2="531.13" stroke="#e8262a" stroke-width="0.5"/>
<circle cx="318.95" cy="530.13" r="0.85" fill="#e8262a"/>
<line x1="329.40" y1="524.32" x2="329.40" y2="534.30" stroke="#e8262a" stroke-width="0.5"/>
<circle cx="329.40" cy="533.30" r="0.85" fill="#e8262a"/>
<line x1="339.85" y1="537.84" x2="339.85" y2="544.52" stroke="#e8262a" stroke-width="0.45"/>
<circle cx="339.85" cy="541.18" r="0.85" fill="#e8262a"/>
<line x1="350.30" y1="551.56" x2="350.30" y2="555.54" stroke="#e8262a" stroke-width="0.45"/>
<circle cx="350.30" cy="553.55" r="0.85" fill="#e8262a"/>
<path d="M287.60,528.66 L288.65,528.66 L289.69,528.66 L290.74,528.67 L291.78,528.67 L292.83,528.67 L293.87,528.68 L294.92,528.68 L295.96,528.68 L297.00,528.69 L298.05,528.69 L299.10,528.70 L300.14,528.71 L301.19,528.72 L302.23,528.73 L303.28,528.74 L304.32,528.75 L305.37,528.77 L306.41,528.78 L307.45,528.80 L308.50,528.83 L309.55,528.85 L310.59,528.88 L311.64,528.92 L312.68,528.95 L313.73,529.00 L314.77,529.05 L315.82,529.11 L316.86,529.18 L317.91,529.25 L318.95,529.34 L320.00,529.44 L321.04,529.56 L322.09,529.69 L323.13,529.84 L324.18,530.01 L325.22,530.20 L326.27,530.42 L327.31,530.68 L328.36,530.96 L329.40,531.28 L330.45,531.65 L331.49,532.06 L332.54,532.52 L333.58,533.03 L334.62,533.61 L335.67,534.25 L336.72,534.96 L337.76,535.75 L338.81,536.61 L339.85,537.55 L340.90,538.58 L341.94,539.68 L342.99,540.87 L344.03,542.13 L345.08,543.46 L346.12,544.85 L347.17,546.29 L348.21,547.78 L349.26,549.30 L350.30,550.83" fill="none" stroke="#e8262a" stroke-width="0.9" stroke-linejoin="round"/>
<line x1="287.60" y1="528.06" x2="287.60" y2="529.26" stroke="#e8262a" stroke-width="0.45"/>
<circle cx="287.60" cy="528.66" r="0.85" fill="#e8262a"/>
<line x1="298.05" y1="522.59" x2="298.05" y2="529.69" stroke="#e8262a" stroke-width="0.5"/>
<circle cx="298.05" cy="528.69" r="0.85" fill="#e8262a"/>
<line x1="308.50" y1="520.31" x2="308.50" y2="529.83" stroke="#e8262a" stroke-width="0.5"/>
<circle cx="308.50" cy="528.83" r="0.85" fill="#e8262a"/>
<line x1="318.95" y1="518.83" x2="318.95" y2="530.34" stroke="#e8262a" stroke-width="0.5"/>
<circle cx="318.95" cy="529.34" r="0.85" fill="#e8262a"/>
<line x1="329.40" y1="523.93" x2="329.40" y2="532.28" stroke="#e8262a" stroke-width="0.5"/>
<circle cx="329.40" cy="531.28" r="0.85" fill="#e8262a"/>
<line x1="339.85" y1="535.00" x2="339.85" y2="540.11" stroke="#e8262a" stroke-width="0.45"/>
<circle cx="339.85" cy="537.55" r="0.85" fill="#e8262a"/>
<line x1="350.30" y1="548.76" x2="350.30" y2="552.89" stroke="#e8262a" stroke-width="0.45"/>
<circle cx="350.30" cy="550.83" r="0.85" fill="#e8262a"/>
<path d="M287.60,528.65 L288.65,528.65 L289.69,528.65 L290.74,528.65 L291.78,528.65 L292.83,528.65 L293.87,528.65 L294.92,528.65 L295.96,528.66 L297.00,528.66 L298.05,528.66 L299.10,528.66 L300.14,528.66 L301.19,528.66 L302.23,528.66 L303.28,528.67 L304.32,528.67 L305.37,528.67 L306.41,528.68 L307.45,528.68 L308.50,528.69 L309.55,528.70 L310.59,528.71 L311.64,528.72 L312.68,528.73 L313.73,528.74 L314.77,528.76 L315.82,528.78 L316.86,528.80 L317.91,528.83 L318.95,528.87 L320.00,528.91 L321.04,528.95 L322.09,529.01 L323.13,529.07 L324.18,529.15 L325.22,529.24 L326.27,529.35 L327.31,529.47 L328.36,529.62 L329.40,529.80 L330.45,530.00 L331.49,530.24 L332.54,530.52 L333.58,530.85 L334.62,531.23 L335.67,531.67 L336.72,532.18 L337.76,532.77 L338.81,533.44 L339.85,534.21 L340.90,535.09 L341.94,536.07 L342.99,537.18 L344.03,538.40 L345.08,539.75 L346.12,541.21 L347.17,542.78 L348.21,544.46 L349.26,546.21 L350.30,548.03" fill="none" stroke="#e8262a" stroke-width="0.9" stroke-linejoin="round"/>
<line x1="287.60" y1="528.05" x2="287.60" y2="529.25" stroke="#e8262a" stroke-width="0.45"/>
<circle cx="287.60" cy="528.65" r="0.85" fill="#e8262a"/>
<line x1="298.05" y1="525.49" x2="298.05" y2="529.66" stroke="#e8262a" stroke-width="0.5"/>
<circle cx="298.05" cy="528.66" r="0.85" fill="#e8262a"/>
<line x1="308.50" y1="524.07" x2="308.50" y2="529.69" stroke="#e8262a" stroke-width="0.5"/>
<circle cx="308.50" cy="528.69" r="0.85" fill="#e8262a"/>
<line x1="318.95" y1="518.01" x2="318.95" y2="529.87" stroke="#e8262a" stroke-width="0.5"/>
<circle cx="318.95" cy="528.87" r="0.85" fill="#e8262a"/>
<line x1="329.40" y1="519.77" x2="329.40" y2="530.80" stroke="#e8262a" stroke-width="0.5"/>
<circle cx="329.40" cy="529.80" r="0.85" fill="#e8262a"/>
<line x1="339.85" y1="530.25" x2="339.85" y2="538.18" stroke="#e8262a" stroke-width="0.45"/>
<circle cx="339.85" cy="534.21" r="0.85" fill="#e8262a"/>
<line x1="350.30" y1="544.17" x2="350.30" y2="551.90" stroke="#e8262a" stroke-width="0.45"/>
<circle cx="350.30" cy="548.03" r="0.85" fill="#e8262a"/>
<path d="M287.60,528.67 L288.65,528.67 L289.69,528.67 L290.74,528.68 L291.78,528.68 L292.83,528.69 L293.87,528.69 L294.92,528.70 L295.96,528.70 L297.00,528.71 L298.05,528.72 L299.10,528.72 L300.14,528.73 L301.19,528.75 L302.23,528.76 L303.28,528.77 L304.32,528.79 L305.37,528.81 L306.41,528.83 L307.45,528.85 L308.50,528.87 L309.55,528.90 L310.59,528.94 L311.64,528.97 L312.68,529.02 L313.73,529.06 L314.77,529.12 L315.82,529.18 L316.86,529.24 L317.91,529.32 L318.95,529.41 L320.00,529.50 L321.04,529.61 L322.09,529.74 L323.13,529.87 L324.18,530.03 L325.22,530.20 L326.27,530.40 L327.31,530.62 L328.36,530.86 L329.40,531.13 L330.45,531.44 L331.49,531.78 L332.54,532.15 L333.58,532.57 L334.62,533.03 L335.67,533.54 L336.72,534.10 L337.76,534.72 L338.81,535.39 L339.85,536.12 L340.90,536.92 L341.94,537.77 L342.99,538.70 L344.03,539.68 L345.08,540.73 L346.12,541.84 L347.17,543.01 L348.21,544.22 L349.26,545.49 L350.30,546.79" fill="none" stroke="#e8262a" stroke-width="0.9" stroke-linejoin="round"/>
<line x1="287.60" y1="528.07" x2="287.60" y2="529.27" stroke="#e8262a" stroke-width="0.45"/>
<circle cx="287.60" cy="528.67" r="0.85" fill="#e8262a"/>
<line x1="298.05" y1="523.96" x2="298.05" y2="529.72" stroke="#e8262a" stroke-width="0.5"/>
<circle cx="298.05" cy="528.72" r="0.85" fill="#e8262a"/>
<line x1="308.50" y1="524.60" x2="308.50" y2="529.87" stroke="#e8262a" stroke-width="0.5"/>
<circle cx="308.50" cy="528.87" r="0.85" fill="#e8262a"/>
<line x1="318.95" y1="521.67" x2="318.95" y2="530.41" stroke="#e8262a" stroke-width="0.5"/>
<circle cx="318.95" cy="529.41" r="0.85" fill="#e8262a"/>
<line x1="329.40" y1="520.23" x2="329.40" y2="532.13" stroke="#e8262a" stroke-width="0.5"/>
<circle cx="329.40" cy="531.13" r="0.85" fill="#e8262a"/>
<line x1="339.85" y1="533.68" x2="339.85" y2="538.56" stroke="#e8262a" stroke-width="0.45"/>
<circle cx="339.85" cy="536.12" r="0.85" fill="#e8262a"/>
<line x1="350.30" y1="543.83" x2="350.30" y2="549.74" stroke="#e8262a" stroke-width="0.45"/>
<circle cx="350.30" cy="546.79" r="0.85" fill="#e8262a"/>
<path d="M287.60,528.65 L288.65,528.65 L289.69,528.65 L290.74,528.65 L291.78,528.65 L292.83,528.65 L293.87,528.65 L294.92,528.66 L295.96,528.66 L297.00,528.66 L298.05,528.66 L299.10,528.66 L300.14,528.66 L301.19,528.66 L302.23,528.67 L303.28,528.67 L304.32,528.67 L305.37,528.67 L306.41,528.68 L307.45,528.68 L308.50,528.69 L309.55,528.69 L310.59,528.70 L311.64,528.71 L312.68,528.72 L313.73,528.73 L314.77,528.75 L315.82,528.76 L316.86,528.78 L317.91,528.80 L318.95,528.83 L320.00,528.85 L321.04,528.89 L322.09,528.93 L323.13,528.97 L324.18,529.03 L325.22,529.09 L326.27,529.16 L327.31,529.24 L328.36,529.34 L329.40,529.45 L330.45,529.59 L331.49,529.74 L332.54,529.91 L333.58,530.11 L334.62,530.35 L335.67,530.62 L336.72,530.93 L337.76,531.28 L338.81,531.69 L339.85,532.15 L340.90,532.68 L341.94,533.28 L342.99,533.96 L344.03,534.72 L345.08,535.57 L346.12,536.51 L347.17,537.55 L348.21,538.70 L349.26,539.94 L350.30,541.28" fill="none" stroke="#e8262a" stroke-width="0.9" stroke-linejoin="round"/>
<line x1="287.60" y1="528.05" x2="287.60" y2="529.25" stroke="#e8262a" stroke-width="0.45"/>
<circle cx="287.60" cy="528.65" r="0.85" fill="#e8262a"/>
<line x1="298.05" y1="523.00" x2="298.05" y2="529.66" stroke="#e8262a" stroke-width="0.5"/>
<circle cx="298.05" cy="528.66" r="0.85" fill="#e8262a"/>
<line x1="308.50" y1="520.98" x2="308.50" y2="529.69" stroke="#e8262a" stroke-width="0.5"/>
<circle cx="308.50" cy="528.69" r="0.85" fill="#e8262a"/>
<line x1="318.95" y1="518.73" x2="318.95" y2="529.83" stroke="#e8262a" stroke-width="0.5"/>
<circle cx="318.95" cy="528.83" r="0.85" fill="#e8262a"/>
<line x1="329.40" y1="523.13" x2="329.40" y2="530.45" stroke="#e8262a" stroke-width="0.5"/>
<circle cx="329.40" cy="529.45" r="0.85" fill="#e8262a"/>
<line x1="339.85" y1="528.79" x2="339.85" y2="535.52" stroke="#e8262a" stroke-width="0.45"/>
<circle cx="339.85" cy="532.15" r="0.85" fill="#e8262a"/>
<line x1="350.30" y1="539.28" x2="350.30" y2="543.28" stroke="#e8262a" stroke-width="0.45"/>
<circle cx="350.30" cy="541.28" r="0.85" fill="#e8262a"/>
<path d="M287.60,528.65 L288.65,528.65 L289.69,528.65 L290.74,528.65 L291.78,528.66 L292.83,528.66 L293.87,528.66 L294.92,528.66 L295.96,528.66 L297.00,528.66 L298.05,528.66 L299.10,528.66 L300.14,528.67 L301.19,528.67 L302.23,528.67 L303.28,528.68 L304.32,528.68 L305.37,528.68 L306.41,528.69 L307.45,528.69 L308.50,528.70 L309.55,528.71 L310.59,528.72 L311.64,528.73 L312.68,528.74 L313.73,528.75 L314.77,528.77 L315.82,528.78 L316.86,528.80 L317.91,528.83 L318.95,528.85 L320.00,528.88 L321.04,528.92 L322.09,528.95 L323.13,529.00 L324.18,529.05 L325.22,529.11 L326.27,529.18 L327.31,529.25 L328.36,529.34 L329.40,529.44 L330.45,529.56 L331.49,529.69 L332.54,529.84 L333.58,530.01 L334.62,530.20 L335.67,530.42 L336.72,530.68 L337.76,530.96 L338.81,531.28 L339.85,531.65 L340.90,532.06 L341.94,532.52 L342.99,533.03 L344.03,533.61 L345.08,534.25 L346.12,534.96 L347.17,535.75 L348.21,536.61 L349.26,537.55 L350.30,538.58" fill="none" stroke="#e8262a" stroke-width="0.9" stroke-linejoin="round"/>
<line x1="287.60" y1="528.05" x2="287.60" y2="529.25" stroke="#e8262a" stroke-width="0.45"/>
<circle cx="287.60" cy="528.65" r="0.85" fill="#e8262a"/>
<line x1="298.05" y1="520.35" x2="298.05" y2="529.66" stroke="#e8262a" stroke-width="0.5"/>
<circle cx="298.05" cy="528.66" r="0.85" fill="#e8262a"/>
<line x1="308.50" y1="523.31" x2="308.50" y2="529.70" stroke="#e8262a" stroke-width="0.5"/>
<circle cx="308.50" cy="528.70" r="0.85" fill="#e8262a"/>
<line x1="318.95" y1="518.39" x2="318.95" y2="529.85" stroke="#e8262a" stroke-width="0.5"/>
<circle cx="318.95" cy="528.85" r="0.85" fill="#e8262a"/>
<line x1="329.40" y1="524.30" x2="329.40" y2="530.44" stroke="#e8262a" stroke-width="0.5"/>
<circle cx="329.40" cy="529.44" r="0.85" fill="#e8262a"/>
<line x1="339.85" y1="530.19" x2="339.85" y2="533.10" stroke="#e8262a" stroke-width="0.45"/>
<circle cx="339.85" cy="531.65" r="0.85" fill="#e8262a"/>
<line x1="350.30" y1="534.86" x2="350.30" y2="542.29" stroke="#e8262a" stroke-width="0.45"/>
<circle cx="350.30" cy="538.58" r="0.85" fill="#e8262a"/>
<path d="M287.60,528.66 L288.65,528.66 L289.69,528.66 L290.74,528.67 L291.78,528.67 L292.83,528.67 L293.87,528.67 L294.92,528.67 L295.96,528.68 L297.00,528.68 L298.05,528.69 L299.10,528.69 L300.14,528.69 L301.19,528.70 L302.23,528.71 L303.28,528.71 L304.32,528.72 L305.37,528.73 L306.41,528.74 L307.45,528.75 L308.50,528.76 L309.55,528.77 L310.59,528.79 L311.64,528.81 L312.68,528.83 L313.73,528.85 L314.77,528.87 L315.82,528.90 L316.86,528.93 L317.91,528.96 L318.95,529.00 L320.00,529.04 L321.04,529.09 L322.09,529.14 L323.13,529.20 L324.18,529.27 L325.22,529.34 L326.27,529.42 L327.31,529.52 L328.36,529.62 L329.40,529.74 L330.45,529.87 L331.49,530.01 L332.54,530.17 L333.58,530.35 L334.62,530.55 L335.67,530.77 L336.72,531.01 L337.76,531.28 L338.81,531.58 L339.85,531.91 L340.90,532.28 L341.94,532.68 L342.99,533.12 L344.03,533.61 L345.08,534.14 L346.12,534.72 L347.17,535.35 L348.21,536.03 L349.26,536.76 L350.30,537.55" fill="none" stroke="#e8262a" stroke-width="0.9" stroke-linejoin="round"/>
<line x1="287.60" y1="528.06" x2="287.60" y2="529.26" stroke="#e8262a" stroke-width="0.45"/>
<circle cx="287.60" cy="528.66" r="0.85" fill="#e8262a"/>
<line x1="298.05" y1="522.83" x2="298.05" y2="529.69" stroke="#e8262a" stroke-width="0.5"/>
<circle cx="298.05" cy="528.69" r="0.85" fill="#e8262a"/>
<line x1="308.50" y1="520.34" x2="308.50" y2="529.76" stroke="#e8262a" stroke-width="0.5"/>
<circle cx="308.50" cy="528.76" r="0.85" fill="#e8262a"/>
<line x1="318.95" y1="521.28" x2="318.95" y2="530.00" stroke="#e8262a" stroke-width="0.5"/>
<circle cx="318.95" cy="529.00" r="0.85" fill="#e8262a"/>
<line x1="329.40" y1="523.44" x2="329.40" y2="530.74" stroke="#e8262a" stroke-width="0.5"/>
<circle cx="329.40" cy="529.74" r="0.85" fill="#e8262a"/>
<line x1="339.85" y1="530.87" x2="339.85" y2="532.96" stroke="#e8262a" stroke-width="0.45"/>
<circle cx="339.85" cy="531.91" r="0.85" fill="#e8262a"/>
<line x1="350.30" y1="533.64" x2="350.30" y2="541.47" stroke="#e8262a" stroke-width="0.45"/>
<circle cx="350.30" cy="537.55" r="0.85" fill="#e8262a"/>
<line x1="380.00" y1="495.10" x2="386.80" y2="495.10" stroke="#e8262a" stroke-width="0.7"/>
<circle cx="383.4" cy="495.10" r="1.05" fill="#e8262a"/>
<text x="392.20" y="496.90" font-size="5.0" text-anchor="start" font-weight="normal" fill="#111" stroke="#111" stroke-width="0.13">CRC0740_XL</text>
<line x1="380.00" y1="503.85" x2="386.80" y2="503.85" stroke="#e8262a" stroke-width="0.7"/>
<circle cx="383.4" cy="503.85" r="1.05" fill="#e8262a"/>
<text x="392.20" y="505.65" font-size="5.0" text-anchor="start" font-weight="normal" fill="#111" stroke="#111" stroke-width="0.13">HROC32_T3M1</text>
<line x1="380.00" y1="512.59" x2="386.80" y2="512.59" stroke="#e8262a" stroke-width="0.7"/>
<circle cx="383.4" cy="512.59" r="1.05" fill="#e8262a"/>
<text x="392.20" y="514.39" font-size="5.0" text-anchor="start" font-weight="normal" fill="#111" stroke="#111" stroke-width="0.13">HROC60</text>
<line x1="380.00" y1="521.34" x2="386.80" y2="521.34" stroke="#e8262a" stroke-width="0.7"/>
<circle cx="383.4" cy="521.34" r="1.05" fill="#e8262a"/>
<text x="392.20" y="523.13" font-size="5.0" text-anchor="start" font-weight="normal" fill="#111" stroke="#111" stroke-width="0.13">SW1116</text>
<line x1="380.00" y1="530.08" x2="386.80" y2="530.08" stroke="#e8262a" stroke-width="0.7"/>
<circle cx="383.4" cy="530.08" r="1.05" fill="#e8262a"/>
<text x="392.20" y="531.88" font-size="5.0" text-anchor="start" font-weight="normal" fill="#111" stroke="#111" stroke-width="0.13">COLO201</text>
<line x1="380.00" y1="538.83" x2="386.80" y2="538.83" stroke="#e8262a" stroke-width="0.7"/>
<circle cx="383.4" cy="538.83" r="1.05" fill="#e8262a"/>
<text x="392.20" y="540.62" font-size="5.0" text-anchor="start" font-weight="normal" fill="#111" stroke="#111" stroke-width="0.13">COLO678</text>
<line x1="380.00" y1="547.57" x2="386.80" y2="547.57" stroke="#e8262a" stroke-width="0.7"/>
<circle cx="383.4" cy="547.57" r="1.05" fill="#e8262a"/>
<text x="392.20" y="549.37" font-size="5.0" text-anchor="start" font-weight="normal" fill="#111" stroke="#111" stroke-width="0.13">JVE015</text>
<line x1="380.00" y1="556.32" x2="386.80" y2="556.32" stroke="#e8262a" stroke-width="0.7"/>
<circle cx="383.4" cy="556.32" r="1.05" fill="#e8262a"/>
<text x="392.20" y="558.12" font-size="5.0" text-anchor="start" font-weight="normal" fill="#111" stroke="#111" stroke-width="0.13">CO-115</text>
<line x1="380.00" y1="565.06" x2="386.80" y2="565.06" stroke="#e8262a" stroke-width="0.7"/>
<circle cx="383.4" cy="565.06" r="1.05" fill="#e8262a"/>
<text x="392.20" y="566.86" font-size="5.0" text-anchor="start" font-weight="normal" fill="#111" stroke="#111" stroke-width="0.13">KM12</text>
<line x1="380.00" y1="573.81" x2="386.80" y2="573.81" stroke="#e8262a" stroke-width="0.7"/>
<circle cx="383.4" cy="573.81" r="1.05" fill="#e8262a"/>
<text x="392.20" y="575.61" font-size="5.0" text-anchor="start" font-weight="normal" fill="#111" stroke="#111" stroke-width="0.13">SNU1411</text>
<line x1="380.00" y1="582.55" x2="386.80" y2="582.55" stroke="#e8262a" stroke-width="0.7"/>
<circle cx="383.4" cy="582.55" r="1.05" fill="#e8262a"/>
<text x="392.20" y="584.35" font-size="5.0" text-anchor="start" font-weight="normal" fill="#111" stroke="#111" stroke-width="0.13">SW480</text>
<line x1="380.00" y1="591.30" x2="386.80" y2="591.30" stroke="#2e49a4" stroke-width="0.7"/>
<circle cx="383.4" cy="591.30" r="1.05" fill="#2e49a4"/>
<text x="392.20" y="593.10" font-size="5.0" text-anchor="start" font-weight="normal" fill="#111" stroke="#111" stroke-width="0.13">C32</text>
<line x1="380.00" y1="600.04" x2="386.80" y2="600.04" stroke="#2e49a4" stroke-width="0.7"/>
<circle cx="383.4" cy="600.04" r="1.05" fill="#2e49a4"/>
<text x="392.20" y="601.84" font-size="5.0" text-anchor="start" font-weight="normal" fill="#111" stroke="#111" stroke-width="0.13">CL11</text>
<line x1="380.00" y1="608.78" x2="386.80" y2="608.78" stroke="#2e49a4" stroke-width="0.7"/>
<circle cx="383.4" cy="608.78" r="1.05" fill="#2e49a4"/>
<text x="392.20" y="610.58" font-size="5.0" text-anchor="start" font-weight="normal" fill="#111" stroke="#111" stroke-width="0.13">KP363T</text>
<line x1="438.50" y1="495.10" x2="445.60" y2="495.10" stroke="#2e49a4" stroke-width="0.7"/>
<circle cx="442.0" cy="495.10" r="1.05" fill="#2e49a4"/>
<text x="449.30" y="496.90" font-size="5.0" text-anchor="start" font-weight="normal" fill="#111" stroke="#111" stroke-width="0.13">HCA24</text>
<line x1="438.50" y1="503.81" x2="445.60" y2="503.81" stroke="#2e49a4" stroke-width="0.7"/>
<circle cx="442.0" cy="503.81" r="1.05" fill="#2e49a4"/>
<text x="449.30" y="505.62" font-size="5.0" text-anchor="start" font-weight="normal" fill="#111" stroke="#111" stroke-width="0.13">HROC284_MET</text>
<line x1="438.50" y1="512.53" x2="445.60" y2="512.53" stroke="#2e49a4" stroke-width="0.7"/>
<circle cx="442.0" cy="512.53" r="1.05" fill="#2e49a4"/>
<text x="449.30" y="514.33" font-size="5.0" text-anchor="start" font-weight="normal" fill="#111" stroke="#111" stroke-width="0.13">COGA2</text>
<line x1="438.50" y1="521.25" x2="445.60" y2="521.25" stroke="#2e49a4" stroke-width="0.7"/>
<circle cx="442.0" cy="521.25" r="1.05" fill="#2e49a4"/>
<text x="449.30" y="523.04" font-size="5.0" text-anchor="start" font-weight="normal" fill="#111" stroke="#111" stroke-width="0.13">LIM2099</text>
<line x1="438.50" y1="529.96" x2="445.60" y2="529.96" stroke="#2e49a4" stroke-width="0.7"/>
<circle cx="442.0" cy="529.96" r="1.05" fill="#2e49a4"/>
<text x="449.30" y="531.76" font-size="5.0" text-anchor="start" font-weight="normal" fill="#111" stroke="#111" stroke-width="0.13">NCI-H498</text>
<line x1="438.50" y1="538.68" x2="445.60" y2="538.68" stroke="#2e49a4" stroke-width="0.7"/>
<circle cx="442.0" cy="538.68" r="1.05" fill="#2e49a4"/>
<text x="449.30" y="540.48" font-size="5.0" text-anchor="start" font-weight="normal" fill="#111" stroke="#111" stroke-width="0.13">SKCO1</text>
<line x1="438.50" y1="547.39" x2="445.60" y2="547.39" stroke="#2e49a4" stroke-width="0.7"/>
<circle cx="442.0" cy="547.39" r="1.05" fill="#2e49a4"/>
<text x="449.30" y="549.19" font-size="5.0" text-anchor="start" font-weight="normal" fill="#111" stroke="#111" stroke-width="0.13">VACO432</text>
<line x1="438.50" y1="556.11" x2="445.60" y2="556.11" stroke="#2e49a4" stroke-width="0.7"/>
<circle cx="442.0" cy="556.11" r="1.05" fill="#2e49a4"/>
<text x="449.30" y="557.90" font-size="5.0" text-anchor="start" font-weight="normal" fill="#111" stroke="#111" stroke-width="0.13">SNU1544</text>
<line x1="438.50" y1="564.82" x2="445.60" y2="564.82" stroke="#2e49a4" stroke-width="0.7"/>
<circle cx="442.0" cy="564.82" r="1.05" fill="#2e49a4"/>
<text x="449.30" y="566.62" font-size="5.0" text-anchor="start" font-weight="normal" fill="#111" stroke="#111" stroke-width="0.13">HROC334</text>
<line x1="438.50" y1="573.54" x2="445.60" y2="573.54" stroke="#2e49a4" stroke-width="0.7"/>
<circle cx="442.0" cy="573.54" r="1.05" fill="#2e49a4"/>
<text x="449.30" y="575.34" font-size="5.0" text-anchor="start" font-weight="normal" fill="#111" stroke="#111" stroke-width="0.13">CRC0558_XL</text>
<line x1="438.50" y1="582.25" x2="445.60" y2="582.25" stroke="#2e49a4" stroke-width="0.7"/>
<circle cx="442.0" cy="582.25" r="1.05" fill="#2e49a4"/>
<text x="449.30" y="584.05" font-size="5.0" text-anchor="start" font-weight="normal" fill="#111" stroke="#111" stroke-width="0.13">OXCO3</text>
<line x1="438.50" y1="590.97" x2="445.60" y2="590.97" stroke="#2e49a4" stroke-width="0.7"/>
<circle cx="442.0" cy="590.97" r="1.05" fill="#2e49a4"/>
<text x="449.30" y="592.76" font-size="5.0" text-anchor="start" font-weight="normal" fill="#111" stroke="#111" stroke-width="0.13">C80</text>
<line x1="438.50" y1="599.68" x2="445.60" y2="599.68" stroke="#2e49a4" stroke-width="0.7"/>
<circle cx="442.0" cy="599.68" r="1.05" fill="#2e49a4"/>
<text x="449.30" y="601.48" font-size="5.0" text-anchor="start" font-weight="normal" fill="#111" stroke="#111" stroke-width="0.13">SW403</text>
<line x1="438.50" y1="608.39" x2="445.60" y2="608.39" stroke="#2e49a4" stroke-width="0.7"/>
<circle cx="442.0" cy="608.39" r="1.05" fill="#2e49a4"/>
<text x="449.30" y="610.19" font-size="5.0" text-anchor="start" font-weight="normal" fill="#111" stroke="#111" stroke-width="0.13">HROC278_MET</text>
</g>
</svg>
</body></html>
